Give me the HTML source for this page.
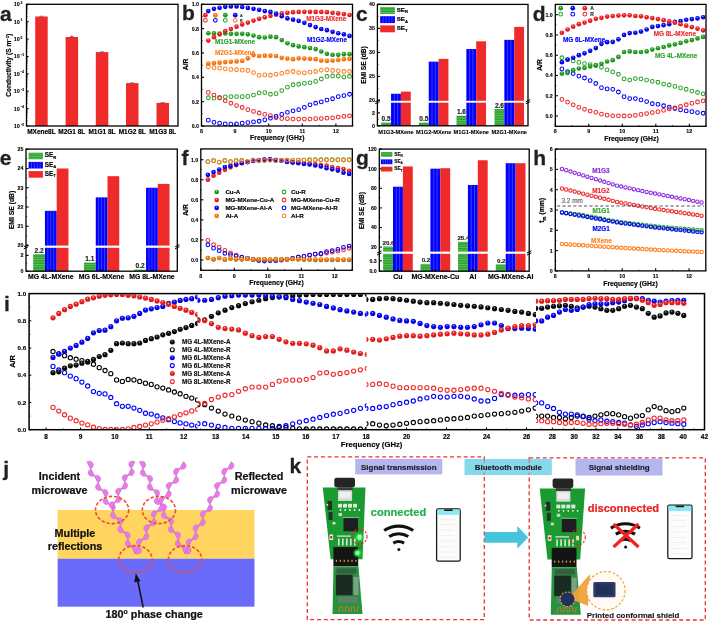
<!DOCTYPE html><html><head><meta charset="utf-8"><style>html,body{margin:0;padding:0;background:#fff;}svg{display:block;will-change:transform;font-family:"Liberation Sans", sans-serif;}</style></head><body>
<svg width="709" height="623" viewBox="0 0 709 623">
<rect width="709" height="623" fill="#fff"/>
<defs>
<radialGradient id="gR" cx="0.45" cy="0.32" r="0.7"><stop offset="0" stop-color="#ffc0c0"/><stop offset="0.3" stop-color="#f02222"/><stop offset="1" stop-color="#d41818"/></radialGradient>
<radialGradient id="gB" cx="0.45" cy="0.32" r="0.7"><stop offset="0" stop-color="#b0b0ff"/><stop offset="0.3" stop-color="#0a0af4"/><stop offset="1" stop-color="#0000d8"/></radialGradient>
<radialGradient id="gG" cx="0.45" cy="0.32" r="0.7"><stop offset="0" stop-color="#b0e8b0"/><stop offset="0.3" stop-color="#24a024"/><stop offset="1" stop-color="#1c8a1c"/></radialGradient>
<radialGradient id="gO" cx="0.45" cy="0.32" r="0.7"><stop offset="0" stop-color="#ffd8b0"/><stop offset="0.3" stop-color="#ff7a12"/><stop offset="1" stop-color="#e86a08"/></radialGradient>
<radialGradient id="gK" cx="0.45" cy="0.32" r="0.7"><stop offset="0" stop-color="#a0a0a0"/><stop offset="0.3" stop-color="#111111"/><stop offset="1" stop-color="#000000"/></radialGradient>
<radialGradient id="gP" cx="0.45" cy="0.32" r="0.7"><stop offset="0" stop-color="#d0a0ff"/><stop offset="0.3" stop-color="#8a2be2"/><stop offset="1" stop-color="#7020c0"/></radialGradient>
<pattern id="pG" patternUnits="userSpaceOnUse" width="4" height="2.4"><rect width="4" height="2.4" fill="#2ea52e"/><rect y="0" width="4" height="0.7" fill="#6cc66c"/></pattern>
</defs>
<defs><radialGradient id="glow"><stop offset="0" stop-color="#eaffea"/><stop offset="0.4" stop-color="#40ff60"/><stop offset="1" stop-color="#20c040" stop-opacity="0"/></radialGradient></defs>
<rect x="35.2" y="16.5" width="12.5" height="109.5" fill="#ee2a2a"/>
<line x1="39.4" y1="16.2" x2="43.4" y2="16.2" stroke="#333" stroke-width="0.6"/>
<rect x="65.6" y="37" width="12.5" height="89" fill="#ee2a2a"/>
<line x1="69.8" y1="36.7" x2="73.8" y2="36.7" stroke="#333" stroke-width="0.6"/>
<rect x="95.8" y="52.1" width="12.5" height="73.9" fill="#ee2a2a"/>
<line x1="100" y1="51.8" x2="104" y2="51.8" stroke="#333" stroke-width="0.6"/>
<rect x="126" y="83.1" width="12.5" height="42.9" fill="#ee2a2a"/>
<line x1="130.2" y1="82.8" x2="134.2" y2="82.8" stroke="#333" stroke-width="0.6"/>
<rect x="156.5" y="102.9" width="12.5" height="23.1" fill="#ee2a2a"/>
<line x1="160.7" y1="102.6" x2="164.7" y2="102.6" stroke="#333" stroke-width="0.6"/>
<line x1="71.8" y1="34.8" x2="71.8" y2="37" stroke="#555" stroke-width="0.6"/>
<rect x="26.5" y="4.3" width="151.5" height="121.7" fill="none" stroke="#000" stroke-width="1.3"/>
<line x1="26.5" y1="4.3" x2="28.7" y2="4.3" stroke="#000" stroke-width="1"/>
<line x1="26.5" y1="16.45" x2="27.7" y2="16.45" stroke="#000" stroke-width="0.6"/>
<line x1="26.5" y1="13.39" x2="27.7" y2="13.39" stroke="#000" stroke-width="0.6"/>
<line x1="26.5" y1="11.22" x2="27.7" y2="11.22" stroke="#000" stroke-width="0.6"/>
<line x1="26.5" y1="9.53" x2="27.7" y2="9.53" stroke="#000" stroke-width="0.6"/>
<line x1="26.5" y1="8.16" x2="27.7" y2="8.16" stroke="#000" stroke-width="0.6"/>
<line x1="26.5" y1="6.99" x2="27.7" y2="6.99" stroke="#000" stroke-width="0.6"/>
<line x1="26.5" y1="5.98" x2="27.7" y2="5.98" stroke="#000" stroke-width="0.6"/>
<line x1="26.5" y1="5.1" x2="27.7" y2="5.1" stroke="#000" stroke-width="0.6"/>
<line x1="26.5" y1="21.69" x2="28.7" y2="21.69" stroke="#000" stroke-width="1"/>
<line x1="26.5" y1="33.84" x2="27.7" y2="33.84" stroke="#000" stroke-width="0.6"/>
<line x1="26.5" y1="30.78" x2="27.7" y2="30.78" stroke="#000" stroke-width="0.6"/>
<line x1="26.5" y1="28.6" x2="27.7" y2="28.6" stroke="#000" stroke-width="0.6"/>
<line x1="26.5" y1="26.92" x2="27.7" y2="26.92" stroke="#000" stroke-width="0.6"/>
<line x1="26.5" y1="25.54" x2="27.7" y2="25.54" stroke="#000" stroke-width="0.6"/>
<line x1="26.5" y1="24.38" x2="27.7" y2="24.38" stroke="#000" stroke-width="0.6"/>
<line x1="26.5" y1="23.37" x2="27.7" y2="23.37" stroke="#000" stroke-width="0.6"/>
<line x1="26.5" y1="22.48" x2="27.7" y2="22.48" stroke="#000" stroke-width="0.6"/>
<line x1="26.5" y1="39.07" x2="28.7" y2="39.07" stroke="#000" stroke-width="1"/>
<line x1="26.5" y1="51.22" x2="27.7" y2="51.22" stroke="#000" stroke-width="0.6"/>
<line x1="26.5" y1="48.16" x2="27.7" y2="48.16" stroke="#000" stroke-width="0.6"/>
<line x1="26.5" y1="45.99" x2="27.7" y2="45.99" stroke="#000" stroke-width="0.6"/>
<line x1="26.5" y1="44.31" x2="27.7" y2="44.31" stroke="#000" stroke-width="0.6"/>
<line x1="26.5" y1="42.93" x2="27.7" y2="42.93" stroke="#000" stroke-width="0.6"/>
<line x1="26.5" y1="41.76" x2="27.7" y2="41.76" stroke="#000" stroke-width="0.6"/>
<line x1="26.5" y1="40.76" x2="27.7" y2="40.76" stroke="#000" stroke-width="0.6"/>
<line x1="26.5" y1="39.87" x2="27.7" y2="39.87" stroke="#000" stroke-width="0.6"/>
<line x1="26.5" y1="56.46" x2="28.7" y2="56.46" stroke="#000" stroke-width="1"/>
<line x1="26.5" y1="68.61" x2="27.7" y2="68.61" stroke="#000" stroke-width="0.6"/>
<line x1="26.5" y1="65.55" x2="27.7" y2="65.55" stroke="#000" stroke-width="0.6"/>
<line x1="26.5" y1="63.38" x2="27.7" y2="63.38" stroke="#000" stroke-width="0.6"/>
<line x1="26.5" y1="61.69" x2="27.7" y2="61.69" stroke="#000" stroke-width="0.6"/>
<line x1="26.5" y1="60.31" x2="27.7" y2="60.31" stroke="#000" stroke-width="0.6"/>
<line x1="26.5" y1="59.15" x2="27.7" y2="59.15" stroke="#000" stroke-width="0.6"/>
<line x1="26.5" y1="58.14" x2="27.7" y2="58.14" stroke="#000" stroke-width="0.6"/>
<line x1="26.5" y1="57.25" x2="27.7" y2="57.25" stroke="#000" stroke-width="0.6"/>
<line x1="26.5" y1="73.84" x2="28.7" y2="73.84" stroke="#000" stroke-width="1"/>
<line x1="26.5" y1="85.99" x2="27.7" y2="85.99" stroke="#000" stroke-width="0.6"/>
<line x1="26.5" y1="82.93" x2="27.7" y2="82.93" stroke="#000" stroke-width="0.6"/>
<line x1="26.5" y1="80.76" x2="27.7" y2="80.76" stroke="#000" stroke-width="0.6"/>
<line x1="26.5" y1="79.08" x2="27.7" y2="79.08" stroke="#000" stroke-width="0.6"/>
<line x1="26.5" y1="77.7" x2="27.7" y2="77.7" stroke="#000" stroke-width="0.6"/>
<line x1="26.5" y1="76.54" x2="27.7" y2="76.54" stroke="#000" stroke-width="0.6"/>
<line x1="26.5" y1="75.53" x2="27.7" y2="75.53" stroke="#000" stroke-width="0.6"/>
<line x1="26.5" y1="74.64" x2="27.7" y2="74.64" stroke="#000" stroke-width="0.6"/>
<line x1="26.5" y1="91.23" x2="28.7" y2="91.23" stroke="#000" stroke-width="1"/>
<line x1="26.5" y1="103.38" x2="27.7" y2="103.38" stroke="#000" stroke-width="0.6"/>
<line x1="26.5" y1="100.32" x2="27.7" y2="100.32" stroke="#000" stroke-width="0.6"/>
<line x1="26.5" y1="98.15" x2="27.7" y2="98.15" stroke="#000" stroke-width="0.6"/>
<line x1="26.5" y1="96.46" x2="27.7" y2="96.46" stroke="#000" stroke-width="0.6"/>
<line x1="26.5" y1="95.09" x2="27.7" y2="95.09" stroke="#000" stroke-width="0.6"/>
<line x1="26.5" y1="93.92" x2="27.7" y2="93.92" stroke="#000" stroke-width="0.6"/>
<line x1="26.5" y1="92.91" x2="27.7" y2="92.91" stroke="#000" stroke-width="0.6"/>
<line x1="26.5" y1="92.02" x2="27.7" y2="92.02" stroke="#000" stroke-width="0.6"/>
<line x1="26.5" y1="108.61" x2="28.7" y2="108.61" stroke="#000" stroke-width="1"/>
<line x1="26.5" y1="120.77" x2="27.7" y2="120.77" stroke="#000" stroke-width="0.6"/>
<line x1="26.5" y1="117.7" x2="27.7" y2="117.7" stroke="#000" stroke-width="0.6"/>
<line x1="26.5" y1="115.53" x2="27.7" y2="115.53" stroke="#000" stroke-width="0.6"/>
<line x1="26.5" y1="113.85" x2="27.7" y2="113.85" stroke="#000" stroke-width="0.6"/>
<line x1="26.5" y1="112.47" x2="27.7" y2="112.47" stroke="#000" stroke-width="0.6"/>
<line x1="26.5" y1="111.31" x2="27.7" y2="111.31" stroke="#000" stroke-width="0.6"/>
<line x1="26.5" y1="110.3" x2="27.7" y2="110.3" stroke="#000" stroke-width="0.6"/>
<line x1="26.5" y1="109.41" x2="27.7" y2="109.41" stroke="#000" stroke-width="0.6"/>
<line x1="26.5" y1="126" x2="28.7" y2="126" stroke="#000" stroke-width="1"/>
<text x="19.7" y="6.3" font-size="5.4" font-weight="bold" fill="#000" text-anchor="end" stroke="#000" stroke-width="0.1">10</text>
<text x="20.4" y="3.9" font-size="3.3" font-weight="bold" fill="#000" text-anchor="start" stroke="#000" stroke-width="0.1">2</text>
<text x="19.7" y="23.69" font-size="5.4" font-weight="bold" fill="#000" text-anchor="end" stroke="#000" stroke-width="0.1">10</text>
<text x="20.4" y="21.29" font-size="3.3" font-weight="bold" fill="#000" text-anchor="start" stroke="#000" stroke-width="0.1">1</text>
<text x="19.7" y="41.07" font-size="5.4" font-weight="bold" fill="#000" text-anchor="end" stroke="#000" stroke-width="0.1">10</text>
<text x="20.4" y="38.67" font-size="3.3" font-weight="bold" fill="#000" text-anchor="start" stroke="#000" stroke-width="0.1">0</text>
<text x="19.7" y="58.46" font-size="5.4" font-weight="bold" fill="#000" text-anchor="end" stroke="#000" stroke-width="0.1">10</text>
<text x="20.4" y="56.06" font-size="3.3" font-weight="bold" fill="#000" text-anchor="start" stroke="#000" stroke-width="0.1">&#8722;1</text>
<text x="19.7" y="75.84" font-size="5.4" font-weight="bold" fill="#000" text-anchor="end" stroke="#000" stroke-width="0.1">10</text>
<text x="20.4" y="73.44" font-size="3.3" font-weight="bold" fill="#000" text-anchor="start" stroke="#000" stroke-width="0.1">&#8722;2</text>
<text x="19.7" y="93.23" font-size="5.4" font-weight="bold" fill="#000" text-anchor="end" stroke="#000" stroke-width="0.1">10</text>
<text x="20.4" y="90.83" font-size="3.3" font-weight="bold" fill="#000" text-anchor="start" stroke="#000" stroke-width="0.1">&#8722;3</text>
<text x="19.7" y="110.61" font-size="5.4" font-weight="bold" fill="#000" text-anchor="end" stroke="#000" stroke-width="0.1">10</text>
<text x="20.4" y="108.21" font-size="3.3" font-weight="bold" fill="#000" text-anchor="start" stroke="#000" stroke-width="0.1">&#8722;4</text>
<text x="19.7" y="128" font-size="5.4" font-weight="bold" fill="#000" text-anchor="end" stroke="#000" stroke-width="0.1">10</text>
<text x="20.4" y="125.6" font-size="3.3" font-weight="bold" fill="#000" text-anchor="start" stroke="#000" stroke-width="0.1">&#8722;5</text>
<text x="41.4" y="134.2" font-size="6.5" font-weight="bold" fill="#000" text-anchor="middle" stroke="#000" stroke-width="0.16">MXene8L</text>
<text x="71.8" y="134.2" font-size="6.5" font-weight="bold" fill="#000" text-anchor="middle" stroke="#000" stroke-width="0.16">M2G1 8L</text>
<text x="102" y="134.2" font-size="6.5" font-weight="bold" fill="#000" text-anchor="middle" stroke="#000" stroke-width="0.16">M1G1 8L</text>
<text x="132.2" y="134.2" font-size="6.5" font-weight="bold" fill="#000" text-anchor="middle" stroke="#000" stroke-width="0.16">M1G2 8L</text>
<text x="162.7" y="134.2" font-size="6.5" font-weight="bold" fill="#000" text-anchor="middle" stroke="#000" stroke-width="0.16">M1G3 8L</text>
<text x="11.4" y="65.3" font-size="6.6" font-weight="bold" fill="#000" text-anchor="middle" transform="rotate(-90 11.4 65.3)" stroke="#000" stroke-width="0.16">Conductivity (S m<tspan font-size="4.2" dy="-2.3">&#8722;1</tspan><tspan dy="2.3">)</tspan></text>
<text x="0.1" y="20.6" font-size="21" font-weight="bold" fill="#231f20" text-anchor="start" stroke="#231f20" stroke-width="0.3">a</text>
<circle cx="208.3" cy="66.73" r="1.87" fill="none" stroke="#ff7f1e" stroke-width="1.05"/>
<circle cx="213.95" cy="67.71" r="1.87" fill="none" stroke="#ff7f1e" stroke-width="1.05"/>
<circle cx="219.6" cy="68.19" r="1.87" fill="none" stroke="#ff7f1e" stroke-width="1.05"/>
<circle cx="225.25" cy="68.8" r="1.87" fill="none" stroke="#ff7f1e" stroke-width="1.05"/>
<circle cx="230.9" cy="69.41" r="1.87" fill="none" stroke="#ff7f1e" stroke-width="1.05"/>
<circle cx="236.55" cy="69.77" r="1.87" fill="none" stroke="#ff7f1e" stroke-width="1.05"/>
<circle cx="242.2" cy="70.14" r="1.87" fill="none" stroke="#ff7f1e" stroke-width="1.05"/>
<circle cx="247.85" cy="70.5" r="1.87" fill="none" stroke="#ff7f1e" stroke-width="1.05"/>
<circle cx="253.5" cy="72.57" r="1.87" fill="none" stroke="#ff7f1e" stroke-width="1.05"/>
<circle cx="259.15" cy="75.37" r="1.87" fill="none" stroke="#ff7f1e" stroke-width="1.05"/>
<circle cx="264.8" cy="74.89" r="1.87" fill="none" stroke="#ff7f1e" stroke-width="1.05"/>
<circle cx="270.45" cy="75.25" r="1.87" fill="none" stroke="#ff7f1e" stroke-width="1.05"/>
<circle cx="276.1" cy="74.28" r="1.87" fill="none" stroke="#ff7f1e" stroke-width="1.05"/>
<circle cx="281.75" cy="73.3" r="1.87" fill="none" stroke="#ff7f1e" stroke-width="1.05"/>
<circle cx="287.4" cy="71.97" r="1.87" fill="none" stroke="#ff7f1e" stroke-width="1.05"/>
<circle cx="293.05" cy="71.48" r="1.87" fill="none" stroke="#ff7f1e" stroke-width="1.05"/>
<circle cx="298.7" cy="72.57" r="1.87" fill="none" stroke="#ff7f1e" stroke-width="1.05"/>
<circle cx="304.35" cy="72.94" r="1.87" fill="none" stroke="#ff7f1e" stroke-width="1.05"/>
<circle cx="310" cy="72.21" r="1.87" fill="none" stroke="#ff7f1e" stroke-width="1.05"/>
<circle cx="315.65" cy="71.48" r="1.87" fill="none" stroke="#ff7f1e" stroke-width="1.05"/>
<circle cx="321.3" cy="70.14" r="1.87" fill="none" stroke="#ff7f1e" stroke-width="1.05"/>
<circle cx="326.95" cy="69.77" r="1.87" fill="none" stroke="#ff7f1e" stroke-width="1.05"/>
<circle cx="332.6" cy="70.5" r="1.87" fill="none" stroke="#ff7f1e" stroke-width="1.05"/>
<circle cx="338.25" cy="70.87" r="1.87" fill="none" stroke="#ff7f1e" stroke-width="1.05"/>
<circle cx="343.9" cy="71.48" r="1.87" fill="none" stroke="#ff7f1e" stroke-width="1.05"/>
<circle cx="349.55" cy="71.48" r="1.87" fill="none" stroke="#ff7f1e" stroke-width="1.05"/>
<circle cx="208.3" cy="97.77" r="1.87" fill="none" stroke="#2ea52e" stroke-width="1.05"/>
<circle cx="213.95" cy="98.13" r="1.87" fill="none" stroke="#2ea52e" stroke-width="1.05"/>
<circle cx="219.6" cy="97.77" r="1.87" fill="none" stroke="#2ea52e" stroke-width="1.05"/>
<circle cx="225.25" cy="96.91" r="1.87" fill="none" stroke="#2ea52e" stroke-width="1.05"/>
<circle cx="230.9" cy="96.67" r="1.87" fill="none" stroke="#2ea52e" stroke-width="1.05"/>
<circle cx="236.55" cy="96.67" r="1.87" fill="none" stroke="#2ea52e" stroke-width="1.05"/>
<circle cx="242.2" cy="96.67" r="1.87" fill="none" stroke="#2ea52e" stroke-width="1.05"/>
<circle cx="247.85" cy="96.43" r="1.87" fill="none" stroke="#2ea52e" stroke-width="1.05"/>
<circle cx="253.5" cy="95.09" r="1.87" fill="none" stroke="#2ea52e" stroke-width="1.05"/>
<circle cx="259.15" cy="92.9" r="1.87" fill="none" stroke="#2ea52e" stroke-width="1.05"/>
<circle cx="264.8" cy="92.53" r="1.87" fill="none" stroke="#2ea52e" stroke-width="1.05"/>
<circle cx="270.45" cy="94.24" r="1.87" fill="none" stroke="#2ea52e" stroke-width="1.05"/>
<circle cx="276.1" cy="93.63" r="1.87" fill="none" stroke="#2ea52e" stroke-width="1.05"/>
<circle cx="281.75" cy="90.59" r="1.87" fill="none" stroke="#2ea52e" stroke-width="1.05"/>
<circle cx="287.4" cy="87.18" r="1.87" fill="none" stroke="#2ea52e" stroke-width="1.05"/>
<circle cx="293.05" cy="84.74" r="1.87" fill="none" stroke="#2ea52e" stroke-width="1.05"/>
<circle cx="298.7" cy="84.26" r="1.87" fill="none" stroke="#2ea52e" stroke-width="1.05"/>
<circle cx="304.35" cy="83.41" r="1.87" fill="none" stroke="#2ea52e" stroke-width="1.05"/>
<circle cx="310" cy="82.8" r="1.87" fill="none" stroke="#2ea52e" stroke-width="1.05"/>
<circle cx="315.65" cy="81.46" r="1.87" fill="none" stroke="#2ea52e" stroke-width="1.05"/>
<circle cx="321.3" cy="79.02" r="1.87" fill="none" stroke="#2ea52e" stroke-width="1.05"/>
<circle cx="326.95" cy="76.47" r="1.87" fill="none" stroke="#2ea52e" stroke-width="1.05"/>
<circle cx="332.6" cy="75.98" r="1.87" fill="none" stroke="#2ea52e" stroke-width="1.05"/>
<circle cx="338.25" cy="75.98" r="1.87" fill="none" stroke="#2ea52e" stroke-width="1.05"/>
<circle cx="343.9" cy="77.08" r="1.87" fill="none" stroke="#2ea52e" stroke-width="1.05"/>
<circle cx="349.55" cy="76.47" r="1.87" fill="none" stroke="#2ea52e" stroke-width="1.05"/>
<circle cx="208.3" cy="92.41" r="1.87" fill="none" stroke="#ee2a2a" stroke-width="1.05"/>
<circle cx="213.95" cy="95.09" r="1.87" fill="none" stroke="#ee2a2a" stroke-width="1.05"/>
<circle cx="219.6" cy="97.77" r="1.87" fill="none" stroke="#ee2a2a" stroke-width="1.05"/>
<circle cx="225.25" cy="100.81" r="1.87" fill="none" stroke="#ee2a2a" stroke-width="1.05"/>
<circle cx="230.9" cy="103.24" r="1.87" fill="none" stroke="#ee2a2a" stroke-width="1.05"/>
<circle cx="236.55" cy="105.55" r="1.87" fill="none" stroke="#ee2a2a" stroke-width="1.05"/>
<circle cx="242.2" cy="107.5" r="1.87" fill="none" stroke="#ee2a2a" stroke-width="1.05"/>
<circle cx="247.85" cy="109.69" r="1.87" fill="none" stroke="#ee2a2a" stroke-width="1.05"/>
<circle cx="253.5" cy="111.4" r="1.87" fill="none" stroke="#ee2a2a" stroke-width="1.05"/>
<circle cx="259.15" cy="112.98" r="1.87" fill="none" stroke="#ee2a2a" stroke-width="1.05"/>
<circle cx="264.8" cy="114.44" r="1.87" fill="none" stroke="#ee2a2a" stroke-width="1.05"/>
<circle cx="270.45" cy="115.53" r="1.87" fill="none" stroke="#ee2a2a" stroke-width="1.05"/>
<circle cx="276.1" cy="117.85" r="1.87" fill="none" stroke="#ee2a2a" stroke-width="1.05"/>
<circle cx="281.75" cy="118.58" r="1.87" fill="none" stroke="#ee2a2a" stroke-width="1.05"/>
<circle cx="287.4" cy="118.7" r="1.87" fill="none" stroke="#ee2a2a" stroke-width="1.05"/>
<circle cx="293.05" cy="119.06" r="1.87" fill="none" stroke="#ee2a2a" stroke-width="1.05"/>
<circle cx="298.7" cy="119.06" r="1.87" fill="none" stroke="#ee2a2a" stroke-width="1.05"/>
<circle cx="304.35" cy="119.06" r="1.87" fill="none" stroke="#ee2a2a" stroke-width="1.05"/>
<circle cx="310" cy="119.06" r="1.87" fill="none" stroke="#ee2a2a" stroke-width="1.05"/>
<circle cx="315.65" cy="118.7" r="1.87" fill="none" stroke="#ee2a2a" stroke-width="1.05"/>
<circle cx="321.3" cy="118.58" r="1.87" fill="none" stroke="#ee2a2a" stroke-width="1.05"/>
<circle cx="326.95" cy="118.21" r="1.87" fill="none" stroke="#ee2a2a" stroke-width="1.05"/>
<circle cx="332.6" cy="117.85" r="1.87" fill="none" stroke="#ee2a2a" stroke-width="1.05"/>
<circle cx="338.25" cy="117.12" r="1.87" fill="none" stroke="#ee2a2a" stroke-width="1.05"/>
<circle cx="343.9" cy="116.39" r="1.87" fill="none" stroke="#ee2a2a" stroke-width="1.05"/>
<circle cx="349.55" cy="115.78" r="1.87" fill="none" stroke="#ee2a2a" stroke-width="1.05"/>
<circle cx="208.3" cy="120.16" r="1.87" fill="none" stroke="#0000ff" stroke-width="1.05"/>
<circle cx="213.95" cy="122.35" r="1.87" fill="none" stroke="#0000ff" stroke-width="1.05"/>
<circle cx="219.6" cy="123.2" r="1.87" fill="none" stroke="#0000ff" stroke-width="1.05"/>
<circle cx="225.25" cy="123.93" r="1.87" fill="none" stroke="#0000ff" stroke-width="1.05"/>
<circle cx="230.9" cy="124.17" r="1.87" fill="none" stroke="#0000ff" stroke-width="1.05"/>
<circle cx="236.55" cy="123.93" r="1.87" fill="none" stroke="#0000ff" stroke-width="1.05"/>
<circle cx="242.2" cy="123.2" r="1.87" fill="none" stroke="#0000ff" stroke-width="1.05"/>
<circle cx="247.85" cy="122.59" r="1.87" fill="none" stroke="#0000ff" stroke-width="1.05"/>
<circle cx="253.5" cy="121.86" r="1.87" fill="none" stroke="#0000ff" stroke-width="1.05"/>
<circle cx="259.15" cy="121.25" r="1.87" fill="none" stroke="#0000ff" stroke-width="1.05"/>
<circle cx="264.8" cy="119.79" r="1.87" fill="none" stroke="#0000ff" stroke-width="1.05"/>
<circle cx="270.45" cy="118.21" r="1.87" fill="none" stroke="#0000ff" stroke-width="1.05"/>
<circle cx="276.1" cy="116.39" r="1.87" fill="none" stroke="#0000ff" stroke-width="1.05"/>
<circle cx="281.75" cy="114.44" r="1.87" fill="none" stroke="#0000ff" stroke-width="1.05"/>
<circle cx="287.4" cy="112.37" r="1.87" fill="none" stroke="#0000ff" stroke-width="1.05"/>
<circle cx="293.05" cy="110.79" r="1.87" fill="none" stroke="#0000ff" stroke-width="1.05"/>
<circle cx="298.7" cy="109.69" r="1.87" fill="none" stroke="#0000ff" stroke-width="1.05"/>
<circle cx="304.35" cy="107.38" r="1.87" fill="none" stroke="#0000ff" stroke-width="1.05"/>
<circle cx="310" cy="104.82" r="1.87" fill="none" stroke="#0000ff" stroke-width="1.05"/>
<circle cx="315.65" cy="103.24" r="1.87" fill="none" stroke="#0000ff" stroke-width="1.05"/>
<circle cx="321.3" cy="101.9" r="1.87" fill="none" stroke="#0000ff" stroke-width="1.05"/>
<circle cx="326.95" cy="100.08" r="1.87" fill="none" stroke="#0000ff" stroke-width="1.05"/>
<circle cx="332.6" cy="98.74" r="1.87" fill="none" stroke="#0000ff" stroke-width="1.05"/>
<circle cx="338.25" cy="96.67" r="1.87" fill="none" stroke="#0000ff" stroke-width="1.05"/>
<circle cx="343.9" cy="95.58" r="1.87" fill="none" stroke="#0000ff" stroke-width="1.05"/>
<circle cx="349.55" cy="94.24" r="1.87" fill="none" stroke="#0000ff" stroke-width="1.05"/>
<circle cx="208.3" cy="63.69" r="2.35" fill="url(#gO)"/>
<circle cx="213.95" cy="63.08" r="2.35" fill="url(#gO)"/>
<circle cx="219.6" cy="62.72" r="2.35" fill="url(#gO)"/>
<circle cx="225.25" cy="62.11" r="2.35" fill="url(#gO)"/>
<circle cx="230.9" cy="61.74" r="2.35" fill="url(#gO)"/>
<circle cx="236.55" cy="61.38" r="2.35" fill="url(#gO)"/>
<circle cx="242.2" cy="60.89" r="2.35" fill="url(#gO)"/>
<circle cx="247.85" cy="58.33" r="2.35" fill="url(#gO)"/>
<circle cx="253.5" cy="55.05" r="2.35" fill="url(#gO)"/>
<circle cx="259.15" cy="56.02" r="2.35" fill="url(#gO)"/>
<circle cx="264.8" cy="55.66" r="2.35" fill="url(#gO)"/>
<circle cx="270.45" cy="55.66" r="2.35" fill="url(#gO)"/>
<circle cx="276.1" cy="56.02" r="2.35" fill="url(#gO)"/>
<circle cx="281.75" cy="57.85" r="2.35" fill="url(#gO)"/>
<circle cx="287.4" cy="58.58" r="2.35" fill="url(#gO)"/>
<circle cx="293.05" cy="59.19" r="2.35" fill="url(#gO)"/>
<circle cx="298.7" cy="58.33" r="2.35" fill="url(#gO)"/>
<circle cx="304.35" cy="58.58" r="2.35" fill="url(#gO)"/>
<circle cx="310" cy="58.82" r="2.35" fill="url(#gO)"/>
<circle cx="315.65" cy="59.19" r="2.35" fill="url(#gO)"/>
<circle cx="321.3" cy="60.53" r="2.35" fill="url(#gO)"/>
<circle cx="326.95" cy="60.89" r="2.35" fill="url(#gO)"/>
<circle cx="332.6" cy="60.53" r="2.35" fill="url(#gO)"/>
<circle cx="338.25" cy="59.92" r="2.35" fill="url(#gO)"/>
<circle cx="343.9" cy="59.19" r="2.35" fill="url(#gO)"/>
<circle cx="349.55" cy="58.82" r="2.35" fill="url(#gO)"/>
<circle cx="208.3" cy="33.26" r="2.35" fill="url(#gG)"/>
<circle cx="213.95" cy="33.26" r="2.35" fill="url(#gG)"/>
<circle cx="219.6" cy="33.51" r="2.35" fill="url(#gG)"/>
<circle cx="225.25" cy="33.51" r="2.35" fill="url(#gG)"/>
<circle cx="230.9" cy="33.87" r="2.35" fill="url(#gG)"/>
<circle cx="236.55" cy="33.87" r="2.35" fill="url(#gG)"/>
<circle cx="242.2" cy="33.87" r="2.35" fill="url(#gG)"/>
<circle cx="247.85" cy="34.36" r="2.35" fill="url(#gG)"/>
<circle cx="253.5" cy="35.58" r="2.35" fill="url(#gG)"/>
<circle cx="259.15" cy="37.16" r="2.35" fill="url(#gG)"/>
<circle cx="264.8" cy="37.52" r="2.35" fill="url(#gG)"/>
<circle cx="270.45" cy="36.67" r="2.35" fill="url(#gG)"/>
<circle cx="276.1" cy="37.16" r="2.35" fill="url(#gG)"/>
<circle cx="281.75" cy="40.08" r="2.35" fill="url(#gG)"/>
<circle cx="287.4" cy="43.24" r="2.35" fill="url(#gG)"/>
<circle cx="293.05" cy="45.19" r="2.35" fill="url(#gG)"/>
<circle cx="298.7" cy="46.41" r="2.35" fill="url(#gG)"/>
<circle cx="304.35" cy="47.14" r="2.35" fill="url(#gG)"/>
<circle cx="310" cy="48.11" r="2.35" fill="url(#gG)"/>
<circle cx="315.65" cy="49.09" r="2.35" fill="url(#gG)"/>
<circle cx="321.3" cy="51.52" r="2.35" fill="url(#gG)"/>
<circle cx="326.95" cy="53.83" r="2.35" fill="url(#gG)"/>
<circle cx="332.6" cy="54.81" r="2.35" fill="url(#gG)"/>
<circle cx="338.25" cy="54.81" r="2.35" fill="url(#gG)"/>
<circle cx="343.9" cy="54.2" r="2.35" fill="url(#gG)"/>
<circle cx="349.55" cy="54.2" r="2.35" fill="url(#gG)"/>
<circle cx="208.3" cy="40.57" r="2.35" fill="url(#gR)"/>
<circle cx="213.95" cy="37.16" r="2.35" fill="url(#gR)"/>
<circle cx="219.6" cy="34.36" r="2.35" fill="url(#gR)"/>
<circle cx="225.25" cy="31.2" r="2.35" fill="url(#gR)"/>
<circle cx="230.9" cy="29.01" r="2.35" fill="url(#gR)"/>
<circle cx="236.55" cy="26.69" r="2.35" fill="url(#gR)"/>
<circle cx="242.2" cy="24.38" r="2.35" fill="url(#gR)"/>
<circle cx="247.85" cy="22.56" r="2.35" fill="url(#gR)"/>
<circle cx="253.5" cy="20.61" r="2.35" fill="url(#gR)"/>
<circle cx="259.15" cy="18.78" r="2.35" fill="url(#gR)"/>
<circle cx="264.8" cy="17.32" r="2.35" fill="url(#gR)"/>
<circle cx="270.45" cy="15.86" r="2.35" fill="url(#gR)"/>
<circle cx="276.1" cy="14.77" r="2.35" fill="url(#gR)"/>
<circle cx="281.75" cy="13.43" r="2.35" fill="url(#gR)"/>
<circle cx="287.4" cy="12.82" r="2.35" fill="url(#gR)"/>
<circle cx="293.05" cy="12.21" r="2.35" fill="url(#gR)"/>
<circle cx="298.7" cy="11.97" r="2.35" fill="url(#gR)"/>
<circle cx="304.35" cy="11.85" r="2.35" fill="url(#gR)"/>
<circle cx="310" cy="11.85" r="2.35" fill="url(#gR)"/>
<circle cx="315.65" cy="11.97" r="2.35" fill="url(#gR)"/>
<circle cx="321.3" cy="11.97" r="2.35" fill="url(#gR)"/>
<circle cx="326.95" cy="12.21" r="2.35" fill="url(#gR)"/>
<circle cx="332.6" cy="12.82" r="2.35" fill="url(#gR)"/>
<circle cx="338.25" cy="13.43" r="2.35" fill="url(#gR)"/>
<circle cx="343.9" cy="14.04" r="2.35" fill="url(#gR)"/>
<circle cx="349.55" cy="15.01" r="2.35" fill="url(#gR)"/>
<circle cx="208.3" cy="11.12" r="2.35" fill="url(#gB)"/>
<circle cx="213.95" cy="8.8" r="2.35" fill="url(#gB)"/>
<circle cx="219.6" cy="7.83" r="2.35" fill="url(#gB)"/>
<circle cx="225.25" cy="6.86" r="2.35" fill="url(#gB)"/>
<circle cx="230.9" cy="6.49" r="2.35" fill="url(#gB)"/>
<circle cx="236.55" cy="6.49" r="2.35" fill="url(#gB)"/>
<circle cx="242.2" cy="6.98" r="2.35" fill="url(#gB)"/>
<circle cx="247.85" cy="7.95" r="2.35" fill="url(#gB)"/>
<circle cx="253.5" cy="8.8" r="2.35" fill="url(#gB)"/>
<circle cx="259.15" cy="9.78" r="2.35" fill="url(#gB)"/>
<circle cx="264.8" cy="11.12" r="2.35" fill="url(#gB)"/>
<circle cx="270.45" cy="11.97" r="2.35" fill="url(#gB)"/>
<circle cx="276.1" cy="13.67" r="2.35" fill="url(#gB)"/>
<circle cx="281.75" cy="16.23" r="2.35" fill="url(#gB)"/>
<circle cx="287.4" cy="18.42" r="2.35" fill="url(#gB)"/>
<circle cx="293.05" cy="19.63" r="2.35" fill="url(#gB)"/>
<circle cx="298.7" cy="20.97" r="2.35" fill="url(#gB)"/>
<circle cx="304.35" cy="22.8" r="2.35" fill="url(#gB)"/>
<circle cx="310" cy="25.11" r="2.35" fill="url(#gB)"/>
<circle cx="315.65" cy="27.06" r="2.35" fill="url(#gB)"/>
<circle cx="321.3" cy="29.01" r="2.35" fill="url(#gB)"/>
<circle cx="326.95" cy="30.22" r="2.35" fill="url(#gB)"/>
<circle cx="332.6" cy="31.8" r="2.35" fill="url(#gB)"/>
<circle cx="338.25" cy="33.26" r="2.35" fill="url(#gB)"/>
<circle cx="343.9" cy="34.36" r="2.35" fill="url(#gB)"/>
<circle cx="349.55" cy="35.94" r="2.35" fill="url(#gB)"/>
<rect x="201.5" y="4.3" width="151" height="121.7" fill="none" stroke="#000" stroke-width="1.3"/>
<line x1="201.5" y1="126" x2="204.1" y2="126" stroke="#000" stroke-width="1.1"/>
<text x="199" y="127.9" font-size="5.3" font-weight="bold" fill="#000" text-anchor="end" stroke="#000" stroke-width="0.1">0.0</text>
<line x1="201.5" y1="101.66" x2="204.1" y2="101.66" stroke="#000" stroke-width="1.1"/>
<text x="199" y="103.56" font-size="5.3" font-weight="bold" fill="#000" text-anchor="end" stroke="#000" stroke-width="0.1">0.2</text>
<line x1="201.5" y1="77.32" x2="204.1" y2="77.32" stroke="#000" stroke-width="1.1"/>
<text x="199" y="79.22" font-size="5.3" font-weight="bold" fill="#000" text-anchor="end" stroke="#000" stroke-width="0.1">0.4</text>
<line x1="201.5" y1="52.98" x2="204.1" y2="52.98" stroke="#000" stroke-width="1.1"/>
<text x="199" y="54.88" font-size="5.3" font-weight="bold" fill="#000" text-anchor="end" stroke="#000" stroke-width="0.1">0.6</text>
<line x1="201.5" y1="28.64" x2="204.1" y2="28.64" stroke="#000" stroke-width="1.1"/>
<text x="199" y="30.54" font-size="5.3" font-weight="bold" fill="#000" text-anchor="end" stroke="#000" stroke-width="0.1">0.8</text>
<line x1="201.5" y1="4.3" x2="204.1" y2="4.3" stroke="#000" stroke-width="1.1"/>
<text x="199" y="6.2" font-size="5.3" font-weight="bold" fill="#000" text-anchor="end" stroke="#000" stroke-width="0.1">1.0</text>
<line x1="201.5" y1="113.83" x2="202.7" y2="113.83" stroke="#000" stroke-width="0.7"/>
<line x1="201.5" y1="89.49" x2="202.7" y2="89.49" stroke="#000" stroke-width="0.7"/>
<line x1="201.5" y1="65.15" x2="202.7" y2="65.15" stroke="#000" stroke-width="0.7"/>
<line x1="201.5" y1="40.81" x2="202.7" y2="40.81" stroke="#000" stroke-width="0.7"/>
<line x1="201.5" y1="16.47" x2="202.7" y2="16.47" stroke="#000" stroke-width="0.7"/>
<line x1="201.5" y1="126" x2="201.5" y2="123.4" stroke="#000" stroke-width="1.1"/>
<text x="201.5" y="132.5" font-size="5.3" font-weight="bold" fill="#000" text-anchor="middle" stroke="#000" stroke-width="0.1">8</text>
<line x1="235.1" y1="126" x2="235.1" y2="123.4" stroke="#000" stroke-width="1.1"/>
<text x="235.1" y="132.5" font-size="5.3" font-weight="bold" fill="#000" text-anchor="middle" stroke="#000" stroke-width="0.1">9</text>
<line x1="268.7" y1="126" x2="268.7" y2="123.4" stroke="#000" stroke-width="1.1"/>
<text x="268.7" y="132.5" font-size="5.3" font-weight="bold" fill="#000" text-anchor="middle" stroke="#000" stroke-width="0.1">10</text>
<line x1="302.3" y1="126" x2="302.3" y2="123.4" stroke="#000" stroke-width="1.1"/>
<text x="302.3" y="132.5" font-size="5.3" font-weight="bold" fill="#000" text-anchor="middle" stroke="#000" stroke-width="0.1">11</text>
<line x1="335.9" y1="126" x2="335.9" y2="123.4" stroke="#000" stroke-width="1.1"/>
<text x="335.9" y="132.5" font-size="5.3" font-weight="bold" fill="#000" text-anchor="middle" stroke="#000" stroke-width="0.1">12</text>
<line x1="218.3" y1="126" x2="218.3" y2="124.8" stroke="#000" stroke-width="0.7"/>
<line x1="251.9" y1="126" x2="251.9" y2="124.8" stroke="#000" stroke-width="0.7"/>
<line x1="285.5" y1="126" x2="285.5" y2="124.8" stroke="#000" stroke-width="0.7"/>
<line x1="319.1" y1="126" x2="319.1" y2="124.8" stroke="#000" stroke-width="0.7"/>
<line x1="352.7" y1="126" x2="352.7" y2="124.8" stroke="#000" stroke-width="0.7"/>
<text x="277.3" y="140.2" font-size="6.8" font-weight="bold" fill="#000" text-anchor="middle" stroke="#000" stroke-width="0.16">Frequency (GHz)</text>
<text x="188.2" y="64.5" font-size="6.8" font-weight="bold" fill="#000" text-anchor="middle" transform="rotate(-90 188.2 64.5)" stroke="#000" stroke-width="0.16">A/R</text>
<circle cx="205.4" cy="15.2" r="2.35" fill="url(#gR)"/>
<circle cx="215.35" cy="15.2" r="2.35" fill="url(#gO)"/>
<circle cx="225.3" cy="15.2" r="2.35" fill="url(#gG)"/>
<circle cx="235.25" cy="15.2" r="2.35" fill="url(#gB)"/>
<circle cx="205.4" cy="20.3" r="1.87" fill="none" stroke="#ee2a2a" stroke-width="1.05"/>
<circle cx="215.35" cy="20.3" r="1.87" fill="none" stroke="#0000ff" stroke-width="1.05"/>
<circle cx="225.3" cy="20.3" r="1.87" fill="none" stroke="#2ea52e" stroke-width="1.05"/>
<circle cx="235.25" cy="20.3" r="1.87" fill="none" stroke="#ff7f1e" stroke-width="1.05"/>
<text x="240" y="16.6" font-size="3.7" font-weight="bold" fill="#222" text-anchor="start" stroke="#222" stroke-width="0.1">A</text>
<text x="240" y="21.9" font-size="3.7" font-weight="bold" fill="#222" text-anchor="start" stroke="#222" stroke-width="0.1">R</text>
<text x="306.2" y="21.3" font-size="6.4" font-weight="bold" fill="#ee2a2a" text-anchor="start" stroke="#ee2a2a" stroke-width="0.16">M1G3-MXene</text>
<text x="306.9" y="42.3" font-size="6.4" font-weight="bold" fill="#0000ff" text-anchor="start" stroke="#0000ff" stroke-width="0.16">M1G2-MXene</text>
<text x="214.9" y="44.2" font-size="6.4" font-weight="bold" fill="#2ea52e" text-anchor="start" stroke="#2ea52e" stroke-width="0.16">M1G1-MXene</text>
<text x="214.9" y="55" font-size="6.4" font-weight="bold" fill="#ff7f1e" text-anchor="start" stroke="#ff7f1e" stroke-width="0.16">M2G1-MXene</text>
<text x="181.9" y="19.9" font-size="21" font-weight="bold" fill="#231f20" text-anchor="start" stroke="#231f20" stroke-width="0.3">b</text>
<rect x="381.2" y="122.58" width="9.85" height="3.22" fill="url(#pG)"/>
<rect x="391.05" y="93.77" width="9.85" height="32.03" fill="#0000ff"/>
<line x1="394.33" y1="93.77" x2="394.33" y2="125.8" stroke="#7070f0" stroke-width="0.55"/>
<line x1="397.62" y1="93.77" x2="397.62" y2="125.8" stroke="#7070f0" stroke-width="0.55"/>
<rect x="400.9" y="91.6" width="9.85" height="34.2" fill="#ee2a2a"/>
<text x="386.12" y="121.08" font-size="6.5" font-weight="bold" fill="#222" text-anchor="middle" stroke="#222" stroke-width="0.16">0.5</text>
<rect x="418.9" y="122.58" width="9.85" height="3.22" fill="url(#pG)"/>
<rect x="428.75" y="61.68" width="9.85" height="64.12" fill="#0000ff"/>
<line x1="432.03" y1="61.68" x2="432.03" y2="125.8" stroke="#7070f0" stroke-width="0.55"/>
<line x1="435.32" y1="61.68" x2="435.32" y2="125.8" stroke="#7070f0" stroke-width="0.55"/>
<rect x="438.6" y="58.89" width="9.85" height="66.91" fill="#ee2a2a"/>
<text x="423.82" y="121.08" font-size="6.5" font-weight="bold" fill="#222" text-anchor="middle" stroke="#222" stroke-width="0.16">0.5</text>
<rect x="456.5" y="115.67" width="9.85" height="10.13" fill="url(#pG)"/>
<rect x="466.35" y="49.03" width="9.85" height="76.77" fill="#0000ff"/>
<line x1="469.63" y1="49.03" x2="469.63" y2="125.8" stroke="#7070f0" stroke-width="0.55"/>
<line x1="472.92" y1="49.03" x2="472.92" y2="125.8" stroke="#7070f0" stroke-width="0.55"/>
<rect x="476.2" y="41.34" width="9.85" height="84.46" fill="#ee2a2a"/>
<text x="461.43" y="114.17" font-size="6.5" font-weight="bold" fill="#222" text-anchor="middle" stroke="#222" stroke-width="0.16">1.6</text>
<rect x="494.5" y="109.03" width="9.85" height="16.77" fill="url(#pG)"/>
<rect x="504.35" y="39.89" width="9.85" height="85.91" fill="#0000ff"/>
<line x1="507.63" y1="39.89" x2="507.63" y2="125.8" stroke="#7070f0" stroke-width="0.55"/>
<line x1="510.92" y1="39.89" x2="510.92" y2="125.8" stroke="#7070f0" stroke-width="0.55"/>
<rect x="514.2" y="26.91" width="9.85" height="98.89" fill="#ee2a2a"/>
<text x="499.43" y="107.53" font-size="6.5" font-weight="bold" fill="#222" text-anchor="middle" stroke="#222" stroke-width="0.16">2.6</text>
<rect x="378.1" y="100.8" width="149.2" height="1.9" fill="#fff"/>
<rect x="377.4" y="4.4" width="150.6" height="121.4" fill="none" stroke="#000" stroke-width="1.3"/>
<line x1="377.4" y1="100.5" x2="380" y2="100.5" stroke="#000" stroke-width="1.1"/>
<text x="374.9" y="102.4" font-size="5.3" font-weight="bold" fill="#000" text-anchor="end" stroke="#000" stroke-width="0.1">20</text>
<line x1="377.4" y1="76.45" x2="380" y2="76.45" stroke="#000" stroke-width="1.1"/>
<text x="374.9" y="78.35" font-size="5.3" font-weight="bold" fill="#000" text-anchor="end" stroke="#000" stroke-width="0.1">25</text>
<line x1="377.4" y1="52.4" x2="380" y2="52.4" stroke="#000" stroke-width="1.1"/>
<text x="374.9" y="54.3" font-size="5.3" font-weight="bold" fill="#000" text-anchor="end" stroke="#000" stroke-width="0.1">30</text>
<line x1="377.4" y1="28.35" x2="380" y2="28.35" stroke="#000" stroke-width="1.1"/>
<text x="374.9" y="30.25" font-size="5.3" font-weight="bold" fill="#000" text-anchor="end" stroke="#000" stroke-width="0.1">35</text>
<line x1="377.4" y1="4.3" x2="380" y2="4.3" stroke="#000" stroke-width="1.1"/>
<text x="374.9" y="6.2" font-size="5.3" font-weight="bold" fill="#000" text-anchor="end" stroke="#000" stroke-width="0.1">40</text>
<line x1="377.4" y1="88.47" x2="378.6" y2="88.47" stroke="#000" stroke-width="0.7"/>
<line x1="377.4" y1="64.43" x2="378.6" y2="64.43" stroke="#000" stroke-width="0.7"/>
<line x1="377.4" y1="40.38" x2="378.6" y2="40.38" stroke="#000" stroke-width="0.7"/>
<line x1="377.4" y1="16.33" x2="378.6" y2="16.33" stroke="#000" stroke-width="0.7"/>
<line x1="377.4" y1="125.8" x2="380" y2="125.8" stroke="#000" stroke-width="1.1"/>
<text x="374.9" y="127.7" font-size="5.3" font-weight="bold" fill="#000" text-anchor="end" stroke="#000" stroke-width="0.1">0</text>
<line x1="377.4" y1="112.9" x2="380" y2="112.9" stroke="#000" stroke-width="1.1"/>
<text x="374.9" y="114.8" font-size="5.3" font-weight="bold" fill="#000" text-anchor="end" stroke="#000" stroke-width="0.1">2</text>
<line x1="377.4" y1="119.35" x2="378.6" y2="119.35" stroke="#000" stroke-width="0.7"/>
<path d="M375.2 101.8l4.4 -2.2M375.2 103.8l4.4 -2.2" stroke="#000" stroke-width="1.0"/>
<path d="M525.8 101.8l4.4 -2.2M525.8 103.8l4.4 -2.2" stroke="#000" stroke-width="1.0"/>
<text x="395.97" y="133.5" font-size="5.65" font-weight="bold" fill="#000" text-anchor="middle" stroke="#000" stroke-width="0.1">M1G3-MXene</text>
<line x1="395.97" y1="125.8" x2="395.97" y2="124.3" stroke="#000" stroke-width="1"/>
<text x="433.67" y="133.5" font-size="5.65" font-weight="bold" fill="#000" text-anchor="middle" stroke="#000" stroke-width="0.1">M1G2-MXene</text>
<line x1="433.67" y1="125.8" x2="433.67" y2="124.3" stroke="#000" stroke-width="1"/>
<text x="471.27" y="133.5" font-size="5.65" font-weight="bold" fill="#000" text-anchor="middle" stroke="#000" stroke-width="0.1">M1G1-MXene</text>
<line x1="471.27" y1="125.8" x2="471.27" y2="124.3" stroke="#000" stroke-width="1"/>
<text x="509.27" y="133.5" font-size="5.65" font-weight="bold" fill="#000" text-anchor="middle" stroke="#000" stroke-width="0.1">M2G1-MXene</text>
<line x1="509.27" y1="125.8" x2="509.27" y2="124.3" stroke="#000" stroke-width="1"/>
<text x="365.9" y="65" font-size="6.6" font-weight="bold" fill="#000" text-anchor="middle" transform="rotate(-90 365.9 65)" stroke="#000" stroke-width="0.16">EMI SE (dB)</text>
<rect x="380.2" y="7" width="14.7" height="6.9" fill="url(#pG)"/>
<rect x="380.2" y="16.2" width="14.7" height="6.9" fill="#0000ff"/>
<line x1="383.14" y1="16.2" x2="383.14" y2="23.1" stroke="#7070f0" stroke-width="0.55"/>
<line x1="386.08" y1="16.2" x2="386.08" y2="23.1" stroke="#7070f0" stroke-width="0.55"/>
<line x1="389.02" y1="16.2" x2="389.02" y2="23.1" stroke="#7070f0" stroke-width="0.55"/>
<line x1="391.96" y1="16.2" x2="391.96" y2="23.1" stroke="#7070f0" stroke-width="0.55"/>
<rect x="380.2" y="25.4" width="14.7" height="6.9" fill="#ee2a2a"/>
<text x="396.7" y="11.97" font-size="6.2" font-weight="bold" fill="#000" text-anchor="start" stroke="#000" stroke-width="0.16">SE<tspan font-size="4.2" dy="1.5">R</tspan></text>
<text x="396.7" y="21.17" font-size="6.2" font-weight="bold" fill="#000" text-anchor="start" stroke="#000" stroke-width="0.16">SE<tspan font-size="4.2" dy="1.5">A</tspan></text>
<text x="396.7" y="30.37" font-size="6.2" font-weight="bold" fill="#000" text-anchor="start" stroke="#000" stroke-width="0.16">SE<tspan font-size="4.2" dy="1.5">T</tspan></text>
<text x="356.1" y="20.6" font-size="21" font-weight="bold" fill="#231f20" text-anchor="start" stroke="#231f20" stroke-width="0.3">c</text>
<circle cx="561.9" cy="57.75" r="1.87" fill="none" stroke="#2ea52e" stroke-width="1.05"/>
<circle cx="567.55" cy="59.58" r="1.87" fill="none" stroke="#2ea52e" stroke-width="1.05"/>
<circle cx="573.2" cy="60.89" r="1.87" fill="none" stroke="#2ea52e" stroke-width="1.05"/>
<circle cx="578.85" cy="62.41" r="1.87" fill="none" stroke="#2ea52e" stroke-width="1.05"/>
<circle cx="584.5" cy="63.53" r="1.87" fill="none" stroke="#2ea52e" stroke-width="1.05"/>
<circle cx="590.15" cy="64.54" r="1.87" fill="none" stroke="#2ea52e" stroke-width="1.05"/>
<circle cx="595.8" cy="65.65" r="1.87" fill="none" stroke="#2ea52e" stroke-width="1.05"/>
<circle cx="601.45" cy="67.27" r="1.87" fill="none" stroke="#2ea52e" stroke-width="1.05"/>
<circle cx="607.1" cy="69.81" r="1.87" fill="none" stroke="#2ea52e" stroke-width="1.05"/>
<circle cx="612.75" cy="71.93" r="1.87" fill="none" stroke="#2ea52e" stroke-width="1.05"/>
<circle cx="618.4" cy="74.26" r="1.87" fill="none" stroke="#2ea52e" stroke-width="1.05"/>
<circle cx="624.05" cy="78.92" r="1.87" fill="none" stroke="#2ea52e" stroke-width="1.05"/>
<circle cx="629.7" cy="80.04" r="1.87" fill="none" stroke="#2ea52e" stroke-width="1.05"/>
<circle cx="635.35" cy="78.62" r="1.87" fill="none" stroke="#2ea52e" stroke-width="1.05"/>
<circle cx="641" cy="78.92" r="1.87" fill="none" stroke="#2ea52e" stroke-width="1.05"/>
<circle cx="646.65" cy="80.04" r="1.87" fill="none" stroke="#2ea52e" stroke-width="1.05"/>
<circle cx="652.3" cy="81.36" r="1.87" fill="none" stroke="#2ea52e" stroke-width="1.05"/>
<circle cx="657.95" cy="82.27" r="1.87" fill="none" stroke="#2ea52e" stroke-width="1.05"/>
<circle cx="663.6" cy="84.09" r="1.87" fill="none" stroke="#2ea52e" stroke-width="1.05"/>
<circle cx="669.25" cy="85" r="1.87" fill="none" stroke="#2ea52e" stroke-width="1.05"/>
<circle cx="674.9" cy="86.42" r="1.87" fill="none" stroke="#2ea52e" stroke-width="1.05"/>
<circle cx="680.55" cy="87.94" r="1.87" fill="none" stroke="#2ea52e" stroke-width="1.05"/>
<circle cx="686.2" cy="89.26" r="1.87" fill="none" stroke="#2ea52e" stroke-width="1.05"/>
<circle cx="691.85" cy="91.18" r="1.87" fill="none" stroke="#2ea52e" stroke-width="1.05"/>
<circle cx="697.5" cy="92.5" r="1.87" fill="none" stroke="#2ea52e" stroke-width="1.05"/>
<circle cx="703.15" cy="93.82" r="1.87" fill="none" stroke="#2ea52e" stroke-width="1.05"/>
<circle cx="561.9" cy="68.9" r="1.87" fill="none" stroke="#0000ff" stroke-width="1.05"/>
<circle cx="567.55" cy="71.53" r="1.87" fill="none" stroke="#0000ff" stroke-width="1.05"/>
<circle cx="573.2" cy="73.56" r="1.87" fill="none" stroke="#0000ff" stroke-width="1.05"/>
<circle cx="578.85" cy="76.09" r="1.87" fill="none" stroke="#0000ff" stroke-width="1.05"/>
<circle cx="584.5" cy="78.01" r="1.87" fill="none" stroke="#0000ff" stroke-width="1.05"/>
<circle cx="590.15" cy="80.55" r="1.87" fill="none" stroke="#0000ff" stroke-width="1.05"/>
<circle cx="595.8" cy="83.48" r="1.87" fill="none" stroke="#0000ff" stroke-width="1.05"/>
<circle cx="601.45" cy="87.64" r="1.87" fill="none" stroke="#0000ff" stroke-width="1.05"/>
<circle cx="607.1" cy="88.95" r="1.87" fill="none" stroke="#0000ff" stroke-width="1.05"/>
<circle cx="612.75" cy="89.36" r="1.87" fill="none" stroke="#0000ff" stroke-width="1.05"/>
<circle cx="618.4" cy="91.99" r="1.87" fill="none" stroke="#0000ff" stroke-width="1.05"/>
<circle cx="624.05" cy="96.65" r="1.87" fill="none" stroke="#0000ff" stroke-width="1.05"/>
<circle cx="629.7" cy="98.58" r="1.87" fill="none" stroke="#0000ff" stroke-width="1.05"/>
<circle cx="635.35" cy="98.58" r="1.87" fill="none" stroke="#0000ff" stroke-width="1.05"/>
<circle cx="641" cy="99.89" r="1.87" fill="none" stroke="#0000ff" stroke-width="1.05"/>
<circle cx="646.65" cy="101.62" r="1.87" fill="none" stroke="#0000ff" stroke-width="1.05"/>
<circle cx="652.3" cy="103.74" r="1.87" fill="none" stroke="#0000ff" stroke-width="1.05"/>
<circle cx="657.95" cy="104.35" r="1.87" fill="none" stroke="#0000ff" stroke-width="1.05"/>
<circle cx="663.6" cy="105.77" r="1.87" fill="none" stroke="#0000ff" stroke-width="1.05"/>
<circle cx="669.25" cy="107.19" r="1.87" fill="none" stroke="#0000ff" stroke-width="1.05"/>
<circle cx="674.9" cy="108.5" r="1.87" fill="none" stroke="#0000ff" stroke-width="1.05"/>
<circle cx="680.55" cy="109.92" r="1.87" fill="none" stroke="#0000ff" stroke-width="1.05"/>
<circle cx="686.2" cy="110.94" r="1.87" fill="none" stroke="#0000ff" stroke-width="1.05"/>
<circle cx="691.85" cy="111.64" r="1.87" fill="none" stroke="#0000ff" stroke-width="1.05"/>
<circle cx="697.5" cy="112.56" r="1.87" fill="none" stroke="#0000ff" stroke-width="1.05"/>
<circle cx="703.15" cy="113.26" r="1.87" fill="none" stroke="#0000ff" stroke-width="1.05"/>
<circle cx="561.9" cy="99.39" r="1.87" fill="none" stroke="#ee2a2a" stroke-width="1.05"/>
<circle cx="567.55" cy="102.12" r="1.87" fill="none" stroke="#ee2a2a" stroke-width="1.05"/>
<circle cx="573.2" cy="104.86" r="1.87" fill="none" stroke="#ee2a2a" stroke-width="1.05"/>
<circle cx="578.85" cy="107.39" r="1.87" fill="none" stroke="#ee2a2a" stroke-width="1.05"/>
<circle cx="584.5" cy="109.31" r="1.87" fill="none" stroke="#ee2a2a" stroke-width="1.05"/>
<circle cx="590.15" cy="111.04" r="1.87" fill="none" stroke="#ee2a2a" stroke-width="1.05"/>
<circle cx="595.8" cy="112.35" r="1.87" fill="none" stroke="#ee2a2a" stroke-width="1.05"/>
<circle cx="601.45" cy="114.18" r="1.87" fill="none" stroke="#ee2a2a" stroke-width="1.05"/>
<circle cx="607.1" cy="115.19" r="1.87" fill="none" stroke="#ee2a2a" stroke-width="1.05"/>
<circle cx="612.75" cy="115.8" r="1.87" fill="none" stroke="#ee2a2a" stroke-width="1.05"/>
<circle cx="618.4" cy="115.8" r="1.87" fill="none" stroke="#ee2a2a" stroke-width="1.05"/>
<circle cx="624.05" cy="116" r="1.87" fill="none" stroke="#ee2a2a" stroke-width="1.05"/>
<circle cx="629.7" cy="115.8" r="1.87" fill="none" stroke="#ee2a2a" stroke-width="1.05"/>
<circle cx="635.35" cy="115.39" r="1.87" fill="none" stroke="#ee2a2a" stroke-width="1.05"/>
<circle cx="641" cy="114.38" r="1.87" fill="none" stroke="#ee2a2a" stroke-width="1.05"/>
<circle cx="646.65" cy="113.57" r="1.87" fill="none" stroke="#ee2a2a" stroke-width="1.05"/>
<circle cx="652.3" cy="112.56" r="1.87" fill="none" stroke="#ee2a2a" stroke-width="1.05"/>
<circle cx="657.95" cy="111.64" r="1.87" fill="none" stroke="#ee2a2a" stroke-width="1.05"/>
<circle cx="663.6" cy="110.33" r="1.87" fill="none" stroke="#ee2a2a" stroke-width="1.05"/>
<circle cx="669.25" cy="108.91" r="1.87" fill="none" stroke="#ee2a2a" stroke-width="1.05"/>
<circle cx="674.9" cy="107.79" r="1.87" fill="none" stroke="#ee2a2a" stroke-width="1.05"/>
<circle cx="680.55" cy="106.48" r="1.87" fill="none" stroke="#ee2a2a" stroke-width="1.05"/>
<circle cx="686.2" cy="104.76" r="1.87" fill="none" stroke="#ee2a2a" stroke-width="1.05"/>
<circle cx="691.85" cy="103.44" r="1.87" fill="none" stroke="#ee2a2a" stroke-width="1.05"/>
<circle cx="697.5" cy="102.02" r="1.87" fill="none" stroke="#ee2a2a" stroke-width="1.05"/>
<circle cx="703.15" cy="100.81" r="1.87" fill="none" stroke="#ee2a2a" stroke-width="1.05"/>
<circle cx="561.9" cy="73.56" r="2.35" fill="url(#gG)"/>
<circle cx="567.55" cy="72.95" r="2.35" fill="url(#gG)"/>
<circle cx="573.2" cy="70.21" r="2.35" fill="url(#gG)"/>
<circle cx="578.85" cy="68.49" r="2.35" fill="url(#gG)"/>
<circle cx="584.5" cy="67.88" r="2.35" fill="url(#gG)"/>
<circle cx="590.15" cy="66.46" r="2.35" fill="url(#gG)"/>
<circle cx="595.8" cy="65.15" r="2.35" fill="url(#gG)"/>
<circle cx="601.45" cy="63.73" r="2.35" fill="url(#gG)"/>
<circle cx="607.1" cy="61.5" r="2.35" fill="url(#gG)"/>
<circle cx="612.75" cy="60.18" r="2.35" fill="url(#gG)"/>
<circle cx="618.4" cy="56.94" r="2.35" fill="url(#gG)"/>
<circle cx="624.05" cy="51.98" r="2.35" fill="url(#gG)"/>
<circle cx="629.7" cy="51.47" r="2.35" fill="url(#gG)"/>
<circle cx="635.35" cy="51.98" r="2.35" fill="url(#gG)"/>
<circle cx="641" cy="51.98" r="2.35" fill="url(#gG)"/>
<circle cx="646.65" cy="51.47" r="2.35" fill="url(#gG)"/>
<circle cx="652.3" cy="49.55" r="2.35" fill="url(#gG)"/>
<circle cx="657.95" cy="48.23" r="2.35" fill="url(#gG)"/>
<circle cx="663.6" cy="47.01" r="2.35" fill="url(#gG)"/>
<circle cx="669.25" cy="45.39" r="2.35" fill="url(#gG)"/>
<circle cx="674.9" cy="44.28" r="2.35" fill="url(#gG)"/>
<circle cx="680.55" cy="42.96" r="2.35" fill="url(#gG)"/>
<circle cx="686.2" cy="41.24" r="2.35" fill="url(#gG)"/>
<circle cx="691.85" cy="40.03" r="2.35" fill="url(#gG)"/>
<circle cx="697.5" cy="38.4" r="2.35" fill="url(#gG)"/>
<circle cx="703.15" cy="36.88" r="2.35" fill="url(#gG)"/>
<circle cx="561.9" cy="62.21" r="2.35" fill="url(#gB)"/>
<circle cx="567.55" cy="59.58" r="2.35" fill="url(#gB)"/>
<circle cx="573.2" cy="57.75" r="2.35" fill="url(#gB)"/>
<circle cx="578.85" cy="55.22" r="2.35" fill="url(#gB)"/>
<circle cx="584.5" cy="53.3" r="2.35" fill="url(#gB)"/>
<circle cx="590.15" cy="50.86" r="2.35" fill="url(#gB)"/>
<circle cx="595.8" cy="48.03" r="2.35" fill="url(#gB)"/>
<circle cx="601.45" cy="43.87" r="2.35" fill="url(#gB)"/>
<circle cx="607.1" cy="42.15" r="2.35" fill="url(#gB)"/>
<circle cx="612.75" cy="41.95" r="2.35" fill="url(#gB)"/>
<circle cx="618.4" cy="39.32" r="2.35" fill="url(#gB)"/>
<circle cx="624.05" cy="34.96" r="2.35" fill="url(#gB)"/>
<circle cx="629.7" cy="33.04" r="2.35" fill="url(#gB)"/>
<circle cx="635.35" cy="32.73" r="2.35" fill="url(#gB)"/>
<circle cx="641" cy="31.62" r="2.35" fill="url(#gB)"/>
<circle cx="646.65" cy="29.49" r="2.35" fill="url(#gB)"/>
<circle cx="652.3" cy="26.96" r="2.35" fill="url(#gB)"/>
<circle cx="657.95" cy="26.05" r="2.35" fill="url(#gB)"/>
<circle cx="663.6" cy="25.13" r="2.35" fill="url(#gB)"/>
<circle cx="669.25" cy="24.22" r="2.35" fill="url(#gB)"/>
<circle cx="674.9" cy="21.89" r="2.35" fill="url(#gB)"/>
<circle cx="680.55" cy="20.98" r="2.35" fill="url(#gB)"/>
<circle cx="686.2" cy="19.77" r="2.35" fill="url(#gB)"/>
<circle cx="691.85" cy="19.06" r="2.35" fill="url(#gB)"/>
<circle cx="697.5" cy="18.45" r="2.35" fill="url(#gB)"/>
<circle cx="703.15" cy="17.23" r="2.35" fill="url(#gB)"/>
<circle cx="561.9" cy="32.73" r="2.35" fill="url(#gR)"/>
<circle cx="567.55" cy="29.49" r="2.35" fill="url(#gR)"/>
<circle cx="573.2" cy="26.65" r="2.35" fill="url(#gR)"/>
<circle cx="578.85" cy="24.22" r="2.35" fill="url(#gR)"/>
<circle cx="584.5" cy="22.6" r="2.35" fill="url(#gR)"/>
<circle cx="590.15" cy="20.68" r="2.35" fill="url(#gR)"/>
<circle cx="595.8" cy="18.85" r="2.35" fill="url(#gR)"/>
<circle cx="601.45" cy="17.84" r="2.35" fill="url(#gR)"/>
<circle cx="607.1" cy="16.62" r="2.35" fill="url(#gR)"/>
<circle cx="612.75" cy="16.02" r="2.35" fill="url(#gR)"/>
<circle cx="618.4" cy="15.61" r="2.35" fill="url(#gR)"/>
<circle cx="624.05" cy="15.31" r="2.35" fill="url(#gR)"/>
<circle cx="629.7" cy="15.31" r="2.35" fill="url(#gR)"/>
<circle cx="635.35" cy="16.02" r="2.35" fill="url(#gR)"/>
<circle cx="641" cy="16.32" r="2.35" fill="url(#gR)"/>
<circle cx="646.65" cy="17.23" r="2.35" fill="url(#gR)"/>
<circle cx="652.3" cy="18.04" r="2.35" fill="url(#gR)"/>
<circle cx="657.95" cy="19.06" r="2.35" fill="url(#gR)"/>
<circle cx="663.6" cy="20.17" r="2.35" fill="url(#gR)"/>
<circle cx="669.25" cy="21.39" r="2.35" fill="url(#gR)"/>
<circle cx="674.9" cy="22.7" r="2.35" fill="url(#gR)"/>
<circle cx="680.55" cy="24.22" r="2.35" fill="url(#gR)"/>
<circle cx="686.2" cy="25.64" r="2.35" fill="url(#gR)"/>
<circle cx="691.85" cy="27.06" r="2.35" fill="url(#gR)"/>
<circle cx="697.5" cy="28.68" r="2.35" fill="url(#gR)"/>
<circle cx="703.15" cy="30.3" r="2.35" fill="url(#gR)"/>
<rect x="555.3" y="4.4" width="150.7" height="121.9" fill="none" stroke="#000" stroke-width="1.3"/>
<line x1="555.3" y1="116" x2="557.9" y2="116" stroke="#000" stroke-width="1.1"/>
<text x="552.8" y="117.9" font-size="5.3" font-weight="bold" fill="#000" text-anchor="end" stroke="#000" stroke-width="0.1">0.0</text>
<line x1="555.3" y1="95.74" x2="557.9" y2="95.74" stroke="#000" stroke-width="1.1"/>
<text x="552.8" y="97.64" font-size="5.3" font-weight="bold" fill="#000" text-anchor="end" stroke="#000" stroke-width="0.1">0.2</text>
<line x1="555.3" y1="75.48" x2="557.9" y2="75.48" stroke="#000" stroke-width="1.1"/>
<text x="552.8" y="77.38" font-size="5.3" font-weight="bold" fill="#000" text-anchor="end" stroke="#000" stroke-width="0.1">0.4</text>
<line x1="555.3" y1="55.22" x2="557.9" y2="55.22" stroke="#000" stroke-width="1.1"/>
<text x="552.8" y="57.12" font-size="5.3" font-weight="bold" fill="#000" text-anchor="end" stroke="#000" stroke-width="0.1">0.6</text>
<line x1="555.3" y1="34.96" x2="557.9" y2="34.96" stroke="#000" stroke-width="1.1"/>
<text x="552.8" y="36.86" font-size="5.3" font-weight="bold" fill="#000" text-anchor="end" stroke="#000" stroke-width="0.1">0.8</text>
<line x1="555.3" y1="14.7" x2="557.9" y2="14.7" stroke="#000" stroke-width="1.1"/>
<text x="552.8" y="16.6" font-size="5.3" font-weight="bold" fill="#000" text-anchor="end" stroke="#000" stroke-width="0.1">1.0</text>
<line x1="555.3" y1="126.13" x2="556.5" y2="126.13" stroke="#000" stroke-width="0.7"/>
<line x1="555.3" y1="105.87" x2="556.5" y2="105.87" stroke="#000" stroke-width="0.7"/>
<line x1="555.3" y1="85.61" x2="556.5" y2="85.61" stroke="#000" stroke-width="0.7"/>
<line x1="555.3" y1="65.35" x2="556.5" y2="65.35" stroke="#000" stroke-width="0.7"/>
<line x1="555.3" y1="45.09" x2="556.5" y2="45.09" stroke="#000" stroke-width="0.7"/>
<line x1="555.3" y1="24.83" x2="556.5" y2="24.83" stroke="#000" stroke-width="0.7"/>
<line x1="555.3" y1="4.57" x2="556.5" y2="4.57" stroke="#000" stroke-width="0.7"/>
<line x1="555.3" y1="126.3" x2="555.3" y2="123.7" stroke="#000" stroke-width="1.1"/>
<text x="555.3" y="133" font-size="5.3" font-weight="bold" fill="#000" text-anchor="middle" stroke="#000" stroke-width="0.1">8</text>
<line x1="588.8" y1="126.3" x2="588.8" y2="123.7" stroke="#000" stroke-width="1.1"/>
<text x="588.8" y="133" font-size="5.3" font-weight="bold" fill="#000" text-anchor="middle" stroke="#000" stroke-width="0.1">9</text>
<line x1="622.3" y1="126.3" x2="622.3" y2="123.7" stroke="#000" stroke-width="1.1"/>
<text x="622.3" y="133" font-size="5.3" font-weight="bold" fill="#000" text-anchor="middle" stroke="#000" stroke-width="0.1">10</text>
<line x1="655.8" y1="126.3" x2="655.8" y2="123.7" stroke="#000" stroke-width="1.1"/>
<text x="655.8" y="133" font-size="5.3" font-weight="bold" fill="#000" text-anchor="middle" stroke="#000" stroke-width="0.1">11</text>
<line x1="689.3" y1="126.3" x2="689.3" y2="123.7" stroke="#000" stroke-width="1.1"/>
<text x="689.3" y="133" font-size="5.3" font-weight="bold" fill="#000" text-anchor="middle" stroke="#000" stroke-width="0.1">12</text>
<line x1="572.05" y1="126.3" x2="572.05" y2="125.1" stroke="#000" stroke-width="0.7"/>
<line x1="605.55" y1="126.3" x2="605.55" y2="125.1" stroke="#000" stroke-width="0.7"/>
<line x1="639.05" y1="126.3" x2="639.05" y2="125.1" stroke="#000" stroke-width="0.7"/>
<line x1="672.55" y1="126.3" x2="672.55" y2="125.1" stroke="#000" stroke-width="0.7"/>
<line x1="706.05" y1="126.3" x2="706.05" y2="125.1" stroke="#000" stroke-width="0.7"/>
<text x="631.5" y="140.5" font-size="6.8" font-weight="bold" fill="#000" text-anchor="middle" stroke="#000" stroke-width="0.16">Frequency (GHz)</text>
<text x="541.5" y="65" font-size="6.8" font-weight="bold" fill="#000" text-anchor="middle" transform="rotate(-90 541.5 65)" stroke="#000" stroke-width="0.16">A/R</text>
<circle cx="560.7" cy="8.2" r="2.35" fill="url(#gG)"/>
<circle cx="560.7" cy="14.2" r="1.87" fill="none" stroke="#2ea52e" stroke-width="1.05"/>
<circle cx="572.75" cy="8.2" r="2.35" fill="url(#gB)"/>
<circle cx="572.75" cy="14.2" r="1.87" fill="none" stroke="#0000ff" stroke-width="1.05"/>
<circle cx="584.8" cy="8.2" r="2.35" fill="url(#gR)"/>
<circle cx="584.8" cy="14.2" r="1.87" fill="none" stroke="#ee2a2a" stroke-width="1.05"/>
<text x="590.2" y="10.3" font-size="5" font-weight="bold" fill="#222" text-anchor="start" stroke="#222" stroke-width="0.1">A</text>
<text x="590.2" y="15.7" font-size="5" font-weight="bold" fill="#222" text-anchor="start" stroke="#222" stroke-width="0.1">R</text>
<text x="653.7" y="35.8" font-size="6.4" font-weight="bold" fill="#ee2a2a" text-anchor="start" stroke="#ee2a2a" stroke-width="0.16">MG 8L-MXene</text>
<text x="655" y="57.7" font-size="6.4" font-weight="bold" fill="#2ea52e" text-anchor="start" stroke="#2ea52e" stroke-width="0.16">MG 4L-MXene</text>
<text x="563" y="41.5" font-size="6.4" font-weight="bold" fill="#0000ff" text-anchor="start" stroke="#0000ff" stroke-width="0.16">MG 6L-MXene</text>
<text x="532.8" y="20.5" font-size="21" font-weight="bold" fill="#231f20" text-anchor="start" stroke="#231f20" stroke-width="0.3">d</text>
<rect x="33.2" y="254.21" width="11.75" height="16.99" fill="url(#pG)"/>
<rect x="44.95" y="210.85" width="11.75" height="60.35" fill="#0000ff"/>
<line x1="47.89" y1="210.85" x2="47.89" y2="271.2" stroke="#7070f0" stroke-width="0.55"/>
<line x1="50.83" y1="210.85" x2="50.83" y2="271.2" stroke="#7070f0" stroke-width="0.55"/>
<line x1="53.76" y1="210.85" x2="53.76" y2="271.2" stroke="#7070f0" stroke-width="0.55"/>
<rect x="56.7" y="168.5" width="11.75" height="102.7" fill="#ee2a2a"/>
<text x="39.08" y="252.61" font-size="6.6" font-weight="bold" fill="#222" text-anchor="middle" stroke="#222" stroke-width="0.16">2.2</text>
<rect x="84" y="262.59" width="11.75" height="8.61" fill="url(#pG)"/>
<rect x="95.75" y="197.38" width="11.75" height="73.82" fill="#0000ff"/>
<line x1="98.69" y1="197.38" x2="98.69" y2="271.2" stroke="#7070f0" stroke-width="0.55"/>
<line x1="101.62" y1="197.38" x2="101.62" y2="271.2" stroke="#7070f0" stroke-width="0.55"/>
<line x1="104.56" y1="197.38" x2="104.56" y2="271.2" stroke="#7070f0" stroke-width="0.55"/>
<rect x="107.5" y="176.2" width="11.75" height="95" fill="#ee2a2a"/>
<text x="89.88" y="260.99" font-size="6.6" font-weight="bold" fill="#222" text-anchor="middle" stroke="#222" stroke-width="0.16">1.1</text>
<rect x="134.3" y="269.62" width="11.75" height="1.58" fill="url(#pG)"/>
<rect x="146.05" y="187.75" width="11.75" height="83.45" fill="#0000ff"/>
<line x1="148.99" y1="187.75" x2="148.99" y2="271.2" stroke="#7070f0" stroke-width="0.55"/>
<line x1="151.93" y1="187.75" x2="151.93" y2="271.2" stroke="#7070f0" stroke-width="0.55"/>
<line x1="154.86" y1="187.75" x2="154.86" y2="271.2" stroke="#7070f0" stroke-width="0.55"/>
<rect x="157.8" y="183.9" width="11.75" height="87.3" fill="#ee2a2a"/>
<text x="140.18" y="268.02" font-size="6.6" font-weight="bold" fill="#222" text-anchor="middle" stroke="#222" stroke-width="0.16">0.2</text>
<rect x="26.7" y="245.6" width="149.9" height="2.2" fill="#fff"/>
<rect x="26" y="149.1" width="151.3" height="122.1" fill="none" stroke="#000" stroke-width="1.3"/>
<line x1="26" y1="245.5" x2="28.6" y2="245.5" stroke="#000" stroke-width="1.1"/>
<text x="23.5" y="247.4" font-size="5.3" font-weight="bold" fill="#000" text-anchor="end" stroke="#000" stroke-width="0.1">20</text>
<line x1="26" y1="226.25" x2="28.6" y2="226.25" stroke="#000" stroke-width="1.1"/>
<text x="23.5" y="228.15" font-size="5.3" font-weight="bold" fill="#000" text-anchor="end" stroke="#000" stroke-width="0.1">21</text>
<line x1="26" y1="207" x2="28.6" y2="207" stroke="#000" stroke-width="1.1"/>
<text x="23.5" y="208.9" font-size="5.3" font-weight="bold" fill="#000" text-anchor="end" stroke="#000" stroke-width="0.1">22</text>
<line x1="26" y1="187.75" x2="28.6" y2="187.75" stroke="#000" stroke-width="1.1"/>
<text x="23.5" y="189.65" font-size="5.3" font-weight="bold" fill="#000" text-anchor="end" stroke="#000" stroke-width="0.1">23</text>
<line x1="26" y1="168.5" x2="28.6" y2="168.5" stroke="#000" stroke-width="1.1"/>
<text x="23.5" y="170.4" font-size="5.3" font-weight="bold" fill="#000" text-anchor="end" stroke="#000" stroke-width="0.1">24</text>
<line x1="26" y1="149.25" x2="28.6" y2="149.25" stroke="#000" stroke-width="1.1"/>
<text x="23.5" y="151.15" font-size="5.3" font-weight="bold" fill="#000" text-anchor="end" stroke="#000" stroke-width="0.1">25</text>
<line x1="26" y1="235.88" x2="27.2" y2="235.88" stroke="#000" stroke-width="0.7"/>
<line x1="26" y1="216.62" x2="27.2" y2="216.62" stroke="#000" stroke-width="0.7"/>
<line x1="26" y1="197.38" x2="27.2" y2="197.38" stroke="#000" stroke-width="0.7"/>
<line x1="26" y1="178.12" x2="27.2" y2="178.12" stroke="#000" stroke-width="0.7"/>
<line x1="26" y1="158.88" x2="27.2" y2="158.88" stroke="#000" stroke-width="0.7"/>
<line x1="26" y1="271.2" x2="28.6" y2="271.2" stroke="#000" stroke-width="1.1"/>
<text x="23.5" y="273.1" font-size="5.3" font-weight="bold" fill="#000" text-anchor="end" stroke="#000" stroke-width="0.1">0</text>
<line x1="26" y1="255.4" x2="28.6" y2="255.4" stroke="#000" stroke-width="1.1"/>
<text x="23.5" y="257.3" font-size="5.3" font-weight="bold" fill="#000" text-anchor="end" stroke="#000" stroke-width="0.1">2</text>
<line x1="26" y1="263.3" x2="27.2" y2="263.3" stroke="#000" stroke-width="0.7"/>
<path d="M23.8 246.8l4.4 -2.2M23.8 248.8l4.4 -2.2" stroke="#000" stroke-width="1.0"/>
<path d="M175.1 246.8l4.4 -2.2M175.1 248.8l4.4 -2.2" stroke="#000" stroke-width="1.0"/>
<text x="50.83" y="279" font-size="6.9" font-weight="bold" fill="#000" text-anchor="middle" stroke="#000" stroke-width="0.16">MG 4L-MXene</text>
<line x1="50.83" y1="271.2" x2="50.83" y2="269.7" stroke="#000" stroke-width="1"/>
<text x="101.62" y="279" font-size="6.9" font-weight="bold" fill="#000" text-anchor="middle" stroke="#000" stroke-width="0.16">MG 6L-MXene</text>
<line x1="101.62" y1="271.2" x2="101.62" y2="269.7" stroke="#000" stroke-width="1"/>
<text x="151.93" y="279" font-size="6.9" font-weight="bold" fill="#000" text-anchor="middle" stroke="#000" stroke-width="0.16">MG 8L-MXene</text>
<line x1="151.93" y1="271.2" x2="151.93" y2="269.7" stroke="#000" stroke-width="1"/>
<text x="13.8" y="210" font-size="6.8" font-weight="bold" fill="#000" text-anchor="middle" transform="rotate(-90 13.8 210)" stroke="#000" stroke-width="0.16">EMI SE (dB)</text>
<rect x="28.6" y="152.7" width="14.3" height="6.6" fill="url(#pG)"/>
<rect x="28.6" y="161.9" width="14.3" height="6.6" fill="#0000ff"/>
<line x1="31.46" y1="161.9" x2="31.46" y2="168.5" stroke="#7070f0" stroke-width="0.55"/>
<line x1="34.32" y1="161.9" x2="34.32" y2="168.5" stroke="#7070f0" stroke-width="0.55"/>
<line x1="37.18" y1="161.9" x2="37.18" y2="168.5" stroke="#7070f0" stroke-width="0.55"/>
<line x1="40.04" y1="161.9" x2="40.04" y2="168.5" stroke="#7070f0" stroke-width="0.55"/>
<rect x="28.6" y="171.1" width="14.3" height="6.6" fill="#ee2a2a"/>
<text x="44.7" y="157.45" font-size="6.4" font-weight="bold" fill="#000" text-anchor="start" stroke="#000" stroke-width="0.16">SE<tspan font-size="4.2" dy="1.5">R</tspan></text>
<text x="44.7" y="166.65" font-size="6.4" font-weight="bold" fill="#000" text-anchor="start" stroke="#000" stroke-width="0.16">SE<tspan font-size="4.2" dy="1.5">A</tspan></text>
<text x="44.7" y="175.85" font-size="6.4" font-weight="bold" fill="#000" text-anchor="start" stroke="#000" stroke-width="0.16">SE<tspan font-size="4.2" dy="1.5">T</tspan></text>
<text x="-0.2" y="165" font-size="21" font-weight="bold" fill="#231f20" text-anchor="start" stroke="#231f20" stroke-width="0.3">e</text>
<circle cx="207.9" cy="161.71" r="1.87" fill="none" stroke="#2ea52e" stroke-width="1.05"/>
<circle cx="213.55" cy="160.7" r="1.87" fill="none" stroke="#2ea52e" stroke-width="1.05"/>
<circle cx="219.2" cy="162.21" r="1.87" fill="none" stroke="#2ea52e" stroke-width="1.05"/>
<circle cx="224.85" cy="160.5" r="1.87" fill="none" stroke="#2ea52e" stroke-width="1.05"/>
<circle cx="230.5" cy="161.71" r="1.87" fill="none" stroke="#2ea52e" stroke-width="1.05"/>
<circle cx="236.15" cy="160.7" r="1.87" fill="none" stroke="#2ea52e" stroke-width="1.05"/>
<circle cx="241.8" cy="160.5" r="1.87" fill="none" stroke="#2ea52e" stroke-width="1.05"/>
<circle cx="247.45" cy="161.71" r="1.87" fill="none" stroke="#2ea52e" stroke-width="1.05"/>
<circle cx="253.1" cy="160.1" r="1.87" fill="none" stroke="#2ea52e" stroke-width="1.05"/>
<circle cx="258.75" cy="160.5" r="1.87" fill="none" stroke="#2ea52e" stroke-width="1.05"/>
<circle cx="264.4" cy="160.5" r="1.87" fill="none" stroke="#2ea52e" stroke-width="1.05"/>
<circle cx="270.05" cy="160.1" r="1.87" fill="none" stroke="#2ea52e" stroke-width="1.05"/>
<circle cx="275.7" cy="160.7" r="1.87" fill="none" stroke="#2ea52e" stroke-width="1.05"/>
<circle cx="281.35" cy="160.3" r="1.87" fill="none" stroke="#2ea52e" stroke-width="1.05"/>
<circle cx="287" cy="160.1" r="1.87" fill="none" stroke="#2ea52e" stroke-width="1.05"/>
<circle cx="292.65" cy="160.3" r="1.87" fill="none" stroke="#2ea52e" stroke-width="1.05"/>
<circle cx="298.3" cy="160.1" r="1.87" fill="none" stroke="#2ea52e" stroke-width="1.05"/>
<circle cx="303.95" cy="160.1" r="1.87" fill="none" stroke="#2ea52e" stroke-width="1.05"/>
<circle cx="309.6" cy="159.7" r="1.87" fill="none" stroke="#2ea52e" stroke-width="1.05"/>
<circle cx="315.25" cy="159.7" r="1.87" fill="none" stroke="#2ea52e" stroke-width="1.05"/>
<circle cx="320.9" cy="159.7" r="1.87" fill="none" stroke="#2ea52e" stroke-width="1.05"/>
<circle cx="326.55" cy="159.7" r="1.87" fill="none" stroke="#2ea52e" stroke-width="1.05"/>
<circle cx="332.2" cy="159.7" r="1.87" fill="none" stroke="#2ea52e" stroke-width="1.05"/>
<circle cx="337.85" cy="159.7" r="1.87" fill="none" stroke="#2ea52e" stroke-width="1.05"/>
<circle cx="343.5" cy="159.7" r="1.87" fill="none" stroke="#2ea52e" stroke-width="1.05"/>
<circle cx="349.15" cy="159.7" r="1.87" fill="none" stroke="#2ea52e" stroke-width="1.05"/>
<circle cx="207.9" cy="240.44" r="1.87" fill="none" stroke="#ee2a2a" stroke-width="1.05"/>
<circle cx="213.55" cy="244.55" r="1.87" fill="none" stroke="#ee2a2a" stroke-width="1.05"/>
<circle cx="219.2" cy="247.36" r="1.87" fill="none" stroke="#ee2a2a" stroke-width="1.05"/>
<circle cx="224.85" cy="250.27" r="1.87" fill="none" stroke="#ee2a2a" stroke-width="1.05"/>
<circle cx="230.5" cy="252.88" r="1.87" fill="none" stroke="#ee2a2a" stroke-width="1.05"/>
<circle cx="236.15" cy="255.09" r="1.87" fill="none" stroke="#ee2a2a" stroke-width="1.05"/>
<circle cx="241.8" cy="257.09" r="1.87" fill="none" stroke="#ee2a2a" stroke-width="1.05"/>
<circle cx="247.45" cy="258.4" r="1.87" fill="none" stroke="#ee2a2a" stroke-width="1.05"/>
<circle cx="253.1" cy="259.3" r="1.87" fill="none" stroke="#ee2a2a" stroke-width="1.05"/>
<circle cx="258.75" cy="260" r="1.87" fill="none" stroke="#ee2a2a" stroke-width="1.05"/>
<circle cx="264.4" cy="260.2" r="1.87" fill="none" stroke="#ee2a2a" stroke-width="1.05"/>
<circle cx="270.05" cy="260.5" r="1.87" fill="none" stroke="#ee2a2a" stroke-width="1.05"/>
<circle cx="275.7" cy="260.5" r="1.87" fill="none" stroke="#ee2a2a" stroke-width="1.05"/>
<circle cx="281.35" cy="260" r="1.87" fill="none" stroke="#ee2a2a" stroke-width="1.05"/>
<circle cx="287" cy="259.3" r="1.87" fill="none" stroke="#ee2a2a" stroke-width="1.05"/>
<circle cx="292.65" cy="258.4" r="1.87" fill="none" stroke="#ee2a2a" stroke-width="1.05"/>
<circle cx="298.3" cy="257.09" r="1.87" fill="none" stroke="#ee2a2a" stroke-width="1.05"/>
<circle cx="303.95" cy="256.39" r="1.87" fill="none" stroke="#ee2a2a" stroke-width="1.05"/>
<circle cx="309.6" cy="255.09" r="1.87" fill="none" stroke="#ee2a2a" stroke-width="1.05"/>
<circle cx="315.25" cy="254.18" r="1.87" fill="none" stroke="#ee2a2a" stroke-width="1.05"/>
<circle cx="320.9" cy="254.18" r="1.87" fill="none" stroke="#ee2a2a" stroke-width="1.05"/>
<circle cx="326.55" cy="252.98" r="1.87" fill="none" stroke="#ee2a2a" stroke-width="1.05"/>
<circle cx="332.2" cy="251.98" r="1.87" fill="none" stroke="#ee2a2a" stroke-width="1.05"/>
<circle cx="337.85" cy="251.17" r="1.87" fill="none" stroke="#ee2a2a" stroke-width="1.05"/>
<circle cx="343.5" cy="249.97" r="1.87" fill="none" stroke="#ee2a2a" stroke-width="1.05"/>
<circle cx="349.15" cy="248.26" r="1.87" fill="none" stroke="#ee2a2a" stroke-width="1.05"/>
<circle cx="207.9" cy="244.75" r="1.87" fill="none" stroke="#0000ff" stroke-width="1.05"/>
<circle cx="213.55" cy="248.16" r="1.87" fill="none" stroke="#0000ff" stroke-width="1.05"/>
<circle cx="219.2" cy="250.67" r="1.87" fill="none" stroke="#0000ff" stroke-width="1.05"/>
<circle cx="224.85" cy="253.28" r="1.87" fill="none" stroke="#0000ff" stroke-width="1.05"/>
<circle cx="230.5" cy="254.58" r="1.87" fill="none" stroke="#0000ff" stroke-width="1.05"/>
<circle cx="236.15" cy="256.09" r="1.87" fill="none" stroke="#0000ff" stroke-width="1.05"/>
<circle cx="241.8" cy="257.39" r="1.87" fill="none" stroke="#0000ff" stroke-width="1.05"/>
<circle cx="247.45" cy="258.4" r="1.87" fill="none" stroke="#0000ff" stroke-width="1.05"/>
<circle cx="253.1" cy="259.7" r="1.87" fill="none" stroke="#0000ff" stroke-width="1.05"/>
<circle cx="258.75" cy="260.6" r="1.87" fill="none" stroke="#0000ff" stroke-width="1.05"/>
<circle cx="264.4" cy="261" r="1.87" fill="none" stroke="#0000ff" stroke-width="1.05"/>
<circle cx="270.05" cy="260.6" r="1.87" fill="none" stroke="#0000ff" stroke-width="1.05"/>
<circle cx="275.7" cy="260.6" r="1.87" fill="none" stroke="#0000ff" stroke-width="1.05"/>
<circle cx="281.35" cy="260" r="1.87" fill="none" stroke="#0000ff" stroke-width="1.05"/>
<circle cx="287" cy="259.3" r="1.87" fill="none" stroke="#0000ff" stroke-width="1.05"/>
<circle cx="292.65" cy="258.4" r="1.87" fill="none" stroke="#0000ff" stroke-width="1.05"/>
<circle cx="298.3" cy="257.09" r="1.87" fill="none" stroke="#0000ff" stroke-width="1.05"/>
<circle cx="303.95" cy="256.39" r="1.87" fill="none" stroke="#0000ff" stroke-width="1.05"/>
<circle cx="309.6" cy="255.09" r="1.87" fill="none" stroke="#0000ff" stroke-width="1.05"/>
<circle cx="315.25" cy="254.18" r="1.87" fill="none" stroke="#0000ff" stroke-width="1.05"/>
<circle cx="320.9" cy="253.48" r="1.87" fill="none" stroke="#0000ff" stroke-width="1.05"/>
<circle cx="326.55" cy="251.57" r="1.87" fill="none" stroke="#0000ff" stroke-width="1.05"/>
<circle cx="332.2" cy="250.67" r="1.87" fill="none" stroke="#0000ff" stroke-width="1.05"/>
<circle cx="337.85" cy="249.37" r="1.87" fill="none" stroke="#0000ff" stroke-width="1.05"/>
<circle cx="343.5" cy="247.36" r="1.87" fill="none" stroke="#0000ff" stroke-width="1.05"/>
<circle cx="349.15" cy="246.06" r="1.87" fill="none" stroke="#0000ff" stroke-width="1.05"/>
<circle cx="207.9" cy="257.99" r="2.35" fill="url(#gG)"/>
<circle cx="213.55" cy="259.3" r="2.35" fill="url(#gG)"/>
<circle cx="219.2" cy="257.99" r="2.35" fill="url(#gG)"/>
<circle cx="224.85" cy="259.7" r="2.35" fill="url(#gG)"/>
<circle cx="230.5" cy="258.4" r="2.35" fill="url(#gG)"/>
<circle cx="236.15" cy="259.3" r="2.35" fill="url(#gG)"/>
<circle cx="241.8" cy="259.3" r="2.35" fill="url(#gG)"/>
<circle cx="247.45" cy="258.7" r="2.35" fill="url(#gG)"/>
<circle cx="253.1" cy="259.7" r="2.35" fill="url(#gG)"/>
<circle cx="258.75" cy="259.3" r="2.35" fill="url(#gG)"/>
<circle cx="264.4" cy="259.3" r="2.35" fill="url(#gG)"/>
<circle cx="270.05" cy="259.5" r="2.35" fill="url(#gG)"/>
<circle cx="275.7" cy="259.2" r="2.35" fill="url(#gG)"/>
<circle cx="281.35" cy="259.4" r="2.35" fill="url(#gG)"/>
<circle cx="287" cy="259.4" r="2.35" fill="url(#gG)"/>
<circle cx="292.65" cy="259" r="2.35" fill="url(#gG)"/>
<circle cx="298.3" cy="259.3" r="2.35" fill="url(#gG)"/>
<circle cx="303.95" cy="259.6" r="2.35" fill="url(#gG)"/>
<circle cx="309.6" cy="259.4" r="2.35" fill="url(#gG)"/>
<circle cx="315.25" cy="260" r="2.35" fill="url(#gG)"/>
<circle cx="320.9" cy="260" r="2.35" fill="url(#gG)"/>
<circle cx="326.55" cy="260" r="2.35" fill="url(#gG)"/>
<circle cx="332.2" cy="260" r="2.35" fill="url(#gG)"/>
<circle cx="337.85" cy="260" r="2.35" fill="url(#gG)"/>
<circle cx="343.5" cy="260" r="2.35" fill="url(#gG)"/>
<circle cx="349.15" cy="260" r="2.35" fill="url(#gG)"/>
<circle cx="207.9" cy="179.66" r="2.35" fill="url(#gR)"/>
<circle cx="213.55" cy="175.65" r="2.35" fill="url(#gR)"/>
<circle cx="219.2" cy="172.74" r="2.35" fill="url(#gR)"/>
<circle cx="224.85" cy="169.73" r="2.35" fill="url(#gR)"/>
<circle cx="230.5" cy="167.32" r="2.35" fill="url(#gR)"/>
<circle cx="236.15" cy="165.12" r="2.35" fill="url(#gR)"/>
<circle cx="241.8" cy="163.21" r="2.35" fill="url(#gR)"/>
<circle cx="247.45" cy="162.21" r="2.35" fill="url(#gR)"/>
<circle cx="253.1" cy="161" r="2.35" fill="url(#gR)"/>
<circle cx="258.75" cy="160.5" r="2.35" fill="url(#gR)"/>
<circle cx="264.4" cy="159.7" r="2.35" fill="url(#gR)"/>
<circle cx="270.05" cy="159.4" r="2.35" fill="url(#gR)"/>
<circle cx="275.7" cy="160.1" r="2.35" fill="url(#gR)"/>
<circle cx="281.35" cy="160.5" r="2.35" fill="url(#gR)"/>
<circle cx="287" cy="161.41" r="2.35" fill="url(#gR)"/>
<circle cx="292.65" cy="162.21" r="2.35" fill="url(#gR)"/>
<circle cx="298.3" cy="162.61" r="2.35" fill="url(#gR)"/>
<circle cx="303.95" cy="163.01" r="2.35" fill="url(#gR)"/>
<circle cx="309.6" cy="163.51" r="2.35" fill="url(#gR)"/>
<circle cx="315.25" cy="164.31" r="2.35" fill="url(#gR)"/>
<circle cx="320.9" cy="165.12" r="2.35" fill="url(#gR)"/>
<circle cx="326.55" cy="165.52" r="2.35" fill="url(#gR)"/>
<circle cx="332.2" cy="167.02" r="2.35" fill="url(#gR)"/>
<circle cx="337.85" cy="168.13" r="2.35" fill="url(#gR)"/>
<circle cx="343.5" cy="169.03" r="2.35" fill="url(#gR)"/>
<circle cx="349.15" cy="170.83" r="2.35" fill="url(#gR)"/>
<circle cx="207.9" cy="174.85" r="2.35" fill="url(#gB)"/>
<circle cx="213.55" cy="172.04" r="2.35" fill="url(#gB)"/>
<circle cx="219.2" cy="169.53" r="2.35" fill="url(#gB)"/>
<circle cx="224.85" cy="167.02" r="2.35" fill="url(#gB)"/>
<circle cx="230.5" cy="165.82" r="2.35" fill="url(#gB)"/>
<circle cx="236.15" cy="164.31" r="2.35" fill="url(#gB)"/>
<circle cx="241.8" cy="163.01" r="2.35" fill="url(#gB)"/>
<circle cx="247.45" cy="162.01" r="2.35" fill="url(#gB)"/>
<circle cx="253.1" cy="160.7" r="2.35" fill="url(#gB)"/>
<circle cx="258.75" cy="160.1" r="2.35" fill="url(#gB)"/>
<circle cx="264.4" cy="159.7" r="2.35" fill="url(#gB)"/>
<circle cx="270.05" cy="159.4" r="2.35" fill="url(#gB)"/>
<circle cx="275.7" cy="160.1" r="2.35" fill="url(#gB)"/>
<circle cx="281.35" cy="160.7" r="2.35" fill="url(#gB)"/>
<circle cx="287" cy="162.01" r="2.35" fill="url(#gB)"/>
<circle cx="292.65" cy="162.61" r="2.35" fill="url(#gB)"/>
<circle cx="298.3" cy="163.21" r="2.35" fill="url(#gB)"/>
<circle cx="303.95" cy="163.91" r="2.35" fill="url(#gB)"/>
<circle cx="309.6" cy="164.51" r="2.35" fill="url(#gB)"/>
<circle cx="315.25" cy="165.52" r="2.35" fill="url(#gB)"/>
<circle cx="320.9" cy="166.42" r="2.35" fill="url(#gB)"/>
<circle cx="326.55" cy="168.13" r="2.35" fill="url(#gB)"/>
<circle cx="332.2" cy="169.33" r="2.35" fill="url(#gB)"/>
<circle cx="337.85" cy="170.53" r="2.35" fill="url(#gB)"/>
<circle cx="343.5" cy="172.74" r="2.35" fill="url(#gB)"/>
<circle cx="349.15" cy="173.94" r="2.35" fill="url(#gB)"/>
<circle cx="207.9" cy="257.99" r="2.35" fill="url(#gO)"/>
<circle cx="213.55" cy="259.3" r="2.35" fill="url(#gO)"/>
<circle cx="219.2" cy="257.99" r="2.35" fill="url(#gO)"/>
<circle cx="224.85" cy="259.7" r="2.35" fill="url(#gO)"/>
<circle cx="230.5" cy="258.4" r="2.35" fill="url(#gO)"/>
<circle cx="236.15" cy="259.3" r="2.35" fill="url(#gO)"/>
<circle cx="241.8" cy="259.3" r="2.35" fill="url(#gO)"/>
<circle cx="247.45" cy="258.7" r="2.35" fill="url(#gO)"/>
<circle cx="253.1" cy="259.7" r="2.35" fill="url(#gO)"/>
<circle cx="258.75" cy="259.3" r="2.35" fill="url(#gO)"/>
<circle cx="264.4" cy="259.3" r="2.35" fill="url(#gO)"/>
<circle cx="270.05" cy="259.5" r="2.35" fill="url(#gO)"/>
<circle cx="275.7" cy="259.2" r="2.35" fill="url(#gO)"/>
<circle cx="281.35" cy="259.4" r="2.35" fill="url(#gO)"/>
<circle cx="287" cy="259.4" r="2.35" fill="url(#gO)"/>
<circle cx="292.65" cy="259" r="2.35" fill="url(#gO)"/>
<circle cx="298.3" cy="259.3" r="2.35" fill="url(#gO)"/>
<circle cx="303.95" cy="259.6" r="2.35" fill="url(#gO)"/>
<circle cx="309.6" cy="259.4" r="2.35" fill="url(#gO)"/>
<circle cx="315.25" cy="259.3" r="2.35" fill="url(#gO)"/>
<circle cx="320.9" cy="259.5" r="2.35" fill="url(#gO)"/>
<circle cx="326.55" cy="259.6" r="2.35" fill="url(#gO)"/>
<circle cx="332.2" cy="259.5" r="2.35" fill="url(#gO)"/>
<circle cx="337.85" cy="259.4" r="2.35" fill="url(#gO)"/>
<circle cx="343.5" cy="259.6" r="2.35" fill="url(#gO)"/>
<circle cx="349.15" cy="259.5" r="2.35" fill="url(#gO)"/>
<circle cx="207.9" cy="161.71" r="1.87" fill="none" stroke="#ff7f1e" stroke-width="1.05"/>
<circle cx="213.55" cy="160.7" r="1.87" fill="none" stroke="#ff7f1e" stroke-width="1.05"/>
<circle cx="219.2" cy="162.21" r="1.87" fill="none" stroke="#ff7f1e" stroke-width="1.05"/>
<circle cx="224.85" cy="160.5" r="1.87" fill="none" stroke="#ff7f1e" stroke-width="1.05"/>
<circle cx="230.5" cy="161.71" r="1.87" fill="none" stroke="#ff7f1e" stroke-width="1.05"/>
<circle cx="236.15" cy="160.7" r="1.87" fill="none" stroke="#ff7f1e" stroke-width="1.05"/>
<circle cx="241.8" cy="160.5" r="1.87" fill="none" stroke="#ff7f1e" stroke-width="1.05"/>
<circle cx="247.45" cy="161.71" r="1.87" fill="none" stroke="#ff7f1e" stroke-width="1.05"/>
<circle cx="253.1" cy="160.1" r="1.87" fill="none" stroke="#ff7f1e" stroke-width="1.05"/>
<circle cx="258.75" cy="160.5" r="1.87" fill="none" stroke="#ff7f1e" stroke-width="1.05"/>
<circle cx="264.4" cy="160.5" r="1.87" fill="none" stroke="#ff7f1e" stroke-width="1.05"/>
<circle cx="270.05" cy="160.1" r="1.87" fill="none" stroke="#ff7f1e" stroke-width="1.05"/>
<circle cx="275.7" cy="160.7" r="1.87" fill="none" stroke="#ff7f1e" stroke-width="1.05"/>
<circle cx="281.35" cy="160.3" r="1.87" fill="none" stroke="#ff7f1e" stroke-width="1.05"/>
<circle cx="287" cy="160.1" r="1.87" fill="none" stroke="#ff7f1e" stroke-width="1.05"/>
<circle cx="292.65" cy="160.3" r="1.87" fill="none" stroke="#ff7f1e" stroke-width="1.05"/>
<circle cx="298.3" cy="160.1" r="1.87" fill="none" stroke="#ff7f1e" stroke-width="1.05"/>
<circle cx="303.95" cy="160.1" r="1.87" fill="none" stroke="#ff7f1e" stroke-width="1.05"/>
<circle cx="309.6" cy="160.3" r="1.87" fill="none" stroke="#ff7f1e" stroke-width="1.05"/>
<circle cx="315.25" cy="160.1" r="1.87" fill="none" stroke="#ff7f1e" stroke-width="1.05"/>
<circle cx="320.9" cy="160.1" r="1.87" fill="none" stroke="#ff7f1e" stroke-width="1.05"/>
<circle cx="326.55" cy="160.1" r="1.87" fill="none" stroke="#ff7f1e" stroke-width="1.05"/>
<circle cx="332.2" cy="160.1" r="1.87" fill="none" stroke="#ff7f1e" stroke-width="1.05"/>
<circle cx="337.85" cy="160.1" r="1.87" fill="none" stroke="#ff7f1e" stroke-width="1.05"/>
<circle cx="343.5" cy="160.1" r="1.87" fill="none" stroke="#ff7f1e" stroke-width="1.05"/>
<circle cx="349.15" cy="160.1" r="1.87" fill="none" stroke="#ff7f1e" stroke-width="1.05"/>
<rect x="200.8" y="148.9" width="151.5" height="121.4" fill="none" stroke="#000" stroke-width="1.3"/>
<line x1="200.8" y1="260" x2="203.4" y2="260" stroke="#000" stroke-width="1.1"/>
<text x="198.3" y="261.9" font-size="5.3" font-weight="bold" fill="#000" text-anchor="end" stroke="#000" stroke-width="0.1">0.0</text>
<line x1="200.8" y1="239.94" x2="203.4" y2="239.94" stroke="#000" stroke-width="1.1"/>
<text x="198.3" y="241.84" font-size="5.3" font-weight="bold" fill="#000" text-anchor="end" stroke="#000" stroke-width="0.1">0.2</text>
<line x1="200.8" y1="219.88" x2="203.4" y2="219.88" stroke="#000" stroke-width="1.1"/>
<text x="198.3" y="221.78" font-size="5.3" font-weight="bold" fill="#000" text-anchor="end" stroke="#000" stroke-width="0.1">0.4</text>
<line x1="200.8" y1="199.82" x2="203.4" y2="199.82" stroke="#000" stroke-width="1.1"/>
<text x="198.3" y="201.72" font-size="5.3" font-weight="bold" fill="#000" text-anchor="end" stroke="#000" stroke-width="0.1">0.6</text>
<line x1="200.8" y1="179.76" x2="203.4" y2="179.76" stroke="#000" stroke-width="1.1"/>
<text x="198.3" y="181.66" font-size="5.3" font-weight="bold" fill="#000" text-anchor="end" stroke="#000" stroke-width="0.1">0.8</text>
<line x1="200.8" y1="159.7" x2="203.4" y2="159.7" stroke="#000" stroke-width="1.1"/>
<text x="198.3" y="161.6" font-size="5.3" font-weight="bold" fill="#000" text-anchor="end" stroke="#000" stroke-width="0.1">1.0</text>
<line x1="200.8" y1="270.03" x2="202" y2="270.03" stroke="#000" stroke-width="0.7"/>
<line x1="200.8" y1="249.97" x2="202" y2="249.97" stroke="#000" stroke-width="0.7"/>
<line x1="200.8" y1="229.91" x2="202" y2="229.91" stroke="#000" stroke-width="0.7"/>
<line x1="200.8" y1="209.85" x2="202" y2="209.85" stroke="#000" stroke-width="0.7"/>
<line x1="200.8" y1="189.79" x2="202" y2="189.79" stroke="#000" stroke-width="0.7"/>
<line x1="200.8" y1="169.73" x2="202" y2="169.73" stroke="#000" stroke-width="0.7"/>
<line x1="200.8" y1="149.67" x2="202" y2="149.67" stroke="#000" stroke-width="0.7"/>
<line x1="200.8" y1="270.3" x2="200.8" y2="267.7" stroke="#000" stroke-width="1.1"/>
<text x="200.8" y="277.5" font-size="5.3" font-weight="bold" fill="#000" text-anchor="middle" stroke="#000" stroke-width="0.1">8</text>
<line x1="234.3" y1="270.3" x2="234.3" y2="267.7" stroke="#000" stroke-width="1.1"/>
<text x="234.3" y="277.5" font-size="5.3" font-weight="bold" fill="#000" text-anchor="middle" stroke="#000" stroke-width="0.1">9</text>
<line x1="267.8" y1="270.3" x2="267.8" y2="267.7" stroke="#000" stroke-width="1.1"/>
<text x="267.8" y="277.5" font-size="5.3" font-weight="bold" fill="#000" text-anchor="middle" stroke="#000" stroke-width="0.1">10</text>
<line x1="301.3" y1="270.3" x2="301.3" y2="267.7" stroke="#000" stroke-width="1.1"/>
<text x="301.3" y="277.5" font-size="5.3" font-weight="bold" fill="#000" text-anchor="middle" stroke="#000" stroke-width="0.1">11</text>
<line x1="334.8" y1="270.3" x2="334.8" y2="267.7" stroke="#000" stroke-width="1.1"/>
<text x="334.8" y="277.5" font-size="5.3" font-weight="bold" fill="#000" text-anchor="middle" stroke="#000" stroke-width="0.1">12</text>
<line x1="217.55" y1="270.3" x2="217.55" y2="269.1" stroke="#000" stroke-width="0.7"/>
<line x1="251.05" y1="270.3" x2="251.05" y2="269.1" stroke="#000" stroke-width="0.7"/>
<line x1="284.55" y1="270.3" x2="284.55" y2="269.1" stroke="#000" stroke-width="0.7"/>
<line x1="318.05" y1="270.3" x2="318.05" y2="269.1" stroke="#000" stroke-width="0.7"/>
<line x1="351.55" y1="270.3" x2="351.55" y2="269.1" stroke="#000" stroke-width="0.7"/>
<text x="276.5" y="285" font-size="6.8" font-weight="bold" fill="#000" text-anchor="middle" stroke="#000" stroke-width="0.16">Frequency (GHz)</text>
<text x="187.5" y="210" font-size="6.8" font-weight="bold" fill="#000" text-anchor="middle" transform="rotate(-90 187.5 210)" stroke="#000" stroke-width="0.16">A/R</text>
<circle cx="216.7" cy="192" r="2.35" fill="url(#gG)"/>
<text x="225.4" y="194.2" font-size="6.2" font-weight="bold" fill="#000" text-anchor="start" stroke="#000" stroke-width="0.16">Cu-A</text>
<circle cx="216.7" cy="200" r="2.35" fill="url(#gR)"/>
<text x="225.4" y="202.2" font-size="6.2" font-weight="bold" fill="#000" text-anchor="start" stroke="#000" stroke-width="0.16">MG-MXene-Cu-A</text>
<circle cx="216.7" cy="207.9" r="2.35" fill="url(#gB)"/>
<text x="225.4" y="210.1" font-size="6.2" font-weight="bold" fill="#000" text-anchor="start" stroke="#000" stroke-width="0.16">MG-MXene-Al-A</text>
<circle cx="216.7" cy="215.8" r="2.35" fill="url(#gO)"/>
<text x="225.4" y="218" font-size="6.2" font-weight="bold" fill="#000" text-anchor="start" stroke="#000" stroke-width="0.16">Al-A</text>
<circle cx="284.1" cy="192" r="1.87" fill="none" stroke="#2ea52e" stroke-width="1.05"/>
<text x="291" y="194.2" font-size="6.2" font-weight="bold" fill="#000" text-anchor="start" stroke="#000" stroke-width="0.16">Cu-R</text>
<circle cx="284.1" cy="200" r="1.87" fill="none" stroke="#ee2a2a" stroke-width="1.05"/>
<text x="291" y="202.2" font-size="6.2" font-weight="bold" fill="#000" text-anchor="start" stroke="#000" stroke-width="0.16">MG-MXene-Cu-R</text>
<circle cx="284.1" cy="207.9" r="1.87" fill="none" stroke="#0000ff" stroke-width="1.05"/>
<text x="291" y="210.1" font-size="6.2" font-weight="bold" fill="#000" text-anchor="start" stroke="#000" stroke-width="0.16">MG-MXene-Al-R</text>
<circle cx="284.1" cy="215.8" r="1.87" fill="none" stroke="#ff7f1e" stroke-width="1.05"/>
<text x="291" y="218" font-size="6.2" font-weight="bold" fill="#000" text-anchor="start" stroke="#000" stroke-width="0.16">Al-R</text>
<text x="181.4" y="164.9" font-size="21" font-weight="bold" fill="#231f20" text-anchor="start" stroke="#231f20" stroke-width="0.3">f</text>
<rect x="383.1" y="246.51" width="9.9" height="24.69" fill="url(#pG)"/>
<rect x="393" y="186.73" width="9.9" height="84.47" fill="#0000ff"/>
<line x1="396.3" y1="186.73" x2="396.3" y2="271.2" stroke="#7070f0" stroke-width="0.55"/>
<line x1="399.6" y1="186.73" x2="399.6" y2="271.2" stroke="#7070f0" stroke-width="0.55"/>
<rect x="402.9" y="166.45" width="9.9" height="104.75" fill="#ee2a2a"/>
<text x="388.55" y="244.91" font-size="6.2" font-weight="bold" fill="#222" text-anchor="middle" stroke="#222" stroke-width="0.16">20.6</text>
<rect x="420.5" y="263.91" width="9.9" height="7.29" fill="url(#pG)"/>
<rect x="430.4" y="168.7" width="9.9" height="102.5" fill="#0000ff"/>
<line x1="433.7" y1="168.7" x2="433.7" y2="271.2" stroke="#7070f0" stroke-width="0.55"/>
<line x1="437" y1="168.7" x2="437" y2="271.2" stroke="#7070f0" stroke-width="0.55"/>
<rect x="440.3" y="168.21" width="9.9" height="102.99" fill="#ee2a2a"/>
<text x="425.95" y="262.31" font-size="6.2" font-weight="bold" fill="#222" text-anchor="middle" stroke="#222" stroke-width="0.16">0.2</text>
<rect x="458" y="241.81" width="9.9" height="29.39" fill="url(#pG)"/>
<rect x="467.9" y="184.97" width="9.9" height="86.23" fill="#0000ff"/>
<line x1="471.2" y1="184.97" x2="471.2" y2="271.2" stroke="#7070f0" stroke-width="0.55"/>
<line x1="474.5" y1="184.97" x2="474.5" y2="271.2" stroke="#7070f0" stroke-width="0.55"/>
<rect x="477.8" y="160.27" width="9.9" height="110.93" fill="#ee2a2a"/>
<text x="463.45" y="240.21" font-size="6.2" font-weight="bold" fill="#222" text-anchor="middle" stroke="#222" stroke-width="0.16">25.4</text>
<rect x="495.8" y="264.26" width="9.9" height="6.94" fill="url(#pG)"/>
<rect x="505.7" y="163.21" width="9.9" height="107.99" fill="#0000ff"/>
<line x1="509" y1="163.21" x2="509" y2="271.2" stroke="#7070f0" stroke-width="0.55"/>
<line x1="512.3" y1="163.21" x2="512.3" y2="271.2" stroke="#7070f0" stroke-width="0.55"/>
<rect x="515.6" y="163.21" width="9.9" height="107.99" fill="#ee2a2a"/>
<text x="501.25" y="262.66" font-size="6.2" font-weight="bold" fill="#222" text-anchor="middle" stroke="#222" stroke-width="0.16">0.2</text>
<rect x="380" y="251.6" width="148.5" height="2.2" fill="#fff"/>
<rect x="379.3" y="149.1" width="149.9" height="122.1" fill="none" stroke="#000" stroke-width="1.3"/>
<line x1="379.3" y1="247.1" x2="381.9" y2="247.1" stroke="#000" stroke-width="1.1"/>
<text x="376.8" y="249" font-size="5.3" font-weight="bold" fill="#000" text-anchor="end" stroke="#000" stroke-width="0.1">20</text>
<line x1="379.3" y1="227.5" x2="381.9" y2="227.5" stroke="#000" stroke-width="1.1"/>
<text x="376.8" y="229.4" font-size="5.3" font-weight="bold" fill="#000" text-anchor="end" stroke="#000" stroke-width="0.1">40</text>
<line x1="379.3" y1="207.9" x2="381.9" y2="207.9" stroke="#000" stroke-width="1.1"/>
<text x="376.8" y="209.8" font-size="5.3" font-weight="bold" fill="#000" text-anchor="end" stroke="#000" stroke-width="0.1">60</text>
<line x1="379.3" y1="188.3" x2="381.9" y2="188.3" stroke="#000" stroke-width="1.1"/>
<text x="376.8" y="190.2" font-size="5.3" font-weight="bold" fill="#000" text-anchor="end" stroke="#000" stroke-width="0.1">80</text>
<line x1="379.3" y1="168.7" x2="381.9" y2="168.7" stroke="#000" stroke-width="1.1"/>
<text x="376.8" y="170.6" font-size="5.3" font-weight="bold" fill="#000" text-anchor="end" stroke="#000" stroke-width="0.1">100</text>
<line x1="379.3" y1="149.1" x2="381.9" y2="149.1" stroke="#000" stroke-width="1.1"/>
<text x="376.8" y="151" font-size="5.3" font-weight="bold" fill="#000" text-anchor="end" stroke="#000" stroke-width="0.1">120</text>
<line x1="379.3" y1="237.3" x2="380.5" y2="237.3" stroke="#000" stroke-width="0.7"/>
<line x1="379.3" y1="217.7" x2="380.5" y2="217.7" stroke="#000" stroke-width="0.7"/>
<line x1="379.3" y1="198.1" x2="380.5" y2="198.1" stroke="#000" stroke-width="0.7"/>
<line x1="379.3" y1="178.5" x2="380.5" y2="178.5" stroke="#000" stroke-width="0.7"/>
<line x1="379.3" y1="158.9" x2="380.5" y2="158.9" stroke="#000" stroke-width="0.7"/>
<line x1="379.3" y1="271.2" x2="381.9" y2="271.2" stroke="#000" stroke-width="1.1"/>
<text x="376.8" y="273.1" font-size="5.3" font-weight="bold" fill="#000" text-anchor="end" stroke="#000" stroke-width="0.1">0.0</text>
<line x1="379.3" y1="260.79" x2="381.9" y2="260.79" stroke="#000" stroke-width="1.1"/>
<text x="376.8" y="262.69" font-size="5.3" font-weight="bold" fill="#000" text-anchor="end" stroke="#000" stroke-width="0.1">0.3</text>
<path d="M377.1 253l4.4 -2.2M377.1 255l4.4 -2.2" stroke="#000" stroke-width="1.0"/>
<path d="M527 253l4.4 -2.2M527 255l4.4 -2.2" stroke="#000" stroke-width="1.0"/>
<text x="397.95" y="278.8" font-size="7" font-weight="bold" fill="#000" text-anchor="middle" stroke="#000" stroke-width="0.16">Cu</text>
<line x1="397.95" y1="271.2" x2="397.95" y2="269.7" stroke="#000" stroke-width="1"/>
<text x="435.35" y="278.8" font-size="7" font-weight="bold" fill="#000" text-anchor="middle" stroke="#000" stroke-width="0.16">MG-MXene-Cu</text>
<line x1="435.35" y1="271.2" x2="435.35" y2="269.7" stroke="#000" stroke-width="1"/>
<text x="472.85" y="278.8" font-size="7" font-weight="bold" fill="#000" text-anchor="middle" stroke="#000" stroke-width="0.16">Al</text>
<line x1="472.85" y1="271.2" x2="472.85" y2="269.7" stroke="#000" stroke-width="1"/>
<text x="510.65" y="278.8" font-size="7" font-weight="bold" fill="#000" text-anchor="middle" stroke="#000" stroke-width="0.16">MG-MXene-Al</text>
<line x1="510.65" y1="271.2" x2="510.65" y2="269.7" stroke="#000" stroke-width="1"/>
<text x="364.2" y="210.6" font-size="6.6" font-weight="bold" fill="#000" text-anchor="middle" transform="rotate(-90 364.2 210.6)" stroke="#000" stroke-width="0.16">EMI SE (dB)</text>
<rect x="380.9" y="152.1" width="11.5" height="4.8" fill="url(#pG)"/>
<rect x="380.9" y="159.4" width="11.5" height="4.8" fill="#0000ff"/>
<line x1="383.2" y1="159.4" x2="383.2" y2="164.2" stroke="#7070f0" stroke-width="0.55"/>
<line x1="385.5" y1="159.4" x2="385.5" y2="164.2" stroke="#7070f0" stroke-width="0.55"/>
<line x1="387.8" y1="159.4" x2="387.8" y2="164.2" stroke="#7070f0" stroke-width="0.55"/>
<line x1="390.1" y1="159.4" x2="390.1" y2="164.2" stroke="#7070f0" stroke-width="0.55"/>
<rect x="380.9" y="166.7" width="11.5" height="4.8" fill="#ee2a2a"/>
<text x="394.2" y="155.56" font-size="4.8" font-weight="bold" fill="#000" text-anchor="start" stroke="#000" stroke-width="0.1">SE<tspan font-size="3.2" dy="1.5">R</tspan></text>
<text x="394.2" y="162.86" font-size="4.8" font-weight="bold" fill="#000" text-anchor="start" stroke="#000" stroke-width="0.1">SE<tspan font-size="3.2" dy="1.5">A</tspan></text>
<text x="394.2" y="170.16" font-size="4.8" font-weight="bold" fill="#000" text-anchor="start" stroke="#000" stroke-width="0.1">SE<tspan font-size="3.2" dy="1.5">T</tspan></text>
<text x="356.1" y="164.7" font-size="21" font-weight="bold" fill="#231f20" text-anchor="start" stroke="#231f20" stroke-width="0.3">g</text>
<circle cx="562" cy="168.99" r="1.68" fill="none" stroke="#8a2be2" stroke-width="1.05"/>
<circle cx="566.23" cy="170.27" r="1.68" fill="none" stroke="#8a2be2" stroke-width="1.05"/>
<circle cx="570.46" cy="171.55" r="1.68" fill="none" stroke="#8a2be2" stroke-width="1.05"/>
<circle cx="574.69" cy="172.84" r="1.68" fill="none" stroke="#8a2be2" stroke-width="1.05"/>
<circle cx="578.92" cy="174.12" r="1.68" fill="none" stroke="#8a2be2" stroke-width="1.05"/>
<circle cx="583.15" cy="175.4" r="1.68" fill="none" stroke="#8a2be2" stroke-width="1.05"/>
<circle cx="587.38" cy="176.68" r="1.68" fill="none" stroke="#8a2be2" stroke-width="1.05"/>
<circle cx="591.61" cy="177.96" r="1.68" fill="none" stroke="#8a2be2" stroke-width="1.05"/>
<circle cx="595.84" cy="179.24" r="1.68" fill="none" stroke="#8a2be2" stroke-width="1.05"/>
<circle cx="600.07" cy="180.52" r="1.68" fill="none" stroke="#8a2be2" stroke-width="1.05"/>
<circle cx="604.3" cy="181.8" r="1.68" fill="none" stroke="#8a2be2" stroke-width="1.05"/>
<circle cx="608.53" cy="183.08" r="1.68" fill="none" stroke="#8a2be2" stroke-width="1.05"/>
<circle cx="612.76" cy="184.36" r="1.68" fill="none" stroke="#8a2be2" stroke-width="1.05"/>
<circle cx="616.99" cy="185.64" r="1.68" fill="none" stroke="#8a2be2" stroke-width="1.05"/>
<circle cx="621.22" cy="186.54" r="1.68" fill="none" stroke="#8a2be2" stroke-width="1.05"/>
<circle cx="625.45" cy="187.44" r="1.68" fill="none" stroke="#8a2be2" stroke-width="1.05"/>
<circle cx="629.68" cy="188.34" r="1.68" fill="none" stroke="#8a2be2" stroke-width="1.05"/>
<circle cx="633.91" cy="189.24" r="1.68" fill="none" stroke="#8a2be2" stroke-width="1.05"/>
<circle cx="638.14" cy="190.13" r="1.68" fill="none" stroke="#8a2be2" stroke-width="1.05"/>
<circle cx="642.37" cy="191.03" r="1.68" fill="none" stroke="#8a2be2" stroke-width="1.05"/>
<circle cx="646.6" cy="191.93" r="1.68" fill="none" stroke="#8a2be2" stroke-width="1.05"/>
<circle cx="650.83" cy="192.75" r="1.68" fill="none" stroke="#8a2be2" stroke-width="1.05"/>
<circle cx="655.06" cy="193.56" r="1.68" fill="none" stroke="#8a2be2" stroke-width="1.05"/>
<circle cx="659.29" cy="194.37" r="1.68" fill="none" stroke="#8a2be2" stroke-width="1.05"/>
<circle cx="663.52" cy="195.18" r="1.68" fill="none" stroke="#8a2be2" stroke-width="1.05"/>
<circle cx="667.75" cy="195.99" r="1.68" fill="none" stroke="#8a2be2" stroke-width="1.05"/>
<circle cx="671.98" cy="196.81" r="1.68" fill="none" stroke="#8a2be2" stroke-width="1.05"/>
<circle cx="676.21" cy="197.62" r="1.68" fill="none" stroke="#8a2be2" stroke-width="1.05"/>
<circle cx="680.44" cy="198.43" r="1.68" fill="none" stroke="#8a2be2" stroke-width="1.05"/>
<circle cx="684.67" cy="199.24" r="1.68" fill="none" stroke="#8a2be2" stroke-width="1.05"/>
<circle cx="688.9" cy="200.05" r="1.68" fill="none" stroke="#8a2be2" stroke-width="1.05"/>
<circle cx="693.13" cy="200.86" r="1.68" fill="none" stroke="#8a2be2" stroke-width="1.05"/>
<circle cx="697.36" cy="201.68" r="1.68" fill="none" stroke="#8a2be2" stroke-width="1.05"/>
<circle cx="701.59" cy="202.49" r="1.68" fill="none" stroke="#8a2be2" stroke-width="1.05"/>
<circle cx="562" cy="188.48" r="1.68" fill="none" stroke="#ee2a2a" stroke-width="1.05"/>
<circle cx="566.23" cy="189.51" r="1.68" fill="none" stroke="#ee2a2a" stroke-width="1.05"/>
<circle cx="570.46" cy="190.54" r="1.68" fill="none" stroke="#ee2a2a" stroke-width="1.05"/>
<circle cx="574.69" cy="191.57" r="1.68" fill="none" stroke="#ee2a2a" stroke-width="1.05"/>
<circle cx="578.92" cy="192.6" r="1.68" fill="none" stroke="#ee2a2a" stroke-width="1.05"/>
<circle cx="583.15" cy="193.64" r="1.68" fill="none" stroke="#ee2a2a" stroke-width="1.05"/>
<circle cx="587.38" cy="194.67" r="1.68" fill="none" stroke="#ee2a2a" stroke-width="1.05"/>
<circle cx="591.61" cy="195.7" r="1.68" fill="none" stroke="#ee2a2a" stroke-width="1.05"/>
<circle cx="595.84" cy="196.73" r="1.68" fill="none" stroke="#ee2a2a" stroke-width="1.05"/>
<circle cx="600.07" cy="197.76" r="1.68" fill="none" stroke="#ee2a2a" stroke-width="1.05"/>
<circle cx="604.3" cy="198.79" r="1.68" fill="none" stroke="#ee2a2a" stroke-width="1.05"/>
<circle cx="608.53" cy="199.82" r="1.68" fill="none" stroke="#ee2a2a" stroke-width="1.05"/>
<circle cx="612.76" cy="200.85" r="1.68" fill="none" stroke="#ee2a2a" stroke-width="1.05"/>
<circle cx="616.99" cy="201.88" r="1.68" fill="none" stroke="#ee2a2a" stroke-width="1.05"/>
<circle cx="621.22" cy="202.65" r="1.68" fill="none" stroke="#ee2a2a" stroke-width="1.05"/>
<circle cx="625.45" cy="203.41" r="1.68" fill="none" stroke="#ee2a2a" stroke-width="1.05"/>
<circle cx="629.68" cy="204.18" r="1.68" fill="none" stroke="#ee2a2a" stroke-width="1.05"/>
<circle cx="633.91" cy="204.95" r="1.68" fill="none" stroke="#ee2a2a" stroke-width="1.05"/>
<circle cx="638.14" cy="205.71" r="1.68" fill="none" stroke="#ee2a2a" stroke-width="1.05"/>
<circle cx="642.37" cy="206.48" r="1.68" fill="none" stroke="#ee2a2a" stroke-width="1.05"/>
<circle cx="646.6" cy="207.25" r="1.68" fill="none" stroke="#ee2a2a" stroke-width="1.05"/>
<circle cx="650.83" cy="208.02" r="1.68" fill="none" stroke="#ee2a2a" stroke-width="1.05"/>
<circle cx="655.06" cy="208.78" r="1.68" fill="none" stroke="#ee2a2a" stroke-width="1.05"/>
<circle cx="659.29" cy="209.41" r="1.68" fill="none" stroke="#ee2a2a" stroke-width="1.05"/>
<circle cx="663.52" cy="210.04" r="1.68" fill="none" stroke="#ee2a2a" stroke-width="1.05"/>
<circle cx="667.75" cy="210.66" r="1.68" fill="none" stroke="#ee2a2a" stroke-width="1.05"/>
<circle cx="671.98" cy="211.29" r="1.68" fill="none" stroke="#ee2a2a" stroke-width="1.05"/>
<circle cx="676.21" cy="211.92" r="1.68" fill="none" stroke="#ee2a2a" stroke-width="1.05"/>
<circle cx="680.44" cy="212.55" r="1.68" fill="none" stroke="#ee2a2a" stroke-width="1.05"/>
<circle cx="684.67" cy="213.17" r="1.68" fill="none" stroke="#ee2a2a" stroke-width="1.05"/>
<circle cx="688.9" cy="213.8" r="1.68" fill="none" stroke="#ee2a2a" stroke-width="1.05"/>
<circle cx="693.13" cy="214.43" r="1.68" fill="none" stroke="#ee2a2a" stroke-width="1.05"/>
<circle cx="697.36" cy="215.06" r="1.68" fill="none" stroke="#ee2a2a" stroke-width="1.05"/>
<circle cx="701.59" cy="215.68" r="1.68" fill="none" stroke="#ee2a2a" stroke-width="1.05"/>
<circle cx="562" cy="212.44" r="1.68" fill="none" stroke="#2ea52e" stroke-width="1.05"/>
<circle cx="566.23" cy="212.96" r="1.68" fill="none" stroke="#2ea52e" stroke-width="1.05"/>
<circle cx="570.46" cy="213.49" r="1.68" fill="none" stroke="#2ea52e" stroke-width="1.05"/>
<circle cx="574.69" cy="214.02" r="1.68" fill="none" stroke="#2ea52e" stroke-width="1.05"/>
<circle cx="578.92" cy="214.55" r="1.68" fill="none" stroke="#2ea52e" stroke-width="1.05"/>
<circle cx="583.15" cy="215.07" r="1.68" fill="none" stroke="#2ea52e" stroke-width="1.05"/>
<circle cx="587.38" cy="215.89" r="1.68" fill="none" stroke="#2ea52e" stroke-width="1.05"/>
<circle cx="591.61" cy="216.7" r="1.68" fill="none" stroke="#2ea52e" stroke-width="1.05"/>
<circle cx="595.84" cy="217.51" r="1.68" fill="none" stroke="#2ea52e" stroke-width="1.05"/>
<circle cx="600.07" cy="218.32" r="1.68" fill="none" stroke="#2ea52e" stroke-width="1.05"/>
<circle cx="604.3" cy="219.13" r="1.68" fill="none" stroke="#2ea52e" stroke-width="1.05"/>
<circle cx="608.53" cy="219.95" r="1.68" fill="none" stroke="#2ea52e" stroke-width="1.05"/>
<circle cx="612.76" cy="220.76" r="1.68" fill="none" stroke="#2ea52e" stroke-width="1.05"/>
<circle cx="616.99" cy="221.57" r="1.68" fill="none" stroke="#2ea52e" stroke-width="1.05"/>
<circle cx="621.22" cy="222.09" r="1.68" fill="none" stroke="#2ea52e" stroke-width="1.05"/>
<circle cx="625.45" cy="222.61" r="1.68" fill="none" stroke="#2ea52e" stroke-width="1.05"/>
<circle cx="629.68" cy="223.13" r="1.68" fill="none" stroke="#2ea52e" stroke-width="1.05"/>
<circle cx="633.91" cy="223.65" r="1.68" fill="none" stroke="#2ea52e" stroke-width="1.05"/>
<circle cx="638.14" cy="224.16" r="1.68" fill="none" stroke="#2ea52e" stroke-width="1.05"/>
<circle cx="642.37" cy="224.68" r="1.68" fill="none" stroke="#2ea52e" stroke-width="1.05"/>
<circle cx="646.6" cy="225.2" r="1.68" fill="none" stroke="#2ea52e" stroke-width="1.05"/>
<circle cx="650.83" cy="225.72" r="1.68" fill="none" stroke="#2ea52e" stroke-width="1.05"/>
<circle cx="655.06" cy="226.24" r="1.68" fill="none" stroke="#2ea52e" stroke-width="1.05"/>
<circle cx="659.29" cy="226.61" r="1.68" fill="none" stroke="#2ea52e" stroke-width="1.05"/>
<circle cx="663.52" cy="226.98" r="1.68" fill="none" stroke="#2ea52e" stroke-width="1.05"/>
<circle cx="667.75" cy="227.35" r="1.68" fill="none" stroke="#2ea52e" stroke-width="1.05"/>
<circle cx="671.98" cy="227.72" r="1.68" fill="none" stroke="#2ea52e" stroke-width="1.05"/>
<circle cx="676.21" cy="228.09" r="1.68" fill="none" stroke="#2ea52e" stroke-width="1.05"/>
<circle cx="680.44" cy="228.45" r="1.68" fill="none" stroke="#2ea52e" stroke-width="1.05"/>
<circle cx="684.67" cy="228.82" r="1.68" fill="none" stroke="#2ea52e" stroke-width="1.05"/>
<circle cx="688.9" cy="229.19" r="1.68" fill="none" stroke="#2ea52e" stroke-width="1.05"/>
<circle cx="693.13" cy="229.56" r="1.68" fill="none" stroke="#2ea52e" stroke-width="1.05"/>
<circle cx="697.36" cy="229.93" r="1.68" fill="none" stroke="#2ea52e" stroke-width="1.05"/>
<circle cx="701.59" cy="230.3" r="1.68" fill="none" stroke="#2ea52e" stroke-width="1.05"/>
<circle cx="562" cy="212.44" r="1.68" fill="none" stroke="#0000ff" stroke-width="1.05"/>
<circle cx="566.23" cy="213.2" r="1.68" fill="none" stroke="#0000ff" stroke-width="1.05"/>
<circle cx="570.46" cy="213.97" r="1.68" fill="none" stroke="#0000ff" stroke-width="1.05"/>
<circle cx="574.69" cy="214.73" r="1.68" fill="none" stroke="#0000ff" stroke-width="1.05"/>
<circle cx="578.92" cy="215.5" r="1.68" fill="none" stroke="#0000ff" stroke-width="1.05"/>
<circle cx="583.15" cy="216.26" r="1.68" fill="none" stroke="#0000ff" stroke-width="1.05"/>
<circle cx="587.38" cy="217.03" r="1.68" fill="none" stroke="#0000ff" stroke-width="1.05"/>
<circle cx="591.61" cy="217.79" r="1.68" fill="none" stroke="#0000ff" stroke-width="1.05"/>
<circle cx="595.84" cy="218.56" r="1.68" fill="none" stroke="#0000ff" stroke-width="1.05"/>
<circle cx="600.07" cy="219.32" r="1.68" fill="none" stroke="#0000ff" stroke-width="1.05"/>
<circle cx="604.3" cy="220.09" r="1.68" fill="none" stroke="#0000ff" stroke-width="1.05"/>
<circle cx="608.53" cy="220.85" r="1.68" fill="none" stroke="#0000ff" stroke-width="1.05"/>
<circle cx="612.76" cy="221.62" r="1.68" fill="none" stroke="#0000ff" stroke-width="1.05"/>
<circle cx="616.99" cy="222.38" r="1.68" fill="none" stroke="#0000ff" stroke-width="1.05"/>
<circle cx="621.22" cy="222.95" r="1.68" fill="none" stroke="#0000ff" stroke-width="1.05"/>
<circle cx="625.45" cy="223.51" r="1.68" fill="none" stroke="#0000ff" stroke-width="1.05"/>
<circle cx="629.68" cy="224.07" r="1.68" fill="none" stroke="#0000ff" stroke-width="1.05"/>
<circle cx="633.91" cy="224.64" r="1.68" fill="none" stroke="#0000ff" stroke-width="1.05"/>
<circle cx="638.14" cy="225.2" r="1.68" fill="none" stroke="#0000ff" stroke-width="1.05"/>
<circle cx="642.37" cy="225.77" r="1.68" fill="none" stroke="#0000ff" stroke-width="1.05"/>
<circle cx="646.6" cy="226.33" r="1.68" fill="none" stroke="#0000ff" stroke-width="1.05"/>
<circle cx="650.83" cy="226.89" r="1.68" fill="none" stroke="#0000ff" stroke-width="1.05"/>
<circle cx="655.06" cy="227.46" r="1.68" fill="none" stroke="#0000ff" stroke-width="1.05"/>
<circle cx="659.29" cy="227.9" r="1.68" fill="none" stroke="#0000ff" stroke-width="1.05"/>
<circle cx="663.52" cy="228.34" r="1.68" fill="none" stroke="#0000ff" stroke-width="1.05"/>
<circle cx="667.75" cy="228.79" r="1.68" fill="none" stroke="#0000ff" stroke-width="1.05"/>
<circle cx="671.98" cy="229.23" r="1.68" fill="none" stroke="#0000ff" stroke-width="1.05"/>
<circle cx="676.21" cy="229.67" r="1.68" fill="none" stroke="#0000ff" stroke-width="1.05"/>
<circle cx="680.44" cy="230.12" r="1.68" fill="none" stroke="#0000ff" stroke-width="1.05"/>
<circle cx="684.67" cy="230.56" r="1.68" fill="none" stroke="#0000ff" stroke-width="1.05"/>
<circle cx="688.9" cy="231" r="1.68" fill="none" stroke="#0000ff" stroke-width="1.05"/>
<circle cx="693.13" cy="231.44" r="1.68" fill="none" stroke="#0000ff" stroke-width="1.05"/>
<circle cx="697.36" cy="231.89" r="1.68" fill="none" stroke="#0000ff" stroke-width="1.05"/>
<circle cx="701.59" cy="232.33" r="1.68" fill="none" stroke="#0000ff" stroke-width="1.05"/>
<circle cx="562" cy="243.9" r="1.68" fill="none" stroke="#ff7f1e" stroke-width="1.05"/>
<circle cx="566.23" cy="244.18" r="1.68" fill="none" stroke="#ff7f1e" stroke-width="1.05"/>
<circle cx="570.46" cy="244.46" r="1.68" fill="none" stroke="#ff7f1e" stroke-width="1.05"/>
<circle cx="574.69" cy="244.74" r="1.68" fill="none" stroke="#ff7f1e" stroke-width="1.05"/>
<circle cx="578.92" cy="245.03" r="1.68" fill="none" stroke="#ff7f1e" stroke-width="1.05"/>
<circle cx="583.15" cy="245.31" r="1.68" fill="none" stroke="#ff7f1e" stroke-width="1.05"/>
<circle cx="587.38" cy="245.59" r="1.68" fill="none" stroke="#ff7f1e" stroke-width="1.05"/>
<circle cx="591.61" cy="245.87" r="1.68" fill="none" stroke="#ff7f1e" stroke-width="1.05"/>
<circle cx="595.84" cy="246.15" r="1.68" fill="none" stroke="#ff7f1e" stroke-width="1.05"/>
<circle cx="600.07" cy="246.43" r="1.68" fill="none" stroke="#ff7f1e" stroke-width="1.05"/>
<circle cx="604.3" cy="246.71" r="1.68" fill="none" stroke="#ff7f1e" stroke-width="1.05"/>
<circle cx="608.53" cy="246.99" r="1.68" fill="none" stroke="#ff7f1e" stroke-width="1.05"/>
<circle cx="612.76" cy="247.27" r="1.68" fill="none" stroke="#ff7f1e" stroke-width="1.05"/>
<circle cx="616.99" cy="247.55" r="1.68" fill="none" stroke="#ff7f1e" stroke-width="1.05"/>
<circle cx="621.22" cy="247.8" r="1.68" fill="none" stroke="#ff7f1e" stroke-width="1.05"/>
<circle cx="625.45" cy="248.05" r="1.68" fill="none" stroke="#ff7f1e" stroke-width="1.05"/>
<circle cx="629.68" cy="248.3" r="1.68" fill="none" stroke="#ff7f1e" stroke-width="1.05"/>
<circle cx="633.91" cy="248.55" r="1.68" fill="none" stroke="#ff7f1e" stroke-width="1.05"/>
<circle cx="638.14" cy="248.8" r="1.68" fill="none" stroke="#ff7f1e" stroke-width="1.05"/>
<circle cx="642.37" cy="249.04" r="1.68" fill="none" stroke="#ff7f1e" stroke-width="1.05"/>
<circle cx="646.6" cy="249.29" r="1.68" fill="none" stroke="#ff7f1e" stroke-width="1.05"/>
<circle cx="650.83" cy="249.54" r="1.68" fill="none" stroke="#ff7f1e" stroke-width="1.05"/>
<circle cx="655.06" cy="249.79" r="1.68" fill="none" stroke="#ff7f1e" stroke-width="1.05"/>
<circle cx="659.29" cy="249.99" r="1.68" fill="none" stroke="#ff7f1e" stroke-width="1.05"/>
<circle cx="663.52" cy="250.19" r="1.68" fill="none" stroke="#ff7f1e" stroke-width="1.05"/>
<circle cx="667.75" cy="250.4" r="1.68" fill="none" stroke="#ff7f1e" stroke-width="1.05"/>
<circle cx="671.98" cy="250.6" r="1.68" fill="none" stroke="#ff7f1e" stroke-width="1.05"/>
<circle cx="676.21" cy="250.8" r="1.68" fill="none" stroke="#ff7f1e" stroke-width="1.05"/>
<circle cx="680.44" cy="251.01" r="1.68" fill="none" stroke="#ff7f1e" stroke-width="1.05"/>
<circle cx="684.67" cy="251.21" r="1.68" fill="none" stroke="#ff7f1e" stroke-width="1.05"/>
<circle cx="688.9" cy="251.41" r="1.68" fill="none" stroke="#ff7f1e" stroke-width="1.05"/>
<circle cx="693.13" cy="251.61" r="1.68" fill="none" stroke="#ff7f1e" stroke-width="1.05"/>
<circle cx="697.36" cy="251.82" r="1.68" fill="none" stroke="#ff7f1e" stroke-width="1.05"/>
<circle cx="701.59" cy="252.02" r="1.68" fill="none" stroke="#ff7f1e" stroke-width="1.05"/>
<line x1="557" y1="206" x2="704" y2="206" stroke="#555" stroke-width="1.1" stroke-dasharray="3.2 2.2"/>
<rect x="555.3" y="149.1" width="150.5" height="121.8" fill="none" stroke="#000" stroke-width="1.3"/>
<line x1="555.3" y1="270.9" x2="557.9" y2="270.9" stroke="#000" stroke-width="1.1"/>
<text x="552.8" y="272.8" font-size="5.3" font-weight="bold" fill="#000" text-anchor="end" stroke="#000" stroke-width="0.1">0</text>
<line x1="555.3" y1="260.75" x2="556.5" y2="260.75" stroke="#000" stroke-width="0.7"/>
<line x1="555.3" y1="250.6" x2="557.9" y2="250.6" stroke="#000" stroke-width="1.1"/>
<text x="552.8" y="252.5" font-size="5.3" font-weight="bold" fill="#000" text-anchor="end" stroke="#000" stroke-width="0.1">1</text>
<line x1="555.3" y1="240.45" x2="556.5" y2="240.45" stroke="#000" stroke-width="0.7"/>
<line x1="555.3" y1="230.3" x2="557.9" y2="230.3" stroke="#000" stroke-width="1.1"/>
<text x="552.8" y="232.2" font-size="5.3" font-weight="bold" fill="#000" text-anchor="end" stroke="#000" stroke-width="0.1">2</text>
<line x1="555.3" y1="220.15" x2="556.5" y2="220.15" stroke="#000" stroke-width="0.7"/>
<line x1="555.3" y1="210" x2="557.9" y2="210" stroke="#000" stroke-width="1.1"/>
<text x="552.8" y="211.9" font-size="5.3" font-weight="bold" fill="#000" text-anchor="end" stroke="#000" stroke-width="0.1">3</text>
<line x1="555.3" y1="199.85" x2="556.5" y2="199.85" stroke="#000" stroke-width="0.7"/>
<line x1="555.3" y1="189.7" x2="557.9" y2="189.7" stroke="#000" stroke-width="1.1"/>
<text x="552.8" y="191.6" font-size="5.3" font-weight="bold" fill="#000" text-anchor="end" stroke="#000" stroke-width="0.1">4</text>
<line x1="555.3" y1="179.55" x2="556.5" y2="179.55" stroke="#000" stroke-width="0.7"/>
<line x1="555.3" y1="169.4" x2="557.9" y2="169.4" stroke="#000" stroke-width="1.1"/>
<text x="552.8" y="171.3" font-size="5.3" font-weight="bold" fill="#000" text-anchor="end" stroke="#000" stroke-width="0.1">5</text>
<line x1="555.3" y1="159.25" x2="556.5" y2="159.25" stroke="#000" stroke-width="0.7"/>
<line x1="555.3" y1="149.1" x2="557.9" y2="149.1" stroke="#000" stroke-width="1.1"/>
<text x="552.8" y="151" font-size="5.3" font-weight="bold" fill="#000" text-anchor="end" stroke="#000" stroke-width="0.1">6</text>
<line x1="555.3" y1="270.9" x2="555.3" y2="268.3" stroke="#000" stroke-width="1.1"/>
<text x="555.3" y="278" font-size="5.3" font-weight="bold" fill="#000" text-anchor="middle" stroke="#000" stroke-width="0.1">8</text>
<line x1="588.75" y1="270.9" x2="588.75" y2="268.3" stroke="#000" stroke-width="1.1"/>
<text x="588.75" y="278" font-size="5.3" font-weight="bold" fill="#000" text-anchor="middle" stroke="#000" stroke-width="0.1">9</text>
<line x1="622.2" y1="270.9" x2="622.2" y2="268.3" stroke="#000" stroke-width="1.1"/>
<text x="622.2" y="278" font-size="5.3" font-weight="bold" fill="#000" text-anchor="middle" stroke="#000" stroke-width="0.1">10</text>
<line x1="655.65" y1="270.9" x2="655.65" y2="268.3" stroke="#000" stroke-width="1.1"/>
<text x="655.65" y="278" font-size="5.3" font-weight="bold" fill="#000" text-anchor="middle" stroke="#000" stroke-width="0.1">11</text>
<line x1="689.1" y1="270.9" x2="689.1" y2="268.3" stroke="#000" stroke-width="1.1"/>
<text x="689.1" y="278" font-size="5.3" font-weight="bold" fill="#000" text-anchor="middle" stroke="#000" stroke-width="0.1">12</text>
<line x1="572.02" y1="270.9" x2="572.02" y2="269.7" stroke="#000" stroke-width="0.7"/>
<line x1="605.47" y1="270.9" x2="605.47" y2="269.7" stroke="#000" stroke-width="0.7"/>
<line x1="638.92" y1="270.9" x2="638.92" y2="269.7" stroke="#000" stroke-width="0.7"/>
<line x1="672.38" y1="270.9" x2="672.38" y2="269.7" stroke="#000" stroke-width="0.7"/>
<line x1="705.82" y1="270.9" x2="705.82" y2="269.7" stroke="#000" stroke-width="0.7"/>
<text x="630.5" y="285.5" font-size="6.8" font-weight="bold" fill="#000" text-anchor="middle" stroke="#000" stroke-width="0.16">Frequency (GHz)</text>
<text x="544.2" y="210.3" font-size="6.8" font-weight="bold" fill="#000" text-anchor="middle" transform="rotate(-90 544.2 210.3)" stroke="#000" stroke-width="0.16">t<tspan font-size="4.5" dy="1.5">m</tspan><tspan dy="-1.5"> (mm)</tspan></text>
<text x="592.2" y="173.3" font-size="6.4" font-weight="bold" fill="#8a2be2" text-anchor="start" stroke="#8a2be2" stroke-width="0.16">M1G3</text>
<text x="592.2" y="192.7" font-size="6.4" font-weight="bold" fill="#ee2a2a" text-anchor="start" stroke="#ee2a2a" stroke-width="0.16">M1G2</text>
<text x="592.4" y="213.3" font-size="6.4" font-weight="bold" fill="#2ea52e" text-anchor="start" stroke="#2ea52e" stroke-width="0.16">M1G1</text>
<text x="592.4" y="230.7" font-size="6.4" font-weight="bold" fill="#0000ff" text-anchor="start" stroke="#0000ff" stroke-width="0.16">M2G1</text>
<text x="591.1" y="242.7" font-size="6.4" font-weight="bold" fill="#ff7f1e" text-anchor="start" stroke="#ff7f1e" stroke-width="0.16">MXene</text>
<text x="561.5" y="203.2" font-size="6.4" font-weight="normal" fill="#666" text-anchor="start" stroke="#666" stroke-width="0.15">3.2 mm</text>
<text x="533.2" y="164.7" font-size="21" font-weight="bold" fill="#231f20" text-anchor="start" stroke="#231f20" stroke-width="0.3">h</text>
<defs><clipPath id="ci0"><rect x="29.1" y="294.2" width="168.4" height="135.5"/></clipPath><clipPath id="ci1"><rect x="197.5" y="294.2" width="169" height="135.5"/></clipPath><clipPath id="ci2"><rect x="366.5" y="294.2" width="169.5" height="135.5"/></clipPath><clipPath id="ci3"><rect x="536" y="294.2" width="168.5" height="135.5"/></clipPath></defs>
<g clip-path="url(#ci0)">
<circle cx="53" cy="351.44" r="2.1" fill="none" stroke="#000000" stroke-width="1.1"/>
<circle cx="58.78" cy="353.89" r="2.1" fill="none" stroke="#000000" stroke-width="1.1"/>
<circle cx="64.56" cy="355.66" r="2.1" fill="none" stroke="#000000" stroke-width="1.1"/>
<circle cx="70.34" cy="357.7" r="2.1" fill="none" stroke="#000000" stroke-width="1.1"/>
<circle cx="76.12" cy="359.2" r="2.1" fill="none" stroke="#000000" stroke-width="1.1"/>
<circle cx="81.9" cy="360.56" r="2.1" fill="none" stroke="#000000" stroke-width="1.1"/>
<circle cx="87.68" cy="362.06" r="2.1" fill="none" stroke="#000000" stroke-width="1.1"/>
<circle cx="93.46" cy="364.24" r="2.1" fill="none" stroke="#000000" stroke-width="1.1"/>
<circle cx="99.24" cy="367.64" r="2.1" fill="none" stroke="#000000" stroke-width="1.1"/>
<circle cx="105.02" cy="370.5" r="2.1" fill="none" stroke="#000000" stroke-width="1.1"/>
<circle cx="110.8" cy="373.63" r="2.1" fill="none" stroke="#000000" stroke-width="1.1"/>
<circle cx="116.58" cy="379.89" r="2.1" fill="none" stroke="#000000" stroke-width="1.1"/>
<circle cx="122.36" cy="381.38" r="2.1" fill="none" stroke="#000000" stroke-width="1.1"/>
<circle cx="128.14" cy="379.48" r="2.1" fill="none" stroke="#000000" stroke-width="1.1"/>
<circle cx="133.92" cy="379.89" r="2.1" fill="none" stroke="#000000" stroke-width="1.1"/>
<circle cx="139.7" cy="381.38" r="2.1" fill="none" stroke="#000000" stroke-width="1.1"/>
<circle cx="145.48" cy="383.15" r="2.1" fill="none" stroke="#000000" stroke-width="1.1"/>
<circle cx="151.26" cy="384.38" r="2.1" fill="none" stroke="#000000" stroke-width="1.1"/>
<circle cx="157.04" cy="386.83" r="2.1" fill="none" stroke="#000000" stroke-width="1.1"/>
<circle cx="162.82" cy="388.05" r="2.1" fill="none" stroke="#000000" stroke-width="1.1"/>
<circle cx="168.6" cy="389.96" r="2.1" fill="none" stroke="#000000" stroke-width="1.1"/>
<circle cx="174.38" cy="392" r="2.1" fill="none" stroke="#000000" stroke-width="1.1"/>
<circle cx="180.16" cy="393.77" r="2.1" fill="none" stroke="#000000" stroke-width="1.1"/>
<circle cx="185.94" cy="396.36" r="2.1" fill="none" stroke="#000000" stroke-width="1.1"/>
<circle cx="191.72" cy="398.12" r="2.1" fill="none" stroke="#000000" stroke-width="1.1"/>
<circle cx="197.5" cy="399.89" r="2.1" fill="none" stroke="#000000" stroke-width="1.1"/>
<circle cx="53" cy="366.41" r="2.1" fill="none" stroke="#0000ff" stroke-width="1.1"/>
<circle cx="58.78" cy="369.95" r="2.1" fill="none" stroke="#0000ff" stroke-width="1.1"/>
<circle cx="64.56" cy="372.67" r="2.1" fill="none" stroke="#0000ff" stroke-width="1.1"/>
<circle cx="70.34" cy="376.08" r="2.1" fill="none" stroke="#0000ff" stroke-width="1.1"/>
<circle cx="76.12" cy="378.66" r="2.1" fill="none" stroke="#0000ff" stroke-width="1.1"/>
<circle cx="81.9" cy="382.06" r="2.1" fill="none" stroke="#0000ff" stroke-width="1.1"/>
<circle cx="87.68" cy="386.01" r="2.1" fill="none" stroke="#0000ff" stroke-width="1.1"/>
<circle cx="93.46" cy="391.59" r="2.1" fill="none" stroke="#0000ff" stroke-width="1.1"/>
<circle cx="99.24" cy="393.36" r="2.1" fill="none" stroke="#0000ff" stroke-width="1.1"/>
<circle cx="105.02" cy="393.91" r="2.1" fill="none" stroke="#0000ff" stroke-width="1.1"/>
<circle cx="110.8" cy="397.44" r="2.1" fill="none" stroke="#0000ff" stroke-width="1.1"/>
<circle cx="116.58" cy="403.7" r="2.1" fill="none" stroke="#0000ff" stroke-width="1.1"/>
<circle cx="122.36" cy="406.29" r="2.1" fill="none" stroke="#0000ff" stroke-width="1.1"/>
<circle cx="128.14" cy="406.29" r="2.1" fill="none" stroke="#0000ff" stroke-width="1.1"/>
<circle cx="133.92" cy="408.06" r="2.1" fill="none" stroke="#0000ff" stroke-width="1.1"/>
<circle cx="139.7" cy="410.37" r="2.1" fill="none" stroke="#0000ff" stroke-width="1.1"/>
<circle cx="145.48" cy="413.23" r="2.1" fill="none" stroke="#0000ff" stroke-width="1.1"/>
<circle cx="151.26" cy="414.05" r="2.1" fill="none" stroke="#0000ff" stroke-width="1.1"/>
<circle cx="157.04" cy="415.95" r="2.1" fill="none" stroke="#0000ff" stroke-width="1.1"/>
<circle cx="162.82" cy="417.86" r="2.1" fill="none" stroke="#0000ff" stroke-width="1.1"/>
<circle cx="168.6" cy="419.63" r="2.1" fill="none" stroke="#0000ff" stroke-width="1.1"/>
<circle cx="174.38" cy="421.53" r="2.1" fill="none" stroke="#0000ff" stroke-width="1.1"/>
<circle cx="180.16" cy="422.89" r="2.1" fill="none" stroke="#0000ff" stroke-width="1.1"/>
<circle cx="185.94" cy="423.85" r="2.1" fill="none" stroke="#0000ff" stroke-width="1.1"/>
<circle cx="191.72" cy="425.07" r="2.1" fill="none" stroke="#0000ff" stroke-width="1.1"/>
<circle cx="197.5" cy="426.03" r="2.1" fill="none" stroke="#0000ff" stroke-width="1.1"/>
<circle cx="53" cy="407.38" r="2.1" fill="none" stroke="#ee2a2a" stroke-width="1.1"/>
<circle cx="58.78" cy="411.05" r="2.1" fill="none" stroke="#ee2a2a" stroke-width="1.1"/>
<circle cx="64.56" cy="414.73" r="2.1" fill="none" stroke="#ee2a2a" stroke-width="1.1"/>
<circle cx="70.34" cy="418.13" r="2.1" fill="none" stroke="#ee2a2a" stroke-width="1.1"/>
<circle cx="76.12" cy="420.72" r="2.1" fill="none" stroke="#ee2a2a" stroke-width="1.1"/>
<circle cx="81.9" cy="423.03" r="2.1" fill="none" stroke="#ee2a2a" stroke-width="1.1"/>
<circle cx="87.68" cy="424.8" r="2.1" fill="none" stroke="#ee2a2a" stroke-width="1.1"/>
<circle cx="93.46" cy="427.25" r="2.1" fill="none" stroke="#ee2a2a" stroke-width="1.1"/>
<circle cx="99.24" cy="428.61" r="2.1" fill="none" stroke="#ee2a2a" stroke-width="1.1"/>
<circle cx="105.02" cy="429.43" r="2.1" fill="none" stroke="#ee2a2a" stroke-width="1.1"/>
<circle cx="110.8" cy="429.43" r="2.1" fill="none" stroke="#ee2a2a" stroke-width="1.1"/>
<circle cx="116.58" cy="429.7" r="2.1" fill="none" stroke="#ee2a2a" stroke-width="1.1"/>
<circle cx="122.36" cy="429.43" r="2.1" fill="none" stroke="#ee2a2a" stroke-width="1.1"/>
<circle cx="128.14" cy="428.88" r="2.1" fill="none" stroke="#ee2a2a" stroke-width="1.1"/>
<circle cx="133.92" cy="427.52" r="2.1" fill="none" stroke="#ee2a2a" stroke-width="1.1"/>
<circle cx="139.7" cy="426.43" r="2.1" fill="none" stroke="#ee2a2a" stroke-width="1.1"/>
<circle cx="145.48" cy="425.07" r="2.1" fill="none" stroke="#ee2a2a" stroke-width="1.1"/>
<circle cx="151.26" cy="423.85" r="2.1" fill="none" stroke="#ee2a2a" stroke-width="1.1"/>
<circle cx="157.04" cy="422.08" r="2.1" fill="none" stroke="#ee2a2a" stroke-width="1.1"/>
<circle cx="162.82" cy="420.17" r="2.1" fill="none" stroke="#ee2a2a" stroke-width="1.1"/>
<circle cx="168.6" cy="418.68" r="2.1" fill="none" stroke="#ee2a2a" stroke-width="1.1"/>
<circle cx="174.38" cy="416.91" r="2.1" fill="none" stroke="#ee2a2a" stroke-width="1.1"/>
<circle cx="180.16" cy="414.59" r="2.1" fill="none" stroke="#ee2a2a" stroke-width="1.1"/>
<circle cx="185.94" cy="412.82" r="2.1" fill="none" stroke="#ee2a2a" stroke-width="1.1"/>
<circle cx="191.72" cy="410.92" r="2.1" fill="none" stroke="#ee2a2a" stroke-width="1.1"/>
<circle cx="197.5" cy="409.28" r="2.1" fill="none" stroke="#ee2a2a" stroke-width="1.1"/>
<circle cx="53" cy="372.67" r="2.6" fill="url(#gK)"/>
<circle cx="58.78" cy="371.86" r="2.6" fill="url(#gK)"/>
<circle cx="64.56" cy="368.18" r="2.6" fill="url(#gK)"/>
<circle cx="70.34" cy="365.87" r="2.6" fill="url(#gK)"/>
<circle cx="76.12" cy="365.05" r="2.6" fill="url(#gK)"/>
<circle cx="81.9" cy="363.15" r="2.6" fill="url(#gK)"/>
<circle cx="87.68" cy="361.38" r="2.6" fill="url(#gK)"/>
<circle cx="93.46" cy="359.47" r="2.6" fill="url(#gK)"/>
<circle cx="99.24" cy="356.48" r="2.6" fill="url(#gK)"/>
<circle cx="105.02" cy="354.71" r="2.6" fill="url(#gK)"/>
<circle cx="110.8" cy="350.35" r="2.6" fill="url(#gK)"/>
<circle cx="116.58" cy="343.68" r="2.6" fill="url(#gK)"/>
<circle cx="122.36" cy="343" r="2.6" fill="url(#gK)"/>
<circle cx="128.14" cy="343.68" r="2.6" fill="url(#gK)"/>
<circle cx="133.92" cy="343.68" r="2.6" fill="url(#gK)"/>
<circle cx="139.7" cy="343" r="2.6" fill="url(#gK)"/>
<circle cx="145.48" cy="340.42" r="2.6" fill="url(#gK)"/>
<circle cx="151.26" cy="338.65" r="2.6" fill="url(#gK)"/>
<circle cx="157.04" cy="337.02" r="2.6" fill="url(#gK)"/>
<circle cx="162.82" cy="334.84" r="2.6" fill="url(#gK)"/>
<circle cx="168.6" cy="333.34" r="2.6" fill="url(#gK)"/>
<circle cx="174.38" cy="331.57" r="2.6" fill="url(#gK)"/>
<circle cx="180.16" cy="329.26" r="2.6" fill="url(#gK)"/>
<circle cx="185.94" cy="327.62" r="2.6" fill="url(#gK)"/>
<circle cx="191.72" cy="325.45" r="2.6" fill="url(#gK)"/>
<circle cx="197.5" cy="323.41" r="2.6" fill="url(#gK)"/>
<circle cx="53" cy="357.43" r="2.6" fill="url(#gB)"/>
<circle cx="58.78" cy="353.89" r="2.6" fill="url(#gB)"/>
<circle cx="64.56" cy="351.44" r="2.6" fill="url(#gB)"/>
<circle cx="70.34" cy="348.04" r="2.6" fill="url(#gB)"/>
<circle cx="76.12" cy="345.45" r="2.6" fill="url(#gB)"/>
<circle cx="81.9" cy="342.19" r="2.6" fill="url(#gB)"/>
<circle cx="87.68" cy="338.38" r="2.6" fill="url(#gB)"/>
<circle cx="93.46" cy="332.8" r="2.6" fill="url(#gB)"/>
<circle cx="99.24" cy="330.48" r="2.6" fill="url(#gB)"/>
<circle cx="105.02" cy="330.21" r="2.6" fill="url(#gB)"/>
<circle cx="110.8" cy="326.67" r="2.6" fill="url(#gB)"/>
<circle cx="116.58" cy="320.82" r="2.6" fill="url(#gB)"/>
<circle cx="122.36" cy="318.23" r="2.6" fill="url(#gB)"/>
<circle cx="128.14" cy="317.83" r="2.6" fill="url(#gB)"/>
<circle cx="133.92" cy="316.33" r="2.6" fill="url(#gB)"/>
<circle cx="139.7" cy="313.47" r="2.6" fill="url(#gB)"/>
<circle cx="145.48" cy="310.07" r="2.6" fill="url(#gB)"/>
<circle cx="151.26" cy="308.84" r="2.6" fill="url(#gB)"/>
<circle cx="157.04" cy="307.62" r="2.6" fill="url(#gB)"/>
<circle cx="162.82" cy="306.39" r="2.6" fill="url(#gB)"/>
<circle cx="168.6" cy="303.26" r="2.6" fill="url(#gB)"/>
<circle cx="174.38" cy="302.04" r="2.6" fill="url(#gB)"/>
<circle cx="180.16" cy="300.41" r="2.6" fill="url(#gB)"/>
<circle cx="185.94" cy="299.45" r="2.6" fill="url(#gB)"/>
<circle cx="191.72" cy="298.64" r="2.6" fill="url(#gB)"/>
<circle cx="197.5" cy="297" r="2.6" fill="url(#gB)"/>
<circle cx="53" cy="317.83" r="2.6" fill="url(#gR)"/>
<circle cx="58.78" cy="313.47" r="2.6" fill="url(#gR)"/>
<circle cx="64.56" cy="309.66" r="2.6" fill="url(#gR)"/>
<circle cx="70.34" cy="306.39" r="2.6" fill="url(#gR)"/>
<circle cx="76.12" cy="304.22" r="2.6" fill="url(#gR)"/>
<circle cx="81.9" cy="301.63" r="2.6" fill="url(#gR)"/>
<circle cx="87.68" cy="299.18" r="2.6" fill="url(#gR)"/>
<circle cx="93.46" cy="297.82" r="2.6" fill="url(#gR)"/>
<circle cx="99.24" cy="296.19" r="2.6" fill="url(#gR)"/>
<circle cx="105.02" cy="295.37" r="2.6" fill="url(#gR)"/>
<circle cx="110.8" cy="294.82" r="2.6" fill="url(#gR)"/>
<circle cx="116.58" cy="294.42" r="2.6" fill="url(#gR)"/>
<circle cx="122.36" cy="294.42" r="2.6" fill="url(#gR)"/>
<circle cx="128.14" cy="295.37" r="2.6" fill="url(#gR)"/>
<circle cx="133.92" cy="295.78" r="2.6" fill="url(#gR)"/>
<circle cx="139.7" cy="297" r="2.6" fill="url(#gR)"/>
<circle cx="145.48" cy="298.09" r="2.6" fill="url(#gR)"/>
<circle cx="151.26" cy="299.45" r="2.6" fill="url(#gR)"/>
<circle cx="157.04" cy="300.95" r="2.6" fill="url(#gR)"/>
<circle cx="162.82" cy="302.58" r="2.6" fill="url(#gR)"/>
<circle cx="168.6" cy="304.35" r="2.6" fill="url(#gR)"/>
<circle cx="174.38" cy="306.39" r="2.6" fill="url(#gR)"/>
<circle cx="180.16" cy="308.3" r="2.6" fill="url(#gR)"/>
<circle cx="185.94" cy="310.2" r="2.6" fill="url(#gR)"/>
<circle cx="191.72" cy="312.38" r="2.6" fill="url(#gR)"/>
<circle cx="197.5" cy="314.56" r="2.6" fill="url(#gR)"/>
</g>
<g clip-path="url(#ci1)">
<circle cx="197.93" cy="404.66" r="2.1" fill="none" stroke="#000000" stroke-width="1.1"/>
<circle cx="204.7" cy="404.66" r="2.1" fill="none" stroke="#000000" stroke-width="1.1"/>
<circle cx="211.47" cy="408.06" r="2.1" fill="none" stroke="#000000" stroke-width="1.1"/>
<circle cx="218.24" cy="411.05" r="2.1" fill="none" stroke="#000000" stroke-width="1.1"/>
<circle cx="225.01" cy="414.05" r="2.1" fill="none" stroke="#000000" stroke-width="1.1"/>
<circle cx="231.78" cy="416.09" r="2.1" fill="none" stroke="#000000" stroke-width="1.1"/>
<circle cx="238.55" cy="418.13" r="2.1" fill="none" stroke="#000000" stroke-width="1.1"/>
<circle cx="245.32" cy="420.04" r="2.1" fill="none" stroke="#000000" stroke-width="1.1"/>
<circle cx="252.09" cy="421.67" r="2.1" fill="none" stroke="#000000" stroke-width="1.1"/>
<circle cx="258.86" cy="423.17" r="2.1" fill="none" stroke="#000000" stroke-width="1.1"/>
<circle cx="265.63" cy="424.94" r="2.1" fill="none" stroke="#000000" stroke-width="1.1"/>
<circle cx="272.4" cy="425.75" r="2.1" fill="none" stroke="#000000" stroke-width="1.1"/>
<circle cx="279.17" cy="426.3" r="2.1" fill="none" stroke="#000000" stroke-width="1.1"/>
<circle cx="285.94" cy="427.52" r="2.1" fill="none" stroke="#000000" stroke-width="1.1"/>
<circle cx="292.71" cy="428.34" r="2.1" fill="none" stroke="#000000" stroke-width="1.1"/>
<circle cx="299.48" cy="428.88" r="2.1" fill="none" stroke="#000000" stroke-width="1.1"/>
<circle cx="306.25" cy="429.02" r="2.1" fill="none" stroke="#000000" stroke-width="1.1"/>
<circle cx="313.02" cy="429.02" r="2.1" fill="none" stroke="#000000" stroke-width="1.1"/>
<circle cx="319.79" cy="429.02" r="2.1" fill="none" stroke="#000000" stroke-width="1.1"/>
<circle cx="326.56" cy="429.02" r="2.1" fill="none" stroke="#000000" stroke-width="1.1"/>
<circle cx="333.33" cy="429.02" r="2.1" fill="none" stroke="#000000" stroke-width="1.1"/>
<circle cx="340.1" cy="429.02" r="2.1" fill="none" stroke="#000000" stroke-width="1.1"/>
<circle cx="346.87" cy="429.02" r="2.1" fill="none" stroke="#000000" stroke-width="1.1"/>
<circle cx="353.64" cy="429.02" r="2.1" fill="none" stroke="#000000" stroke-width="1.1"/>
<circle cx="360.41" cy="429.02" r="2.1" fill="none" stroke="#000000" stroke-width="1.1"/>
<circle cx="367.18" cy="429.02" r="2.1" fill="none" stroke="#000000" stroke-width="1.1"/>
<circle cx="197.93" cy="423.71" r="2.1" fill="none" stroke="#0000ff" stroke-width="1.1"/>
<circle cx="204.7" cy="423.71" r="2.1" fill="none" stroke="#0000ff" stroke-width="1.1"/>
<circle cx="211.47" cy="425.07" r="2.1" fill="none" stroke="#0000ff" stroke-width="1.1"/>
<circle cx="218.24" cy="426.3" r="2.1" fill="none" stroke="#0000ff" stroke-width="1.1"/>
<circle cx="225.01" cy="427.52" r="2.1" fill="none" stroke="#0000ff" stroke-width="1.1"/>
<circle cx="231.78" cy="428.34" r="2.1" fill="none" stroke="#0000ff" stroke-width="1.1"/>
<circle cx="238.55" cy="428.34" r="2.1" fill="none" stroke="#0000ff" stroke-width="1.1"/>
<circle cx="245.32" cy="428.34" r="2.1" fill="none" stroke="#0000ff" stroke-width="1.1"/>
<circle cx="252.09" cy="428.34" r="2.1" fill="none" stroke="#0000ff" stroke-width="1.1"/>
<circle cx="258.86" cy="428.34" r="2.1" fill="none" stroke="#0000ff" stroke-width="1.1"/>
<circle cx="265.63" cy="428.34" r="2.1" fill="none" stroke="#0000ff" stroke-width="1.1"/>
<circle cx="272.4" cy="428.34" r="2.1" fill="none" stroke="#0000ff" stroke-width="1.1"/>
<circle cx="279.17" cy="427.52" r="2.1" fill="none" stroke="#0000ff" stroke-width="1.1"/>
<circle cx="285.94" cy="425.75" r="2.1" fill="none" stroke="#0000ff" stroke-width="1.1"/>
<circle cx="292.71" cy="423.85" r="2.1" fill="none" stroke="#0000ff" stroke-width="1.1"/>
<circle cx="299.48" cy="422.08" r="2.1" fill="none" stroke="#0000ff" stroke-width="1.1"/>
<circle cx="306.25" cy="420.72" r="2.1" fill="none" stroke="#0000ff" stroke-width="1.1"/>
<circle cx="313.02" cy="419.22" r="2.1" fill="none" stroke="#0000ff" stroke-width="1.1"/>
<circle cx="319.79" cy="417.45" r="2.1" fill="none" stroke="#0000ff" stroke-width="1.1"/>
<circle cx="326.56" cy="415.55" r="2.1" fill="none" stroke="#0000ff" stroke-width="1.1"/>
<circle cx="333.33" cy="414.18" r="2.1" fill="none" stroke="#0000ff" stroke-width="1.1"/>
<circle cx="340.1" cy="413.37" r="2.1" fill="none" stroke="#0000ff" stroke-width="1.1"/>
<circle cx="346.87" cy="411.6" r="2.1" fill="none" stroke="#0000ff" stroke-width="1.1"/>
<circle cx="353.64" cy="410.37" r="2.1" fill="none" stroke="#0000ff" stroke-width="1.1"/>
<circle cx="360.41" cy="408.33" r="2.1" fill="none" stroke="#0000ff" stroke-width="1.1"/>
<circle cx="367.18" cy="405.75" r="2.1" fill="none" stroke="#0000ff" stroke-width="1.1"/>
<circle cx="197.93" cy="403.43" r="2.1" fill="none" stroke="#ee2a2a" stroke-width="1.1"/>
<circle cx="204.7" cy="403.43" r="2.1" fill="none" stroke="#ee2a2a" stroke-width="1.1"/>
<circle cx="211.47" cy="399.49" r="2.1" fill="none" stroke="#ee2a2a" stroke-width="1.1"/>
<circle cx="218.24" cy="397.04" r="2.1" fill="none" stroke="#ee2a2a" stroke-width="1.1"/>
<circle cx="225.01" cy="395.27" r="2.1" fill="none" stroke="#ee2a2a" stroke-width="1.1"/>
<circle cx="231.78" cy="394.59" r="2.1" fill="none" stroke="#ee2a2a" stroke-width="1.1"/>
<circle cx="238.55" cy="391.32" r="2.1" fill="none" stroke="#ee2a2a" stroke-width="1.1"/>
<circle cx="245.32" cy="388.73" r="2.1" fill="none" stroke="#ee2a2a" stroke-width="1.1"/>
<circle cx="252.09" cy="387.1" r="2.1" fill="none" stroke="#ee2a2a" stroke-width="1.1"/>
<circle cx="258.86" cy="387.1" r="2.1" fill="none" stroke="#ee2a2a" stroke-width="1.1"/>
<circle cx="265.63" cy="387.1" r="2.1" fill="none" stroke="#ee2a2a" stroke-width="1.1"/>
<circle cx="272.4" cy="384.38" r="2.1" fill="none" stroke="#ee2a2a" stroke-width="1.1"/>
<circle cx="279.17" cy="381.11" r="2.1" fill="none" stroke="#ee2a2a" stroke-width="1.1"/>
<circle cx="285.94" cy="380.16" r="2.1" fill="none" stroke="#ee2a2a" stroke-width="1.1"/>
<circle cx="292.71" cy="380.16" r="2.1" fill="none" stroke="#ee2a2a" stroke-width="1.1"/>
<circle cx="299.48" cy="380.16" r="2.1" fill="none" stroke="#ee2a2a" stroke-width="1.1"/>
<circle cx="306.25" cy="379.34" r="2.1" fill="none" stroke="#ee2a2a" stroke-width="1.1"/>
<circle cx="313.02" cy="377.57" r="2.1" fill="none" stroke="#ee2a2a" stroke-width="1.1"/>
<circle cx="319.79" cy="373.08" r="2.1" fill="none" stroke="#ee2a2a" stroke-width="1.1"/>
<circle cx="326.56" cy="372.54" r="2.1" fill="none" stroke="#ee2a2a" stroke-width="1.1"/>
<circle cx="333.33" cy="374.31" r="2.1" fill="none" stroke="#ee2a2a" stroke-width="1.1"/>
<circle cx="340.1" cy="373.49" r="2.1" fill="none" stroke="#ee2a2a" stroke-width="1.1"/>
<circle cx="346.87" cy="372.54" r="2.1" fill="none" stroke="#ee2a2a" stroke-width="1.1"/>
<circle cx="353.64" cy="371.04" r="2.1" fill="none" stroke="#ee2a2a" stroke-width="1.1"/>
<circle cx="360.41" cy="369.82" r="2.1" fill="none" stroke="#ee2a2a" stroke-width="1.1"/>
<circle cx="367.18" cy="368.45" r="2.1" fill="none" stroke="#ee2a2a" stroke-width="1.1"/>
<circle cx="197.93" cy="319.73" r="2.6" fill="url(#gK)"/>
<circle cx="204.7" cy="319.73" r="2.6" fill="url(#gK)"/>
<circle cx="211.47" cy="316.33" r="2.6" fill="url(#gK)"/>
<circle cx="218.24" cy="312.79" r="2.6" fill="url(#gK)"/>
<circle cx="225.01" cy="310.2" r="2.6" fill="url(#gK)"/>
<circle cx="231.78" cy="307.62" r="2.6" fill="url(#gK)"/>
<circle cx="238.55" cy="305.71" r="2.6" fill="url(#gK)"/>
<circle cx="245.32" cy="303.54" r="2.6" fill="url(#gK)"/>
<circle cx="252.09" cy="301.77" r="2.6" fill="url(#gK)"/>
<circle cx="258.86" cy="300.27" r="2.6" fill="url(#gK)"/>
<circle cx="265.63" cy="298.64" r="2.6" fill="url(#gK)"/>
<circle cx="272.4" cy="297.55" r="2.6" fill="url(#gK)"/>
<circle cx="279.17" cy="296.87" r="2.6" fill="url(#gK)"/>
<circle cx="285.94" cy="296.19" r="2.6" fill="url(#gK)"/>
<circle cx="292.71" cy="295.64" r="2.6" fill="url(#gK)"/>
<circle cx="299.48" cy="295.1" r="2.6" fill="url(#gK)"/>
<circle cx="306.25" cy="294.69" r="2.6" fill="url(#gK)"/>
<circle cx="313.02" cy="294.42" r="2.6" fill="url(#gK)"/>
<circle cx="319.79" cy="294.42" r="2.6" fill="url(#gK)"/>
<circle cx="326.56" cy="294.42" r="2.6" fill="url(#gK)"/>
<circle cx="333.33" cy="294.42" r="2.6" fill="url(#gK)"/>
<circle cx="340.1" cy="294.42" r="2.6" fill="url(#gK)"/>
<circle cx="346.87" cy="294.42" r="2.6" fill="url(#gK)"/>
<circle cx="353.64" cy="294.42" r="2.6" fill="url(#gK)"/>
<circle cx="360.41" cy="294.42" r="2.6" fill="url(#gK)"/>
<circle cx="367.18" cy="294.42" r="2.6" fill="url(#gK)"/>
<circle cx="197.93" cy="300.27" r="2.6" fill="url(#gB)"/>
<circle cx="204.7" cy="300.27" r="2.6" fill="url(#gB)"/>
<circle cx="211.47" cy="299.45" r="2.6" fill="url(#gB)"/>
<circle cx="218.24" cy="297.68" r="2.6" fill="url(#gB)"/>
<circle cx="225.01" cy="296.19" r="2.6" fill="url(#gB)"/>
<circle cx="231.78" cy="295.64" r="2.6" fill="url(#gB)"/>
<circle cx="238.55" cy="295.1" r="2.6" fill="url(#gB)"/>
<circle cx="245.32" cy="295.1" r="2.6" fill="url(#gB)"/>
<circle cx="252.09" cy="295.1" r="2.6" fill="url(#gB)"/>
<circle cx="258.86" cy="295.1" r="2.6" fill="url(#gB)"/>
<circle cx="265.63" cy="295.64" r="2.6" fill="url(#gB)"/>
<circle cx="272.4" cy="296.19" r="2.6" fill="url(#gB)"/>
<circle cx="279.17" cy="296.87" r="2.6" fill="url(#gB)"/>
<circle cx="285.94" cy="297.68" r="2.6" fill="url(#gB)"/>
<circle cx="292.71" cy="299.45" r="2.6" fill="url(#gB)"/>
<circle cx="299.48" cy="300.68" r="2.6" fill="url(#gB)"/>
<circle cx="306.25" cy="302.04" r="2.6" fill="url(#gB)"/>
<circle cx="313.02" cy="303.26" r="2.6" fill="url(#gB)"/>
<circle cx="319.79" cy="304.49" r="2.6" fill="url(#gB)"/>
<circle cx="326.56" cy="306.39" r="2.6" fill="url(#gB)"/>
<circle cx="333.33" cy="307.89" r="2.6" fill="url(#gB)"/>
<circle cx="340.1" cy="309.66" r="2.6" fill="url(#gB)"/>
<circle cx="346.87" cy="310.88" r="2.6" fill="url(#gB)"/>
<circle cx="353.64" cy="312.11" r="2.6" fill="url(#gB)"/>
<circle cx="360.41" cy="313.47" r="2.6" fill="url(#gB)"/>
<circle cx="367.18" cy="314.56" r="2.6" fill="url(#gB)"/>
<circle cx="197.93" cy="320.55" r="2.6" fill="url(#gR)"/>
<circle cx="204.7" cy="320.55" r="2.6" fill="url(#gR)"/>
<circle cx="211.47" cy="323.54" r="2.6" fill="url(#gR)"/>
<circle cx="218.24" cy="327.35" r="2.6" fill="url(#gR)"/>
<circle cx="225.01" cy="328.58" r="2.6" fill="url(#gR)"/>
<circle cx="231.78" cy="329.12" r="2.6" fill="url(#gR)"/>
<circle cx="238.55" cy="329.94" r="2.6" fill="url(#gR)"/>
<circle cx="245.32" cy="333.21" r="2.6" fill="url(#gR)"/>
<circle cx="252.09" cy="335.65" r="2.6" fill="url(#gR)"/>
<circle cx="258.86" cy="337.42" r="2.6" fill="url(#gR)"/>
<circle cx="265.63" cy="336.61" r="2.6" fill="url(#gR)"/>
<circle cx="272.4" cy="336.61" r="2.6" fill="url(#gR)"/>
<circle cx="279.17" cy="339.33" r="2.6" fill="url(#gR)"/>
<circle cx="285.94" cy="341.78" r="2.6" fill="url(#gR)"/>
<circle cx="292.71" cy="343.28" r="2.6" fill="url(#gR)"/>
<circle cx="299.48" cy="343.28" r="2.6" fill="url(#gR)"/>
<circle cx="306.25" cy="343.82" r="2.6" fill="url(#gR)"/>
<circle cx="313.02" cy="345.18" r="2.6" fill="url(#gR)"/>
<circle cx="319.79" cy="347.63" r="2.6" fill="url(#gR)"/>
<circle cx="326.56" cy="350.9" r="2.6" fill="url(#gR)"/>
<circle cx="333.33" cy="350.9" r="2.6" fill="url(#gR)"/>
<circle cx="340.1" cy="348.86" r="2.6" fill="url(#gR)"/>
<circle cx="346.87" cy="350.22" r="2.6" fill="url(#gR)"/>
<circle cx="353.64" cy="351.99" r="2.6" fill="url(#gR)"/>
<circle cx="360.41" cy="353.48" r="2.6" fill="url(#gR)"/>
<circle cx="367.18" cy="354.44" r="2.6" fill="url(#gR)"/>
</g>
<g clip-path="url(#ci2)">
<circle cx="365.93" cy="423.71" r="2.1" fill="none" stroke="#000000" stroke-width="1.1"/>
<circle cx="372.7" cy="423.71" r="2.1" fill="none" stroke="#000000" stroke-width="1.1"/>
<circle cx="379.47" cy="425.07" r="2.1" fill="none" stroke="#000000" stroke-width="1.1"/>
<circle cx="386.24" cy="425.75" r="2.1" fill="none" stroke="#000000" stroke-width="1.1"/>
<circle cx="393.01" cy="425.07" r="2.1" fill="none" stroke="#000000" stroke-width="1.1"/>
<circle cx="399.78" cy="424.26" r="2.1" fill="none" stroke="#000000" stroke-width="1.1"/>
<circle cx="406.55" cy="423.3" r="2.1" fill="none" stroke="#000000" stroke-width="1.1"/>
<circle cx="413.32" cy="422.49" r="2.1" fill="none" stroke="#000000" stroke-width="1.1"/>
<circle cx="420.09" cy="421.67" r="2.1" fill="none" stroke="#000000" stroke-width="1.1"/>
<circle cx="426.86" cy="421.26" r="2.1" fill="none" stroke="#000000" stroke-width="1.1"/>
<circle cx="433.63" cy="420.72" r="2.1" fill="none" stroke="#000000" stroke-width="1.1"/>
<circle cx="440.4" cy="419.9" r="2.1" fill="none" stroke="#000000" stroke-width="1.1"/>
<circle cx="447.17" cy="419.22" r="2.1" fill="none" stroke="#000000" stroke-width="1.1"/>
<circle cx="453.94" cy="418.68" r="2.1" fill="none" stroke="#000000" stroke-width="1.1"/>
<circle cx="460.71" cy="418.13" r="2.1" fill="none" stroke="#000000" stroke-width="1.1"/>
<circle cx="467.48" cy="417.45" r="2.1" fill="none" stroke="#000000" stroke-width="1.1"/>
<circle cx="474.25" cy="416.09" r="2.1" fill="none" stroke="#000000" stroke-width="1.1"/>
<circle cx="481.02" cy="415.55" r="2.1" fill="none" stroke="#000000" stroke-width="1.1"/>
<circle cx="487.79" cy="414.87" r="2.1" fill="none" stroke="#000000" stroke-width="1.1"/>
<circle cx="494.56" cy="414.05" r="2.1" fill="none" stroke="#000000" stroke-width="1.1"/>
<circle cx="501.33" cy="413.64" r="2.1" fill="none" stroke="#000000" stroke-width="1.1"/>
<circle cx="508.1" cy="413.1" r="2.1" fill="none" stroke="#000000" stroke-width="1.1"/>
<circle cx="514.87" cy="412.28" r="2.1" fill="none" stroke="#000000" stroke-width="1.1"/>
<circle cx="521.64" cy="411.05" r="2.1" fill="none" stroke="#000000" stroke-width="1.1"/>
<circle cx="528.41" cy="409.83" r="2.1" fill="none" stroke="#000000" stroke-width="1.1"/>
<circle cx="535.18" cy="408.06" r="2.1" fill="none" stroke="#000000" stroke-width="1.1"/>
<circle cx="365.93" cy="408.47" r="2.1" fill="none" stroke="#0000ff" stroke-width="1.1"/>
<circle cx="372.7" cy="408.47" r="2.1" fill="none" stroke="#0000ff" stroke-width="1.1"/>
<circle cx="379.47" cy="407.24" r="2.1" fill="none" stroke="#0000ff" stroke-width="1.1"/>
<circle cx="386.24" cy="406.56" r="2.1" fill="none" stroke="#0000ff" stroke-width="1.1"/>
<circle cx="393.01" cy="404.66" r="2.1" fill="none" stroke="#0000ff" stroke-width="1.1"/>
<circle cx="399.78" cy="403.43" r="2.1" fill="none" stroke="#0000ff" stroke-width="1.1"/>
<circle cx="406.55" cy="402.21" r="2.1" fill="none" stroke="#0000ff" stroke-width="1.1"/>
<circle cx="413.32" cy="400.98" r="2.1" fill="none" stroke="#0000ff" stroke-width="1.1"/>
<circle cx="420.09" cy="398.94" r="2.1" fill="none" stroke="#0000ff" stroke-width="1.1"/>
<circle cx="426.86" cy="397.85" r="2.1" fill="none" stroke="#0000ff" stroke-width="1.1"/>
<circle cx="433.63" cy="396.36" r="2.1" fill="none" stroke="#0000ff" stroke-width="1.1"/>
<circle cx="440.4" cy="397.04" r="2.1" fill="none" stroke="#0000ff" stroke-width="1.1"/>
<circle cx="447.17" cy="397.04" r="2.1" fill="none" stroke="#0000ff" stroke-width="1.1"/>
<circle cx="453.94" cy="396.36" r="2.1" fill="none" stroke="#0000ff" stroke-width="1.1"/>
<circle cx="460.71" cy="396.36" r="2.1" fill="none" stroke="#0000ff" stroke-width="1.1"/>
<circle cx="467.48" cy="397.04" r="2.1" fill="none" stroke="#0000ff" stroke-width="1.1"/>
<circle cx="474.25" cy="398.94" r="2.1" fill="none" stroke="#0000ff" stroke-width="1.1"/>
<circle cx="481.02" cy="400.98" r="2.1" fill="none" stroke="#0000ff" stroke-width="1.1"/>
<circle cx="487.79" cy="400.98" r="2.1" fill="none" stroke="#0000ff" stroke-width="1.1"/>
<circle cx="494.56" cy="398.4" r="2.1" fill="none" stroke="#0000ff" stroke-width="1.1"/>
<circle cx="501.33" cy="394.59" r="2.1" fill="none" stroke="#0000ff" stroke-width="1.1"/>
<circle cx="508.1" cy="394.59" r="2.1" fill="none" stroke="#0000ff" stroke-width="1.1"/>
<circle cx="514.87" cy="395.27" r="2.1" fill="none" stroke="#0000ff" stroke-width="1.1"/>
<circle cx="521.64" cy="395.27" r="2.1" fill="none" stroke="#0000ff" stroke-width="1.1"/>
<circle cx="528.41" cy="394.59" r="2.1" fill="none" stroke="#0000ff" stroke-width="1.1"/>
<circle cx="535.18" cy="394.59" r="2.1" fill="none" stroke="#0000ff" stroke-width="1.1"/>
<circle cx="365.93" cy="384.38" r="2.1" fill="none" stroke="#ee2a2a" stroke-width="1.1"/>
<circle cx="372.7" cy="384.38" r="2.1" fill="none" stroke="#ee2a2a" stroke-width="1.1"/>
<circle cx="379.47" cy="383.7" r="2.1" fill="none" stroke="#ee2a2a" stroke-width="1.1"/>
<circle cx="386.24" cy="384.38" r="2.1" fill="none" stroke="#ee2a2a" stroke-width="1.1"/>
<circle cx="393.01" cy="386.15" r="2.1" fill="none" stroke="#ee2a2a" stroke-width="1.1"/>
<circle cx="399.78" cy="387.65" r="2.1" fill="none" stroke="#ee2a2a" stroke-width="1.1"/>
<circle cx="406.55" cy="387.65" r="2.1" fill="none" stroke="#ee2a2a" stroke-width="1.1"/>
<circle cx="413.32" cy="387.65" r="2.1" fill="none" stroke="#ee2a2a" stroke-width="1.1"/>
<circle cx="420.09" cy="387.65" r="2.1" fill="none" stroke="#ee2a2a" stroke-width="1.1"/>
<circle cx="426.86" cy="387.65" r="2.1" fill="none" stroke="#ee2a2a" stroke-width="1.1"/>
<circle cx="433.63" cy="388.19" r="2.1" fill="none" stroke="#ee2a2a" stroke-width="1.1"/>
<circle cx="440.4" cy="389.55" r="2.1" fill="none" stroke="#ee2a2a" stroke-width="1.1"/>
<circle cx="447.17" cy="390.23" r="2.1" fill="none" stroke="#ee2a2a" stroke-width="1.1"/>
<circle cx="453.94" cy="390.23" r="2.1" fill="none" stroke="#ee2a2a" stroke-width="1.1"/>
<circle cx="460.71" cy="389.55" r="2.1" fill="none" stroke="#ee2a2a" stroke-width="1.1"/>
<circle cx="467.48" cy="388.73" r="2.1" fill="none" stroke="#ee2a2a" stroke-width="1.1"/>
<circle cx="474.25" cy="388.19" r="2.1" fill="none" stroke="#ee2a2a" stroke-width="1.1"/>
<circle cx="481.02" cy="388.19" r="2.1" fill="none" stroke="#ee2a2a" stroke-width="1.1"/>
<circle cx="487.79" cy="389.55" r="2.1" fill="none" stroke="#ee2a2a" stroke-width="1.1"/>
<circle cx="494.56" cy="391.32" r="2.1" fill="none" stroke="#ee2a2a" stroke-width="1.1"/>
<circle cx="501.33" cy="393.36" r="2.1" fill="none" stroke="#ee2a2a" stroke-width="1.1"/>
<circle cx="508.1" cy="395.27" r="2.1" fill="none" stroke="#ee2a2a" stroke-width="1.1"/>
<circle cx="514.87" cy="397.04" r="2.1" fill="none" stroke="#ee2a2a" stroke-width="1.1"/>
<circle cx="521.64" cy="397.85" r="2.1" fill="none" stroke="#ee2a2a" stroke-width="1.1"/>
<circle cx="528.41" cy="398.94" r="2.1" fill="none" stroke="#ee2a2a" stroke-width="1.1"/>
<circle cx="535.18" cy="399.62" r="2.1" fill="none" stroke="#ee2a2a" stroke-width="1.1"/>
<circle cx="365.93" cy="299.45" r="2.6" fill="url(#gK)"/>
<circle cx="372.7" cy="299.45" r="2.6" fill="url(#gK)"/>
<circle cx="379.47" cy="298.64" r="2.6" fill="url(#gK)"/>
<circle cx="386.24" cy="298.23" r="2.6" fill="url(#gK)"/>
<circle cx="393.01" cy="298.64" r="2.6" fill="url(#gK)"/>
<circle cx="399.78" cy="299.45" r="2.6" fill="url(#gK)"/>
<circle cx="406.55" cy="300.27" r="2.6" fill="url(#gK)"/>
<circle cx="413.32" cy="301.22" r="2.6" fill="url(#gK)"/>
<circle cx="420.09" cy="302.04" r="2.6" fill="url(#gK)"/>
<circle cx="426.86" cy="302.72" r="2.6" fill="url(#gK)"/>
<circle cx="433.63" cy="302.72" r="2.6" fill="url(#gK)"/>
<circle cx="440.4" cy="303.26" r="2.6" fill="url(#gK)"/>
<circle cx="447.17" cy="303.81" r="2.6" fill="url(#gK)"/>
<circle cx="453.94" cy="304.49" r="2.6" fill="url(#gK)"/>
<circle cx="460.71" cy="305.3" r="2.6" fill="url(#gK)"/>
<circle cx="467.48" cy="305.85" r="2.6" fill="url(#gK)"/>
<circle cx="474.25" cy="306.26" r="2.6" fill="url(#gK)"/>
<circle cx="481.02" cy="306.94" r="2.6" fill="url(#gK)"/>
<circle cx="487.79" cy="307.75" r="2.6" fill="url(#gK)"/>
<circle cx="494.56" cy="308.71" r="2.6" fill="url(#gK)"/>
<circle cx="501.33" cy="309.52" r="2.6" fill="url(#gK)"/>
<circle cx="508.1" cy="310.34" r="2.6" fill="url(#gK)"/>
<circle cx="514.87" cy="311.43" r="2.6" fill="url(#gK)"/>
<circle cx="521.64" cy="312.11" r="2.6" fill="url(#gK)"/>
<circle cx="528.41" cy="313.47" r="2.6" fill="url(#gK)"/>
<circle cx="535.18" cy="314.56" r="2.6" fill="url(#gK)"/>
<circle cx="365.93" cy="313.47" r="2.6" fill="url(#gB)"/>
<circle cx="372.7" cy="313.47" r="2.6" fill="url(#gB)"/>
<circle cx="379.47" cy="315.38" r="2.6" fill="url(#gB)"/>
<circle cx="386.24" cy="317.15" r="2.6" fill="url(#gB)"/>
<circle cx="393.01" cy="318.91" r="2.6" fill="url(#gB)"/>
<circle cx="399.78" cy="320.41" r="2.6" fill="url(#gB)"/>
<circle cx="406.55" cy="320.96" r="2.6" fill="url(#gB)"/>
<circle cx="413.32" cy="321.36" r="2.6" fill="url(#gB)"/>
<circle cx="420.09" cy="323.41" r="2.6" fill="url(#gB)"/>
<circle cx="426.86" cy="325.58" r="2.6" fill="url(#gB)"/>
<circle cx="433.63" cy="326.54" r="2.6" fill="url(#gB)"/>
<circle cx="440.4" cy="327.35" r="2.6" fill="url(#gB)"/>
<circle cx="447.17" cy="326.54" r="2.6" fill="url(#gB)"/>
<circle cx="453.94" cy="326.54" r="2.6" fill="url(#gB)"/>
<circle cx="460.71" cy="327.35" r="2.6" fill="url(#gB)"/>
<circle cx="467.48" cy="327.35" r="2.6" fill="url(#gB)"/>
<circle cx="474.25" cy="326.54" r="2.6" fill="url(#gB)"/>
<circle cx="481.02" cy="324.77" r="2.6" fill="url(#gB)"/>
<circle cx="487.79" cy="323" r="2.6" fill="url(#gB)"/>
<circle cx="494.56" cy="323" r="2.6" fill="url(#gB)"/>
<circle cx="501.33" cy="325.58" r="2.6" fill="url(#gB)"/>
<circle cx="508.1" cy="328.58" r="2.6" fill="url(#gB)"/>
<circle cx="514.87" cy="328.58" r="2.6" fill="url(#gB)"/>
<circle cx="521.64" cy="328.17" r="2.6" fill="url(#gB)"/>
<circle cx="528.41" cy="328.58" r="2.6" fill="url(#gB)"/>
<circle cx="535.18" cy="329.12" r="2.6" fill="url(#gB)"/>
<circle cx="365.93" cy="339.33" r="2.6" fill="url(#gR)"/>
<circle cx="372.7" cy="339.33" r="2.6" fill="url(#gR)"/>
<circle cx="379.47" cy="340.01" r="2.6" fill="url(#gR)"/>
<circle cx="386.24" cy="338.79" r="2.6" fill="url(#gR)"/>
<circle cx="393.01" cy="337.42" r="2.6" fill="url(#gR)"/>
<circle cx="399.78" cy="336.2" r="2.6" fill="url(#gR)"/>
<circle cx="406.55" cy="335.65" r="2.6" fill="url(#gR)"/>
<circle cx="413.32" cy="335.65" r="2.6" fill="url(#gR)"/>
<circle cx="420.09" cy="336.2" r="2.6" fill="url(#gR)"/>
<circle cx="426.86" cy="335.65" r="2.6" fill="url(#gR)"/>
<circle cx="433.63" cy="334.97" r="2.6" fill="url(#gR)"/>
<circle cx="440.4" cy="334.16" r="2.6" fill="url(#gR)"/>
<circle cx="447.17" cy="333.75" r="2.6" fill="url(#gR)"/>
<circle cx="453.94" cy="333.21" r="2.6" fill="url(#gR)"/>
<circle cx="460.71" cy="333.75" r="2.6" fill="url(#gR)"/>
<circle cx="467.48" cy="334.16" r="2.6" fill="url(#gR)"/>
<circle cx="474.25" cy="334.97" r="2.6" fill="url(#gR)"/>
<circle cx="481.02" cy="334.97" r="2.6" fill="url(#gR)"/>
<circle cx="487.79" cy="334.16" r="2.6" fill="url(#gR)"/>
<circle cx="494.56" cy="332.39" r="2.6" fill="url(#gR)"/>
<circle cx="501.33" cy="329.94" r="2.6" fill="url(#gR)"/>
<circle cx="508.1" cy="328.17" r="2.6" fill="url(#gR)"/>
<circle cx="514.87" cy="326.54" r="2.6" fill="url(#gR)"/>
<circle cx="521.64" cy="325.58" r="2.6" fill="url(#gR)"/>
<circle cx="528.41" cy="325.58" r="2.6" fill="url(#gR)"/>
<circle cx="535.18" cy="324.77" r="2.6" fill="url(#gR)"/>
</g>
<g clip-path="url(#ci3)">
<circle cx="535.78" cy="416.09" r="2.1" fill="none" stroke="#000000" stroke-width="1.1"/>
<circle cx="541.7" cy="416.09" r="2.1" fill="none" stroke="#000000" stroke-width="1.1"/>
<circle cx="547.62" cy="416.09" r="2.1" fill="none" stroke="#000000" stroke-width="1.1"/>
<circle cx="553.54" cy="417.45" r="2.1" fill="none" stroke="#000000" stroke-width="1.1"/>
<circle cx="559.46" cy="417.45" r="2.1" fill="none" stroke="#000000" stroke-width="1.1"/>
<circle cx="565.38" cy="418.68" r="2.1" fill="none" stroke="#000000" stroke-width="1.1"/>
<circle cx="571.3" cy="417.45" r="2.1" fill="none" stroke="#000000" stroke-width="1.1"/>
<circle cx="577.22" cy="416.09" r="2.1" fill="none" stroke="#000000" stroke-width="1.1"/>
<circle cx="583.14" cy="416.09" r="2.1" fill="none" stroke="#000000" stroke-width="1.1"/>
<circle cx="589.06" cy="417.45" r="2.1" fill="none" stroke="#000000" stroke-width="1.1"/>
<circle cx="594.98" cy="416.09" r="2.1" fill="none" stroke="#000000" stroke-width="1.1"/>
<circle cx="600.9" cy="414.87" r="2.1" fill="none" stroke="#000000" stroke-width="1.1"/>
<circle cx="606.82" cy="413.64" r="2.1" fill="none" stroke="#000000" stroke-width="1.1"/>
<circle cx="612.74" cy="413.64" r="2.1" fill="none" stroke="#000000" stroke-width="1.1"/>
<circle cx="618.66" cy="414.87" r="2.1" fill="none" stroke="#000000" stroke-width="1.1"/>
<circle cx="624.58" cy="416.63" r="2.1" fill="none" stroke="#000000" stroke-width="1.1"/>
<circle cx="630.5" cy="418.13" r="2.1" fill="none" stroke="#000000" stroke-width="1.1"/>
<circle cx="636.42" cy="416.09" r="2.1" fill="none" stroke="#000000" stroke-width="1.1"/>
<circle cx="642.34" cy="415.55" r="2.1" fill="none" stroke="#000000" stroke-width="1.1"/>
<circle cx="648.26" cy="409.83" r="2.1" fill="none" stroke="#000000" stroke-width="1.1"/>
<circle cx="654.18" cy="406.56" r="2.1" fill="none" stroke="#000000" stroke-width="1.1"/>
<circle cx="660.1" cy="408.06" r="2.1" fill="none" stroke="#000000" stroke-width="1.1"/>
<circle cx="666.02" cy="410.65" r="2.1" fill="none" stroke="#000000" stroke-width="1.1"/>
<circle cx="671.94" cy="411.6" r="2.1" fill="none" stroke="#000000" stroke-width="1.1"/>
<circle cx="677.86" cy="410.65" r="2.1" fill="none" stroke="#000000" stroke-width="1.1"/>
<circle cx="683.78" cy="408.06" r="2.1" fill="none" stroke="#000000" stroke-width="1.1"/>
<circle cx="535.78" cy="402.89" r="2.1" fill="none" stroke="#0000ff" stroke-width="1.1"/>
<circle cx="541.7" cy="402.89" r="2.1" fill="none" stroke="#0000ff" stroke-width="1.1"/>
<circle cx="547.62" cy="406.56" r="2.1" fill="none" stroke="#0000ff" stroke-width="1.1"/>
<circle cx="553.54" cy="408.47" r="2.1" fill="none" stroke="#0000ff" stroke-width="1.1"/>
<circle cx="559.46" cy="412.28" r="2.1" fill="none" stroke="#0000ff" stroke-width="1.1"/>
<circle cx="565.38" cy="414.05" r="2.1" fill="none" stroke="#0000ff" stroke-width="1.1"/>
<circle cx="571.3" cy="414.05" r="2.1" fill="none" stroke="#0000ff" stroke-width="1.1"/>
<circle cx="577.22" cy="414.87" r="2.1" fill="none" stroke="#0000ff" stroke-width="1.1"/>
<circle cx="583.14" cy="416.63" r="2.1" fill="none" stroke="#0000ff" stroke-width="1.1"/>
<circle cx="589.06" cy="419.22" r="2.1" fill="none" stroke="#0000ff" stroke-width="1.1"/>
<circle cx="594.98" cy="420.72" r="2.1" fill="none" stroke="#0000ff" stroke-width="1.1"/>
<circle cx="600.9" cy="419.9" r="2.1" fill="none" stroke="#0000ff" stroke-width="1.1"/>
<circle cx="606.82" cy="421.26" r="2.1" fill="none" stroke="#0000ff" stroke-width="1.1"/>
<circle cx="612.74" cy="421.67" r="2.1" fill="none" stroke="#0000ff" stroke-width="1.1"/>
<circle cx="618.66" cy="422.49" r="2.1" fill="none" stroke="#0000ff" stroke-width="1.1"/>
<circle cx="624.58" cy="423.17" r="2.1" fill="none" stroke="#0000ff" stroke-width="1.1"/>
<circle cx="630.5" cy="424.94" r="2.1" fill="none" stroke="#0000ff" stroke-width="1.1"/>
<circle cx="636.42" cy="426.3" r="2.1" fill="none" stroke="#0000ff" stroke-width="1.1"/>
<circle cx="642.34" cy="424.94" r="2.1" fill="none" stroke="#0000ff" stroke-width="1.1"/>
<circle cx="648.26" cy="423.71" r="2.1" fill="none" stroke="#0000ff" stroke-width="1.1"/>
<circle cx="654.18" cy="422.49" r="2.1" fill="none" stroke="#0000ff" stroke-width="1.1"/>
<circle cx="660.1" cy="421.67" r="2.1" fill="none" stroke="#0000ff" stroke-width="1.1"/>
<circle cx="666.02" cy="422.49" r="2.1" fill="none" stroke="#0000ff" stroke-width="1.1"/>
<circle cx="671.94" cy="423.17" r="2.1" fill="none" stroke="#0000ff" stroke-width="1.1"/>
<circle cx="677.86" cy="423.71" r="2.1" fill="none" stroke="#0000ff" stroke-width="1.1"/>
<circle cx="683.78" cy="424.26" r="2.1" fill="none" stroke="#0000ff" stroke-width="1.1"/>
<circle cx="535.78" cy="420.72" r="2.1" fill="none" stroke="#ee2a2a" stroke-width="1.1"/>
<circle cx="541.7" cy="420.72" r="2.1" fill="none" stroke="#ee2a2a" stroke-width="1.1"/>
<circle cx="547.62" cy="421.67" r="2.1" fill="none" stroke="#ee2a2a" stroke-width="1.1"/>
<circle cx="553.54" cy="421.67" r="2.1" fill="none" stroke="#ee2a2a" stroke-width="1.1"/>
<circle cx="559.46" cy="422.49" r="2.1" fill="none" stroke="#ee2a2a" stroke-width="1.1"/>
<circle cx="565.38" cy="423.3" r="2.1" fill="none" stroke="#ee2a2a" stroke-width="1.1"/>
<circle cx="571.3" cy="422.49" r="2.1" fill="none" stroke="#ee2a2a" stroke-width="1.1"/>
<circle cx="577.22" cy="422.49" r="2.1" fill="none" stroke="#ee2a2a" stroke-width="1.1"/>
<circle cx="583.14" cy="423.3" r="2.1" fill="none" stroke="#ee2a2a" stroke-width="1.1"/>
<circle cx="589.06" cy="424.26" r="2.1" fill="none" stroke="#ee2a2a" stroke-width="1.1"/>
<circle cx="594.98" cy="424.26" r="2.1" fill="none" stroke="#ee2a2a" stroke-width="1.1"/>
<circle cx="600.9" cy="423.71" r="2.1" fill="none" stroke="#ee2a2a" stroke-width="1.1"/>
<circle cx="606.82" cy="423.3" r="2.1" fill="none" stroke="#ee2a2a" stroke-width="1.1"/>
<circle cx="612.74" cy="423.3" r="2.1" fill="none" stroke="#ee2a2a" stroke-width="1.1"/>
<circle cx="618.66" cy="423.71" r="2.1" fill="none" stroke="#ee2a2a" stroke-width="1.1"/>
<circle cx="624.58" cy="424.26" r="2.1" fill="none" stroke="#ee2a2a" stroke-width="1.1"/>
<circle cx="630.5" cy="424.94" r="2.1" fill="none" stroke="#ee2a2a" stroke-width="1.1"/>
<circle cx="636.42" cy="424.26" r="2.1" fill="none" stroke="#ee2a2a" stroke-width="1.1"/>
<circle cx="642.34" cy="422.49" r="2.1" fill="none" stroke="#ee2a2a" stroke-width="1.1"/>
<circle cx="648.26" cy="419.9" r="2.1" fill="none" stroke="#ee2a2a" stroke-width="1.1"/>
<circle cx="654.18" cy="418.13" r="2.1" fill="none" stroke="#ee2a2a" stroke-width="1.1"/>
<circle cx="660.1" cy="418.13" r="2.1" fill="none" stroke="#ee2a2a" stroke-width="1.1"/>
<circle cx="666.02" cy="419.9" r="2.1" fill="none" stroke="#ee2a2a" stroke-width="1.1"/>
<circle cx="671.94" cy="420.72" r="2.1" fill="none" stroke="#ee2a2a" stroke-width="1.1"/>
<circle cx="677.86" cy="420.72" r="2.1" fill="none" stroke="#ee2a2a" stroke-width="1.1"/>
<circle cx="683.78" cy="419.9" r="2.1" fill="none" stroke="#ee2a2a" stroke-width="1.1"/>
<circle cx="535.78" cy="308.3" r="2.6" fill="url(#gK)"/>
<circle cx="541.7" cy="308.3" r="2.6" fill="url(#gK)"/>
<circle cx="547.62" cy="307.07" r="2.6" fill="url(#gK)"/>
<circle cx="553.54" cy="306.26" r="2.6" fill="url(#gK)"/>
<circle cx="559.46" cy="305.85" r="2.6" fill="url(#gK)"/>
<circle cx="565.38" cy="305.3" r="2.6" fill="url(#gK)"/>
<circle cx="571.3" cy="306.26" r="2.6" fill="url(#gK)"/>
<circle cx="577.22" cy="307.75" r="2.6" fill="url(#gK)"/>
<circle cx="583.14" cy="307.07" r="2.6" fill="url(#gK)"/>
<circle cx="589.06" cy="306.26" r="2.6" fill="url(#gK)"/>
<circle cx="594.98" cy="307.07" r="2.6" fill="url(#gK)"/>
<circle cx="600.9" cy="308.71" r="2.6" fill="url(#gK)"/>
<circle cx="606.82" cy="310.34" r="2.6" fill="url(#gK)"/>
<circle cx="612.74" cy="310.34" r="2.6" fill="url(#gK)"/>
<circle cx="618.66" cy="308.71" r="2.6" fill="url(#gK)"/>
<circle cx="624.58" cy="306.26" r="2.6" fill="url(#gK)"/>
<circle cx="630.5" cy="305.3" r="2.6" fill="url(#gK)"/>
<circle cx="636.42" cy="307.07" r="2.6" fill="url(#gK)"/>
<circle cx="642.34" cy="308.71" r="2.6" fill="url(#gK)"/>
<circle cx="648.26" cy="313.33" r="2.6" fill="url(#gK)"/>
<circle cx="654.18" cy="317.15" r="2.6" fill="url(#gK)"/>
<circle cx="660.1" cy="315.92" r="2.6" fill="url(#gK)"/>
<circle cx="666.02" cy="312.93" r="2.6" fill="url(#gK)"/>
<circle cx="671.94" cy="312.11" r="2.6" fill="url(#gK)"/>
<circle cx="677.86" cy="313.33" r="2.6" fill="url(#gK)"/>
<circle cx="683.78" cy="315.38" r="2.6" fill="url(#gK)"/>
<circle cx="535.78" cy="320.96" r="2.6" fill="url(#gB)"/>
<circle cx="541.7" cy="320.96" r="2.6" fill="url(#gB)"/>
<circle cx="547.62" cy="317.15" r="2.6" fill="url(#gB)"/>
<circle cx="553.54" cy="315.38" r="2.6" fill="url(#gB)"/>
<circle cx="559.46" cy="312.11" r="2.6" fill="url(#gB)"/>
<circle cx="565.38" cy="309.52" r="2.6" fill="url(#gB)"/>
<circle cx="571.3" cy="310.34" r="2.6" fill="url(#gB)"/>
<circle cx="577.22" cy="309.52" r="2.6" fill="url(#gB)"/>
<circle cx="583.14" cy="307.07" r="2.6" fill="url(#gB)"/>
<circle cx="589.06" cy="304.49" r="2.6" fill="url(#gB)"/>
<circle cx="594.98" cy="303.81" r="2.6" fill="url(#gB)"/>
<circle cx="600.9" cy="303.81" r="2.6" fill="url(#gB)"/>
<circle cx="606.82" cy="303.81" r="2.6" fill="url(#gB)"/>
<circle cx="612.74" cy="302.72" r="2.6" fill="url(#gB)"/>
<circle cx="618.66" cy="302.04" r="2.6" fill="url(#gB)"/>
<circle cx="624.58" cy="300.68" r="2.6" fill="url(#gB)"/>
<circle cx="630.5" cy="298.64" r="2.6" fill="url(#gB)"/>
<circle cx="636.42" cy="298.23" r="2.6" fill="url(#gB)"/>
<circle cx="642.34" cy="298.64" r="2.6" fill="url(#gB)"/>
<circle cx="648.26" cy="300.27" r="2.6" fill="url(#gB)"/>
<circle cx="654.18" cy="301.22" r="2.6" fill="url(#gB)"/>
<circle cx="660.1" cy="302.04" r="2.6" fill="url(#gB)"/>
<circle cx="666.02" cy="301.22" r="2.6" fill="url(#gB)"/>
<circle cx="671.94" cy="300.68" r="2.6" fill="url(#gB)"/>
<circle cx="677.86" cy="300.27" r="2.6" fill="url(#gB)"/>
<circle cx="683.78" cy="300.27" r="2.6" fill="url(#gB)"/>
<circle cx="535.78" cy="301.22" r="2.6" fill="url(#gR)"/>
<circle cx="541.7" cy="301.22" r="2.6" fill="url(#gR)"/>
<circle cx="547.62" cy="300.68" r="2.6" fill="url(#gR)"/>
<circle cx="553.54" cy="300.68" r="2.6" fill="url(#gR)"/>
<circle cx="559.46" cy="300.27" r="2.6" fill="url(#gR)"/>
<circle cx="565.38" cy="299.45" r="2.6" fill="url(#gR)"/>
<circle cx="571.3" cy="299.45" r="2.6" fill="url(#gR)"/>
<circle cx="577.22" cy="299.45" r="2.6" fill="url(#gR)"/>
<circle cx="583.14" cy="299.45" r="2.6" fill="url(#gR)"/>
<circle cx="589.06" cy="298.64" r="2.6" fill="url(#gR)"/>
<circle cx="594.98" cy="298.23" r="2.6" fill="url(#gR)"/>
<circle cx="600.9" cy="298.64" r="2.6" fill="url(#gR)"/>
<circle cx="606.82" cy="298.64" r="2.6" fill="url(#gR)"/>
<circle cx="612.74" cy="299.45" r="2.6" fill="url(#gR)"/>
<circle cx="618.66" cy="299.45" r="2.6" fill="url(#gR)"/>
<circle cx="624.58" cy="298.64" r="2.6" fill="url(#gR)"/>
<circle cx="630.5" cy="298.23" r="2.6" fill="url(#gR)"/>
<circle cx="636.42" cy="298.64" r="2.6" fill="url(#gR)"/>
<circle cx="642.34" cy="300.27" r="2.6" fill="url(#gR)"/>
<circle cx="648.26" cy="302.72" r="2.6" fill="url(#gR)"/>
<circle cx="654.18" cy="305.3" r="2.6" fill="url(#gR)"/>
<circle cx="660.1" cy="304.49" r="2.6" fill="url(#gR)"/>
<circle cx="666.02" cy="302.72" r="2.6" fill="url(#gR)"/>
<circle cx="671.94" cy="302.72" r="2.6" fill="url(#gR)"/>
<circle cx="677.86" cy="302.72" r="2.6" fill="url(#gR)"/>
<circle cx="683.78" cy="303.26" r="2.6" fill="url(#gR)"/>
</g>
<rect x="29.1" y="293.6" width="675.4" height="136.1" fill="none" stroke="#000" stroke-width="1.5"/>
<line x1="29.1" y1="429.7" x2="31.3" y2="429.7" stroke="#000" stroke-width="1"/>
<text x="26.1" y="431.9" font-size="6.2" font-weight="bold" fill="#000" text-anchor="end" stroke="#000" stroke-width="0.16">0.0</text>
<line x1="29.1" y1="402.48" x2="31.3" y2="402.48" stroke="#000" stroke-width="1"/>
<text x="26.1" y="404.68" font-size="6.2" font-weight="bold" fill="#000" text-anchor="end" stroke="#000" stroke-width="0.16">0.2</text>
<line x1="29.1" y1="375.26" x2="31.3" y2="375.26" stroke="#000" stroke-width="1"/>
<text x="26.1" y="377.46" font-size="6.2" font-weight="bold" fill="#000" text-anchor="end" stroke="#000" stroke-width="0.16">0.4</text>
<line x1="29.1" y1="348.04" x2="31.3" y2="348.04" stroke="#000" stroke-width="1"/>
<text x="26.1" y="350.24" font-size="6.2" font-weight="bold" fill="#000" text-anchor="end" stroke="#000" stroke-width="0.16">0.6</text>
<line x1="29.1" y1="320.82" x2="31.3" y2="320.82" stroke="#000" stroke-width="1"/>
<text x="26.1" y="323.02" font-size="6.2" font-weight="bold" fill="#000" text-anchor="end" stroke="#000" stroke-width="0.16">0.8</text>
<line x1="29.1" y1="293.6" x2="31.3" y2="293.6" stroke="#000" stroke-width="1"/>
<text x="26.1" y="295.8" font-size="6.2" font-weight="bold" fill="#000" text-anchor="end" stroke="#000" stroke-width="0.16">1.0</text>
<line x1="29.1" y1="416.09" x2="30.4" y2="416.09" stroke="#000" stroke-width="0.7"/>
<line x1="29.1" y1="388.87" x2="30.4" y2="388.87" stroke="#000" stroke-width="0.7"/>
<line x1="29.1" y1="361.65" x2="30.4" y2="361.65" stroke="#000" stroke-width="0.7"/>
<line x1="29.1" y1="334.43" x2="30.4" y2="334.43" stroke="#000" stroke-width="0.7"/>
<line x1="29.1" y1="307.21" x2="30.4" y2="307.21" stroke="#000" stroke-width="0.7"/>
<line x1="46.1" y1="429.7" x2="46.1" y2="427.5" stroke="#000" stroke-width="1"/>
<text x="46.1" y="438.6" font-size="6.5" font-weight="bold" fill="#000" text-anchor="middle" stroke="#000" stroke-width="0.16">8</text>
<line x1="80.5" y1="429.7" x2="80.5" y2="427.5" stroke="#000" stroke-width="1"/>
<text x="80.5" y="438.6" font-size="6.5" font-weight="bold" fill="#000" text-anchor="middle" stroke="#000" stroke-width="0.16">9</text>
<line x1="114.9" y1="429.7" x2="114.9" y2="427.5" stroke="#000" stroke-width="1"/>
<text x="114.9" y="438.6" font-size="6.5" font-weight="bold" fill="#000" text-anchor="middle" stroke="#000" stroke-width="0.16">10</text>
<line x1="149.3" y1="429.7" x2="149.3" y2="427.5" stroke="#000" stroke-width="1"/>
<text x="149.3" y="438.6" font-size="6.5" font-weight="bold" fill="#000" text-anchor="middle" stroke="#000" stroke-width="0.16">11</text>
<line x1="183.7" y1="429.7" x2="183.7" y2="427.5" stroke="#000" stroke-width="1"/>
<text x="183.7" y="438.6" font-size="6.5" font-weight="bold" fill="#000" text-anchor="middle" stroke="#000" stroke-width="0.16">12</text>
<line x1="215.56" y1="429.7" x2="215.56" y2="427.5" stroke="#000" stroke-width="1"/>
<text x="215.56" y="438.6" font-size="6.5" font-weight="bold" fill="#000" text-anchor="middle" stroke="#000" stroke-width="0.16">13</text>
<line x1="245.66" y1="429.7" x2="245.66" y2="427.5" stroke="#000" stroke-width="1"/>
<text x="245.66" y="438.6" font-size="6.5" font-weight="bold" fill="#000" text-anchor="middle" stroke="#000" stroke-width="0.16">14</text>
<line x1="275.76" y1="429.7" x2="275.76" y2="427.5" stroke="#000" stroke-width="1"/>
<text x="275.76" y="438.6" font-size="6.5" font-weight="bold" fill="#000" text-anchor="middle" stroke="#000" stroke-width="0.16">15</text>
<line x1="305.86" y1="429.7" x2="305.86" y2="427.5" stroke="#000" stroke-width="1"/>
<text x="305.86" y="438.6" font-size="6.5" font-weight="bold" fill="#000" text-anchor="middle" stroke="#000" stroke-width="0.16">16</text>
<line x1="335.96" y1="429.7" x2="335.96" y2="427.5" stroke="#000" stroke-width="1"/>
<text x="335.96" y="438.6" font-size="6.5" font-weight="bold" fill="#000" text-anchor="middle" stroke="#000" stroke-width="0.16">17</text>
<line x1="366.06" y1="429.7" x2="366.06" y2="427.5" stroke="#000" stroke-width="1"/>
<text x="366.06" y="438.6" font-size="6.5" font-weight="bold" fill="#000" text-anchor="middle" stroke="#000" stroke-width="0.16">18</text>
<line x1="406.5" y1="429.7" x2="406.5" y2="427.5" stroke="#000" stroke-width="1"/>
<text x="406.5" y="438.6" font-size="6.5" font-weight="bold" fill="#000" text-anchor="middle" stroke="#000" stroke-width="0.16">20</text>
<line x1="446.5" y1="429.7" x2="446.5" y2="427.5" stroke="#000" stroke-width="1"/>
<text x="446.5" y="438.6" font-size="6.5" font-weight="bold" fill="#000" text-anchor="middle" stroke="#000" stroke-width="0.16">22</text>
<line x1="486.5" y1="429.7" x2="486.5" y2="427.5" stroke="#000" stroke-width="1"/>
<text x="486.5" y="438.6" font-size="6.5" font-weight="bold" fill="#000" text-anchor="middle" stroke="#000" stroke-width="0.16">24</text>
<line x1="526.5" y1="429.7" x2="526.5" y2="427.5" stroke="#000" stroke-width="1"/>
<text x="526.5" y="438.6" font-size="6.5" font-weight="bold" fill="#000" text-anchor="middle" stroke="#000" stroke-width="0.16">26</text>
<line x1="552.35" y1="429.7" x2="552.35" y2="427.5" stroke="#000" stroke-width="1"/>
<text x="552.35" y="438.6" font-size="6.5" font-weight="bold" fill="#000" text-anchor="middle" stroke="#000" stroke-width="0.16">28</text>
<line x1="574.15" y1="429.7" x2="574.15" y2="427.5" stroke="#000" stroke-width="1"/>
<text x="574.15" y="438.6" font-size="6.5" font-weight="bold" fill="#000" text-anchor="middle" stroke="#000" stroke-width="0.16">30</text>
<line x1="595.95" y1="429.7" x2="595.95" y2="427.5" stroke="#000" stroke-width="1"/>
<text x="595.95" y="438.6" font-size="6.5" font-weight="bold" fill="#000" text-anchor="middle" stroke="#000" stroke-width="0.16">32</text>
<line x1="617.75" y1="429.7" x2="617.75" y2="427.5" stroke="#000" stroke-width="1"/>
<text x="617.75" y="438.6" font-size="6.5" font-weight="bold" fill="#000" text-anchor="middle" stroke="#000" stroke-width="0.16">34</text>
<line x1="639.55" y1="429.7" x2="639.55" y2="427.5" stroke="#000" stroke-width="1"/>
<text x="639.55" y="438.6" font-size="6.5" font-weight="bold" fill="#000" text-anchor="middle" stroke="#000" stroke-width="0.16">36</text>
<line x1="661.35" y1="429.7" x2="661.35" y2="427.5" stroke="#000" stroke-width="1"/>
<text x="661.35" y="438.6" font-size="6.5" font-weight="bold" fill="#000" text-anchor="middle" stroke="#000" stroke-width="0.16">38</text>
<line x1="683.15" y1="429.7" x2="683.15" y2="427.5" stroke="#000" stroke-width="1"/>
<text x="683.15" y="438.6" font-size="6.5" font-weight="bold" fill="#000" text-anchor="middle" stroke="#000" stroke-width="0.16">40</text>
<line x1="704.4" y1="429.7" x2="704.4" y2="427.5" stroke="#000" stroke-width="1"/>
<text x="704.4" y="438.6" font-size="6.5" font-weight="bold" fill="#000" text-anchor="middle" stroke="#000" stroke-width="0.16">42</text>
<line x1="63.3" y1="429.7" x2="63.3" y2="428.4" stroke="#000" stroke-width="0.7"/>
<line x1="97.7" y1="429.7" x2="97.7" y2="428.4" stroke="#000" stroke-width="0.7"/>
<line x1="132.1" y1="429.7" x2="132.1" y2="428.4" stroke="#000" stroke-width="0.7"/>
<line x1="166.5" y1="429.7" x2="166.5" y2="428.4" stroke="#000" stroke-width="0.7"/>
<line x1="200.51" y1="429.7" x2="200.51" y2="428.4" stroke="#000" stroke-width="0.7"/>
<line x1="230.61" y1="429.7" x2="230.61" y2="428.4" stroke="#000" stroke-width="0.7"/>
<line x1="260.71" y1="429.7" x2="260.71" y2="428.4" stroke="#000" stroke-width="0.7"/>
<line x1="290.81" y1="429.7" x2="290.81" y2="428.4" stroke="#000" stroke-width="0.7"/>
<line x1="320.91" y1="429.7" x2="320.91" y2="428.4" stroke="#000" stroke-width="0.7"/>
<line x1="351.01" y1="429.7" x2="351.01" y2="428.4" stroke="#000" stroke-width="0.7"/>
<line x1="386.5" y1="429.7" x2="386.5" y2="428.4" stroke="#000" stroke-width="0.7"/>
<line x1="426.5" y1="429.7" x2="426.5" y2="428.4" stroke="#000" stroke-width="0.7"/>
<line x1="466.5" y1="429.7" x2="466.5" y2="428.4" stroke="#000" stroke-width="0.7"/>
<line x1="506.5" y1="429.7" x2="506.5" y2="428.4" stroke="#000" stroke-width="0.7"/>
<line x1="541.45" y1="429.7" x2="541.45" y2="428.4" stroke="#000" stroke-width="0.7"/>
<line x1="563.25" y1="429.7" x2="563.25" y2="428.4" stroke="#000" stroke-width="0.7"/>
<line x1="585.05" y1="429.7" x2="585.05" y2="428.4" stroke="#000" stroke-width="0.7"/>
<line x1="606.85" y1="429.7" x2="606.85" y2="428.4" stroke="#000" stroke-width="0.7"/>
<line x1="628.65" y1="429.7" x2="628.65" y2="428.4" stroke="#000" stroke-width="0.7"/>
<line x1="650.45" y1="429.7" x2="650.45" y2="428.4" stroke="#000" stroke-width="0.7"/>
<line x1="672.25" y1="429.7" x2="672.25" y2="428.4" stroke="#000" stroke-width="0.7"/>
<line x1="694.05" y1="429.7" x2="694.05" y2="428.4" stroke="#000" stroke-width="0.7"/>
<text x="371.6" y="446.6" font-size="7.7" font-weight="bold" fill="#000" text-anchor="middle" stroke="#000" stroke-width="0.16">Frequency (GHz)</text>
<text x="15" y="361.4" font-size="7.4" font-weight="bold" fill="#000" text-anchor="middle" transform="rotate(-90 15 361.4)" stroke="#000" stroke-width="0.16">A/R</text>
<circle cx="172.3" cy="342" r="2.5" fill="url(#gK)"/>
<text x="181.9" y="344.2" font-size="6.35" font-weight="bold" fill="#111" text-anchor="start" stroke="#111" stroke-width="0.16">MG 4L-MXene-A</text>
<circle cx="172.3" cy="349.8" r="2" fill="none" stroke="#000000" stroke-width="1.1"/>
<text x="181.9" y="352" font-size="6.35" font-weight="bold" fill="#111" text-anchor="start" stroke="#111" stroke-width="0.16">MG 4L-MXene-R</text>
<circle cx="172.3" cy="357.8" r="2.5" fill="url(#gB)"/>
<text x="181.9" y="360" font-size="6.35" font-weight="bold" fill="#111" text-anchor="start" stroke="#111" stroke-width="0.16">MG 6L-MXene-A</text>
<circle cx="172.3" cy="365.6" r="2" fill="none" stroke="#0000ff" stroke-width="1.1"/>
<text x="181.9" y="367.8" font-size="6.35" font-weight="bold" fill="#111" text-anchor="start" stroke="#111" stroke-width="0.16">MG 6L-MXene-R</text>
<circle cx="172.3" cy="373.6" r="2.5" fill="url(#gR)"/>
<text x="181.9" y="375.8" font-size="6.35" font-weight="bold" fill="#111" text-anchor="start" stroke="#111" stroke-width="0.16">MG 8L-MXene-A</text>
<circle cx="172.3" cy="381.6" r="2" fill="none" stroke="#ee2a2a" stroke-width="1.1"/>
<text x="181.9" y="383.8" font-size="6.35" font-weight="bold" fill="#111" text-anchor="start" stroke="#111" stroke-width="0.16">MG 8L-MXene-R</text>
<text x="4" y="310.9" font-size="21" font-weight="bold" fill="#231f20" text-anchor="start" stroke="#231f20" stroke-width="0.3">i</text>
<rect x="57.6" y="510" width="196.9" height="48.7" fill="#ffd560"/>
<rect x="57.6" y="558.7" width="196.9" height="48" fill="#6b6bfb"/>
<line x1="87" y1="461.7" x2="135.2" y2="553.5" stroke="#8a7a8a" stroke-width="0.7"/>
<path d="M87 461.7A3.99 4.7 62.3 0 1 90.71 468.76ZM90.71 468.76A3.99 4.7 62.3 0 0 94.42 475.82ZM94.42 475.82A3.99 4.7 62.3 0 1 98.12 482.88ZM98.12 482.88A3.99 4.7 62.3 0 0 101.83 489.95ZM101.83 489.95A3.99 4.7 62.3 0 1 105.54 497.01ZM105.54 497.01A3.99 4.7 62.3 0 0 109.25 504.07ZM109.25 504.07A3.99 4.7 62.3 0 1 112.95 511.13ZM112.95 511.13A3.99 4.7 62.3 0 0 116.66 518.19ZM116.66 518.19A3.99 4.7 62.3 0 1 120.37 525.25ZM120.37 525.25A3.99 4.7 62.3 0 0 124.08 532.32ZM124.08 532.32A3.99 4.7 62.3 0 1 127.78 539.38ZM127.78 539.38A3.99 4.7 62.3 0 0 131.49 546.44ZM131.49 546.44A3.99 4.7 62.3 0 1 135.2 553.5Z" fill="#ee76ee" stroke="#b27ab2" stroke-width="0.35"/>
<line x1="134.8" y1="461.5" x2="111.8" y2="509" stroke="#8a7a8a" stroke-width="0.7"/>
<path d="M134.8 461.5A3.77 4.7 115.84 0 0 131.51 468.29ZM131.51 468.29A3.77 4.7 115.84 0 1 128.23 475.07ZM128.23 475.07A3.77 4.7 115.84 0 0 124.94 481.86ZM124.94 481.86A3.77 4.7 115.84 0 1 121.66 488.64ZM121.66 488.64A3.77 4.7 115.84 0 0 118.37 495.43ZM118.37 495.43A3.77 4.7 115.84 0 1 115.09 502.21ZM115.09 502.21A3.77 4.7 115.84 0 0 111.8 509Z" fill="#ee76ee" stroke="#b27ab2" stroke-width="0.35"/>
<line x1="139.5" y1="461.7" x2="185" y2="553.5" stroke="#8a7a8a" stroke-width="0.7"/>
<path d="M139.5 461.7A3.94 4.7 63.64 0 1 143 468.76ZM143 468.76A3.94 4.7 63.64 0 0 146.5 475.82ZM146.5 475.82A3.94 4.7 63.64 0 1 150 482.88ZM150 482.88A3.94 4.7 63.64 0 0 153.5 489.95ZM153.5 489.95A3.94 4.7 63.64 0 1 157 497.01ZM157 497.01A3.94 4.7 63.64 0 0 160.5 504.07ZM160.5 504.07A3.94 4.7 63.64 0 1 164 511.13ZM164 511.13A3.94 4.7 63.64 0 0 167.5 518.19ZM167.5 518.19A3.94 4.7 63.64 0 1 171 525.25ZM171 525.25A3.94 4.7 63.64 0 0 174.5 532.32ZM174.5 532.32A3.94 4.7 63.64 0 1 178 539.38ZM178 539.38A3.94 4.7 63.64 0 0 181.5 546.44ZM181.5 546.44A3.94 4.7 63.64 0 1 185 553.5Z" fill="#ee76ee" stroke="#b27ab2" stroke-width="0.35"/>
<line x1="183.5" y1="461.7" x2="135.2" y2="553.5" stroke="#8a7a8a" stroke-width="0.7"/>
<path d="M183.5 461.7A3.99 4.7 117.75 0 1 179.78 468.76ZM179.78 468.76A3.99 4.7 117.75 0 0 176.07 475.82ZM176.07 475.82A3.99 4.7 117.75 0 1 172.35 482.88ZM172.35 482.88A3.99 4.7 117.75 0 0 168.64 489.95ZM168.64 489.95A3.99 4.7 117.75 0 1 164.92 497.01ZM164.92 497.01A3.99 4.7 117.75 0 0 161.21 504.07ZM161.21 504.07A3.99 4.7 117.75 0 1 157.49 511.13ZM157.49 511.13A3.99 4.7 117.75 0 0 153.78 518.19ZM153.78 518.19A3.99 4.7 117.75 0 1 150.06 525.25ZM150.06 525.25A3.99 4.7 117.75 0 0 146.35 532.32ZM146.35 532.32A3.99 4.7 117.75 0 1 142.63 539.38ZM142.63 539.38A3.99 4.7 117.75 0 0 138.92 546.44ZM138.92 546.44A3.99 4.7 117.75 0 1 135.2 553.5Z" fill="#ee76ee" stroke="#b27ab2" stroke-width="0.35"/>
<line x1="231.4" y1="461.7" x2="185" y2="553.5" stroke="#8a7a8a" stroke-width="0.7"/>
<path d="M231.4 461.7A3.96 4.7 116.81 0 1 227.83 468.76ZM227.83 468.76A3.96 4.7 116.81 0 0 224.26 475.82ZM224.26 475.82A3.96 4.7 116.81 0 1 220.69 482.88ZM220.69 482.88A3.96 4.7 116.81 0 0 217.12 489.95ZM217.12 489.95A3.96 4.7 116.81 0 1 213.55 497.01ZM213.55 497.01A3.96 4.7 116.81 0 0 209.98 504.07ZM209.98 504.07A3.96 4.7 116.81 0 1 206.42 511.13ZM206.42 511.13A3.96 4.7 116.81 0 0 202.85 518.19ZM202.85 518.19A3.96 4.7 116.81 0 1 199.28 525.25ZM199.28 525.25A3.96 4.7 116.81 0 0 195.71 532.32ZM195.71 532.32A3.96 4.7 116.81 0 1 192.14 539.38ZM192.14 539.38A3.96 4.7 116.81 0 0 188.57 546.44ZM188.57 546.44A3.96 4.7 116.81 0 1 185 553.5Z" fill="#ee76ee" stroke="#b27ab2" stroke-width="0.35"/>
<ellipse cx="112.1" cy="510" rx="16.6" ry="13.6" fill="none" stroke="#ee4b33" stroke-width="1.6" stroke-dasharray="3.3 1.9"/>
<ellipse cx="158.9" cy="510" rx="16.6" ry="13.6" fill="none" stroke="#ee4b33" stroke-width="1.6" stroke-dasharray="3.3 1.9"/>
<ellipse cx="135.4" cy="559.2" rx="16.6" ry="13.6" fill="none" stroke="#ee4b33" stroke-width="1.6" stroke-dasharray="3.3 1.9"/>
<ellipse cx="185" cy="559.2" rx="16.6" ry="13.6" fill="none" stroke="#ee4b33" stroke-width="1.6" stroke-dasharray="3.3 1.9"/>
<text x="59.5" y="480" font-size="10.8" font-weight="bold" fill="#111" text-anchor="middle" stroke="#111" stroke-width="0.24">Incident</text>
<text x="59.5" y="493.5" font-size="10.8" font-weight="bold" fill="#111" text-anchor="middle" stroke="#111" stroke-width="0.24">microwave</text>
<text x="259" y="480" font-size="10.8" font-weight="bold" fill="#111" text-anchor="middle" stroke="#111" stroke-width="0.24">Reflected</text>
<text x="259" y="493.5" font-size="10.8" font-weight="bold" fill="#111" text-anchor="middle" stroke="#111" stroke-width="0.24">microwave</text>
<text x="75" y="536.5" font-size="10.8" font-weight="bold" fill="#111" text-anchor="middle" stroke="#111" stroke-width="0.24">Multiple</text>
<text x="75" y="549.8" font-size="10.8" font-weight="bold" fill="#111" text-anchor="middle" stroke="#111" stroke-width="0.24">reflections</text>
<text x="154.2" y="618" font-size="10.8" font-weight="bold" fill="#111" text-anchor="middle" stroke="#111" stroke-width="0.24">180<tspan font-size="7" dy="-4">o</tspan><tspan dy="4"> phase change</tspan></text>
<line x1="143.2" y1="607.5" x2="137.6" y2="580" stroke="#111" stroke-width="1.5"/>
<path d="M135.8 573.5 L134.2 582.3 L140.6 581.2 Z" fill="#111"/>
<text x="3.2" y="475.7" font-size="21" font-weight="bold" fill="#231f20" text-anchor="start" stroke="#231f20" stroke-width="0.3">j</text>
<rect x="307.3" y="456.8" width="177" height="162.9" fill="none" stroke="#ee3030" stroke-width="1.3" stroke-dasharray="4 2.8"/>
<rect x="529.2" y="457.8" width="176.1" height="162.2" fill="none" stroke="#ee3030" stroke-width="1.3" stroke-dasharray="4 2.8"/>
<rect x="355.2" y="458.9" width="87.1" height="15.5" fill="#b6b6ee"/>
<rect x="464.5" y="458.9" width="87.3" height="16.2" fill="#86d8ea"/>
<rect x="575.5" y="458.8" width="87" height="16.7" fill="#b6b6ee"/>
<text x="398.8" y="469.5" font-size="7.95" font-weight="bold" fill="#1a1a2a" text-anchor="middle" stroke="#1a1a2a" stroke-width="0.16">Signal transmission</text>
<text x="508.4" y="470.2" font-size="7.9" font-weight="bold" fill="#1a1a2a" text-anchor="middle" stroke="#1a1a2a" stroke-width="0.16">Bluetooth module</text>
<text x="619.2" y="470.1" font-size="7.95" font-weight="bold" fill="#1a1a2a" text-anchor="middle" stroke="#1a1a2a" stroke-width="0.16">Signal shielding</text>
<line x1="484.3" y1="458.9" x2="484.3" y2="475" stroke="#ee3030" stroke-width="1.1" stroke-dasharray="4 2.8" opacity="0.6"/>
<line x1="529.2" y1="458.9" x2="529.2" y2="475" stroke="#ee3030" stroke-width="1.1" stroke-dasharray="4 2.8" opacity="0.6"/>
<polygon points="322.8,487.6 365.5,487.6 362.5,559.3 330.6,559.3" fill="#1b9a32"/>
<rect x="334.3" y="477.8" width="20.7" height="9.5" rx="2" fill="#252525"/>
<rect x="337.5" y="487.3" width="15.2" height="3" fill="#3a3a3a"/>
<rect x="338" y="490.3" width="14.1" height="10.6" fill="#dadcd8"/>
<rect x="339.5" y="492" width="11" height="6" fill="#eef0ee"/>
<rect x="338" y="503.8" width="4" height="3.8" fill="#d8ecd8"/>
<rect x="343" y="503.8" width="4" height="3.8" fill="#d8ecd8"/>
<rect x="348" y="503.8" width="4" height="3.8" fill="#d8ecd8"/>
<rect x="353" y="503.8" width="4" height="3.8" fill="#d8ecd8"/>
<circle cx="340.5" cy="510" r="0.9" fill="#f0fff0"/>
<circle cx="345.2" cy="510" r="0.9" fill="#f0fff0"/>
<circle cx="349.9" cy="510" r="0.9" fill="#f0fff0"/>
<circle cx="354.6" cy="510" r="0.9" fill="#f0fff0"/>
<circle cx="359.3" cy="510" r="0.9" fill="#f0fff0"/>
<rect x="338.5" y="513" width="3.5" height="3" fill="#bfe0bf"/>
<rect x="327.5" y="501" width="4.5" height="9" fill="#203020"/>
<rect x="328.5" y="512" width="4" height="8" fill="#223322"/>
<rect x="326.5" y="504" width="1.6" height="1.6" fill="#e0f0e0"/>
<rect x="332.5" y="522" width="3" height="2.5" fill="#cfe6cf"/>
<rect x="343.5" y="518.1" width="14.5" height="13.2" fill="#1d1d22"/>
<rect x="342.5" y="517" width="16.5" height="0.8" fill="#9fbf9f"/>
<rect x="329.5" y="534.5" width="3.6" height="5.5" fill="#f2f2f2"/>
<rect x="330.3" y="536" width="2" height="2.6" fill="#d02020"/>
<rect x="337" y="535.5" width="14" height="1.2" fill="#e0e8e0"/>
<rect x="338" y="538.5" width="1.6" height="7" fill="#d7e8d7"/>
<rect x="342" y="538.5" width="1.6" height="7" fill="#d7e8d7"/>
<rect x="346" y="538.5" width="1.6" height="7" fill="#d7e8d7"/>
<rect x="350" y="538.5" width="1.6" height="7" fill="#d7e8d7"/>
<rect x="354" y="538.5" width="1.6" height="7" fill="#d7e8d7"/>
<rect x="333.4" y="547.1" width="24.8" height="19.3" fill="#141414"/>
<rect x="335.8" y="559.8" width="1.3" height="2" fill="#c8a040"/>
<rect x="339.7" y="559.8" width="1.3" height="2" fill="#c8a040"/>
<rect x="343.6" y="559.8" width="1.3" height="2" fill="#c8a040"/>
<rect x="347.5" y="559.8" width="1.3" height="2" fill="#c8a040"/>
<rect x="351.4" y="559.8" width="1.3" height="2" fill="#c8a040"/>
<rect x="355.3" y="559.8" width="1.3" height="2" fill="#c8a040"/>
<polygon points="333.5,566.5 358.5,566.5 362.5,613.9 332.5,613.9" fill="#23963c"/>
<rect x="336.5" y="568.5" width="20" height="5" fill="#3b5a45"/>
<rect x="335.9" y="574.7" width="16.7" height="20.6" fill="#1c2a24"/>
<rect x="353.5" y="577" width="5" height="18" fill="#7f9f85"/>
<rect x="338" y="596.5" width="20" height="6.5" fill="#5d8066"/>
<path d="M337.5 611 h2v-4h3v4h3v-4h3v4h3v-4h3v4h3v-4h2" fill="none" stroke="#b57a3a" stroke-width="1.1"/>
<circle cx="359.4" cy="537.3" r="5.5" fill="url(#glow)"/>
<circle cx="357.5" cy="553" r="5" fill="url(#glow)"/>
<rect x="358" y="535" width="3" height="4.5" fill="#c8ffc8"/>
<circle cx="359.4" cy="536.5" r="7.6" fill="none" stroke="#ee2020" stroke-width="1.1" stroke-dasharray="2.2 1.6"/>
<polygon points="539.7,488.4 585.1,488.4 580.2,559.5 547.5,559.5" fill="#1b9a32"/>
<rect x="552.6" y="478.6" width="20.7" height="9.5" rx="2" fill="#252525"/>
<rect x="555.8" y="488.1" width="15.2" height="3" fill="#3a3a3a"/>
<rect x="556.3" y="491.1" width="14.1" height="10.6" fill="#dadcd8"/>
<rect x="557.8" y="492.8" width="11" height="6" fill="#eef0ee"/>
<rect x="556.3" y="504.6" width="4" height="3.8" fill="#d8ecd8"/>
<rect x="561.3" y="504.6" width="4" height="3.8" fill="#d8ecd8"/>
<rect x="566.3" y="504.6" width="4" height="3.8" fill="#d8ecd8"/>
<rect x="571.3" y="504.6" width="4" height="3.8" fill="#d8ecd8"/>
<circle cx="558.8" cy="510.8" r="0.9" fill="#f0fff0"/>
<circle cx="563.5" cy="510.8" r="0.9" fill="#f0fff0"/>
<circle cx="568.2" cy="510.8" r="0.9" fill="#f0fff0"/>
<circle cx="572.9" cy="510.8" r="0.9" fill="#f0fff0"/>
<circle cx="577.6" cy="510.8" r="0.9" fill="#f0fff0"/>
<rect x="556.8" y="513.8" width="3.5" height="3" fill="#bfe0bf"/>
<rect x="545.8" y="501.8" width="4.5" height="9" fill="#203020"/>
<rect x="546.8" y="512.8" width="4" height="8" fill="#223322"/>
<rect x="544.8" y="504.8" width="1.6" height="1.6" fill="#e0f0e0"/>
<rect x="550.8" y="522.8" width="3" height="2.5" fill="#cfe6cf"/>
<rect x="561.8" y="518.9" width="14.5" height="13.2" fill="#1d1d22"/>
<rect x="560.8" y="517.8" width="16.5" height="0.8" fill="#9fbf9f"/>
<rect x="547.8" y="535.3" width="3.6" height="5.5" fill="#f2f2f2"/>
<rect x="548.6" y="536.8" width="2" height="2.6" fill="#d02020"/>
<rect x="555.3" y="536.3" width="14" height="1.2" fill="#e0e8e0"/>
<rect x="556.3" y="539.3" width="1.6" height="7" fill="#d7e8d7"/>
<rect x="560.3" y="539.3" width="1.6" height="7" fill="#d7e8d7"/>
<rect x="564.3" y="539.3" width="1.6" height="7" fill="#d7e8d7"/>
<rect x="568.3" y="539.3" width="1.6" height="7" fill="#d7e8d7"/>
<rect x="572.3" y="539.3" width="1.6" height="7" fill="#d7e8d7"/>
<rect x="551.7" y="547.9" width="24.8" height="19.3" fill="#141414"/>
<rect x="554.1" y="560.6" width="1.3" height="2" fill="#c8a040"/>
<rect x="558" y="560.6" width="1.3" height="2" fill="#c8a040"/>
<rect x="561.9" y="560.6" width="1.3" height="2" fill="#c8a040"/>
<rect x="565.8" y="560.6" width="1.3" height="2" fill="#c8a040"/>
<rect x="569.7" y="560.6" width="1.3" height="2" fill="#c8a040"/>
<rect x="573.6" y="560.6" width="1.3" height="2" fill="#c8a040"/>
<polygon points="551.8,567.3 576.8,567.3 580.8,614.7 550.8,614.7" fill="#23963c"/>
<rect x="554.8" y="569.3" width="20" height="5" fill="#3b5a45"/>
<rect x="554.2" y="575.5" width="16.7" height="20.6" fill="#1c2a24"/>
<rect x="571.8" y="577.8" width="5" height="18" fill="#7f9f85"/>
<rect x="556.3" y="597.3" width="20" height="6.5" fill="#5d8066"/>
<path d="M555.8 611.8 h2v-4h3v4h3v-4h3v4h3v-4h3v4h3v-4h2" fill="none" stroke="#b57a3a" stroke-width="1.1"/>
<rect x="576.1" y="535.8" width="3" height="4.5" fill="#f0d8b0"/>
<circle cx="577.7" cy="537.3" r="7.6" fill="none" stroke="#ee2020" stroke-width="1.1" stroke-dasharray="2.2 1.6"/>
<text x="398.5" y="515.6" font-size="11.1" font-weight="bold" fill="#22b04a" text-anchor="middle" stroke="#22b04a" stroke-width="0.24">connected</text>
<text x="623.4" y="511.8" font-size="11.1" font-weight="bold" fill="#ee2020" text-anchor="middle" stroke="#ee2020" stroke-width="0.24">disconnected</text>
<path d="M384.2 530.54 A25.9 25.9 0 0 1 413.2 530.54" fill="none" stroke="#111" stroke-width="3.1"/>
<path d="M389.1 536.54 A18.2 18.2 0 0 1 408.3 536.54" fill="none" stroke="#111" stroke-width="3.1"/>
<path d="M393.3 543.11 A10.4 10.4 0 0 1 404.1 543.11" fill="none" stroke="#111" stroke-width="3.1"/>
<circle cx="398.9" cy="549.4" r="1.5" fill="#111"/>
<path d="M610.9 528.14 A25.9 25.9 0 0 1 639.9 528.14" fill="none" stroke="#111" stroke-width="3.1"/>
<path d="M615.8 534.14 A18.2 18.2 0 0 1 635 534.14" fill="none" stroke="#111" stroke-width="3.1"/>
<path d="M620 540.71 A10.4 10.4 0 0 1 630.8 540.71" fill="none" stroke="#111" stroke-width="3.1"/>
<circle cx="625.6" cy="547" r="1.5" fill="#111"/>
<path d="M613.5 524 L638.5 547 M638.5 524 L613.5 547" stroke="#ee2424" stroke-width="3.2"/>
<rect x="436.6" y="508.8" width="23.6" height="52.4" rx="1.6" fill="#fcfcfc" stroke="#161616" stroke-width="1.25"/>
<rect x="437.3" y="509.5" width="22.2" height="5.4" fill="#8fe6f6"/>
<rect x="444.2" y="509.4" width="8.4" height="1.6" fill="#161616"/>
<rect x="439.1" y="518.8" width="15.34" height="0.6" fill="#eee4ea"/>
<rect x="439.1" y="524.3" width="15.34" height="0.6" fill="#eee4ea"/>
<rect x="439.1" y="529.8" width="15.34" height="0.6" fill="#eee4ea"/>
<rect x="439.1" y="535.3" width="15.34" height="0.6" fill="#eee4ea"/>
<rect x="439.1" y="540.8" width="15.34" height="0.6" fill="#eee4ea"/>
<rect x="439.1" y="546.3" width="15.34" height="0.6" fill="#eee4ea"/>
<rect x="439.1" y="551.8" width="15.34" height="0.6" fill="#eee4ea"/>
<rect x="439.1" y="557.3" width="15.34" height="0.6" fill="#eee4ea"/>
<rect x="667.8" y="505" width="24.2" height="53.6" rx="1.6" fill="#fcfcfc" stroke="#161616" stroke-width="1.25"/>
<rect x="668.5" y="505.7" width="22.8" height="5.4" fill="#8fe6f6"/>
<rect x="675.7" y="505.6" width="8.4" height="1.6" fill="#161616"/>
<rect x="670.3" y="515" width="15.73" height="0.6" fill="#eee4ea"/>
<rect x="670.3" y="520.5" width="15.73" height="0.6" fill="#eee4ea"/>
<rect x="670.3" y="526" width="15.73" height="0.6" fill="#eee4ea"/>
<rect x="670.3" y="531.5" width="15.73" height="0.6" fill="#eee4ea"/>
<rect x="670.3" y="537" width="15.73" height="0.6" fill="#eee4ea"/>
<rect x="670.3" y="542.5" width="15.73" height="0.6" fill="#eee4ea"/>
<rect x="670.3" y="548" width="15.73" height="0.6" fill="#eee4ea"/>
<rect x="670.3" y="553.5" width="15.73" height="0.6" fill="#eee4ea"/>
<path d="M484.7 532 H517.3 V526 L528.1 537.4 L517.3 548.7 V542.8 H484.7 Z" fill="#46c4dc"/>
<path d="M569 598 L590 574 L588 606 Z" fill="#f2a23a" opacity="0.95"/>
<circle cx="605.9" cy="590.7" r="19.2" fill="#fffaf2" stroke="#f0a040" stroke-width="1.2" stroke-dasharray="2.6 1.8"/>
<rect x="593.3" y="582.1" width="22.2" height="15.2" rx="1.5" fill="#2f3a6a"/>
<rect x="596" y="584.5" width="16.8" height="10.4" fill="#23305a"/>
<circle cx="567.5" cy="599.2" r="7.3" fill="#223060" stroke="#f0a040" stroke-width="1.1" stroke-dasharray="2 1.5"/>
<text x="633.1" y="617.6" font-size="7.9" font-weight="bold" fill="#1a1a1a" text-anchor="middle" stroke="#1a1a1a" stroke-width="0.16">Printed conformal shield</text>
<text x="289.6" y="472.9" font-size="21" font-weight="bold" fill="#231f20" text-anchor="start" stroke="#231f20" stroke-width="0.3">k</text>
</svg></body></html>
